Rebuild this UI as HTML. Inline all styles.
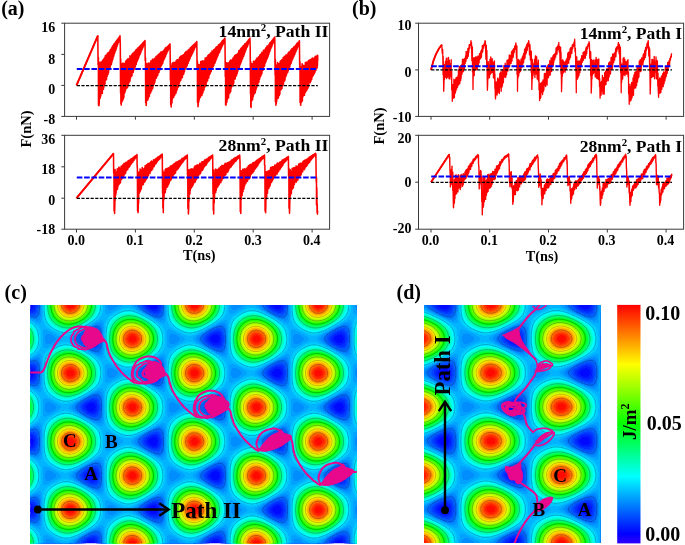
<!DOCTYPE html>
<html lang="en"><head><meta charset="utf-8"><title>Friction force and sliding paths</title>
<style>html,body{margin:0;padding:0;background:#fff}svg{display:block}text{font-family:"Liberation Serif","Times New Roman",serif;font-weight:bold;fill:#000}</style></head><body>
<svg width="685" height="545" viewBox="0 0 685 545">
<rect width="685" height="545" fill="#fff"/>
<defs>
<g id="cf" shape-rendering="crispEdges">
<rect x="-3" y="-3" width="206" height="106" fill="rgb(0,9,255)"/>
<path fill="#001cff" fill-rule="evenodd" d="M-2.6-3l129.3 0-0.9 1.3-0.4 1.4 0.3 1.7 0.8 1.3 1.4 1.5 2 1.2 2.3 0.8 2.1 0.3 1.7-0.1 1.3-0.5 1.3-0.9 0.9-1.2 0.6-1.5 0.3-1.8 0-1.7-0.5-1.8 63.1 0 0 106-63.1 0 0.5-1.8 0-1.7-0.3-1.8-0.6-1.5-0.9-1.2-1.3-0.9-1.3-0.5-1.7-0.1-2.1 0.3-2.3 0.8-2 1.2-1.4 1.5-0.8 1.3-0.3 1.8 0.4 1.3 0.9 1.3-129.7 0 0-106 0.4 0zM31.9 43.8l-3 1.3-2.2 1.8-0.6 0.9-0.6 1.3-0.1 0.9 0.3 1.3 0.7 1.3 1.1 1.2 1.4 1.1 1.6 0.8 1.7 0.5 1.7 0.3 1.7 0 1.3-0.4 1.8-1.2 0.8-1.1 0.5-1.2 0.4-1.3 0.1-1.7-0.6-2.7-1.3-1.9-1.7-1.1-2.1-0.4-2.9 0.3z"/>
<path fill="#002fff" fill-rule="evenodd" d="M-2.6-3l125.3 0-0.8 1.8-0.2 1.3 0.1 0.9 0.8 1.7 1.4 1.8 2.2 1.8 3.4 1.7 3 1.1 3 0.3 1.7-0.1 1.8-0.6 1.6-1.1 1-1.3 1-2.2 0.5-2.2 0.1-2.7-0.3-2.2 60 0 0 106-60 0 0.3-2.2-0.1-2.7-0.5-2.2-1-2.2-1-1.3-1.6-1.1-1.8-0.6-1.7-0.1-3 0.3-3 1.1-3.4 1.7-2.2 1.8-1.4 1.8-0.8 1.7-0.1 0.9 0.2 1.3 0.8 1.8-125.7 0 0-106 0.4 0zM33.7 40.7l-2.4 0.6-2.5 1-2.2 1.2-2.1 1.6-1.4 1.4-0.8 1.3-0.5 1.3 0 1.8 0.5 1.4 1.2 1.7 1.8 1.6 2.3 1.5 2.4 1.1 2.6 0.9 2.6 0.3 2.1-0.1 1.8-0.6 1.2-0.7 1.2-1.4 0.8-1.3 0.6-1.8 0.4-2.2 0-2.2-0.2-1.7-1.1-3.1-0.8-1.4-1.3-1.1-1.3-0.7-1.3-0.4-1.7-0.1-1.9 0.1z"/>
<path fill="#0042ff" fill-rule="evenodd" d="M-2.6-3l122.1 0-0.8 2.2-0.1 0.9 0.2 1.3 1.2 2.2 2.1 2.2 3.2 2.2 4.3 2.2 3.9 1.2 3.4 0.4 2.2-0.2 1.7-0.6 1.6-1.2 1.3-1.8 1-2.2 0.5-2.6 0.3-3.1-0.2-3.1 57.7 0 0 106-57.7 0 0.2-3.1-0.3-3.1-0.5-2.6-1-2.2-1.3-1.8-1.6-1.2-1.7-0.6-2.2-0.2-3.4 0.4-3.9 1.2-4.3 2.2-3.2 2.2-2.1 2.2-1.2 2.2-0.2 1.3 0.1 0.9 0.8 2.2-122.5 0 0-106 0.4 0zM33.8 38.5l-2.9 0.9-3.3 1.3-3.1 1.8-2.2 1.5-1.7 1.6-1.3 1.8-0.6 1.7 0 1.8 0.6 1.7 1.8 2.3 2.5 2 3.1 1.9 3.3 1.5 3.5 1.1 3 0.4 2.6-0.2 1.7-0.6 1.3-0.9 1.2-1.4 1.1-2.1 0.7-2.4 0.3-2.9 0-3.1-0.4-2.6-0.6-2.2-0.9-1.8-1-1.3-1.3-1.1-1.3-0.6-1.7-0.4-2.1 0-2.3 0.3z"/>
<path fill="#0055ff" fill-rule="evenodd" d="M-2.6-3l119.2 0-0.6 1.3-0.3 1.4 0 0.8 0.4 1.4 1.3 2.2 2.8 2.6 4.1 2.7 5.3 2.5 4.7 1.6 3.9 0.5 2.4-0.2 1.9-0.7 1.7-1.5 1.2-1.8 1-2.6 0.6-3.1 0.3-3.6-0.2-3.5 55.9 0 0 106-55.9 0 0.2-3.5-0.3-3.6-0.6-3.1-1-2.6-1.2-1.8-1.7-1.5-1.9-0.7-2.4-0.2-3.9 0.5-4.7 1.6-5.3 2.5-4.1 2.7-2.8 2.6-1.3 2.2-0.4 1.4 0 0.9 0.3 1.3 0.6 1.3-119.6 0 0-106 0.4 0zM35.3 36.3l-3.5 1-3.9 1.5-3.8 1.9-3.4 2.2-2.6 2.2-1.4 1.8-0.9 2.2 0 1.8 0.9 2.2 1.9 2.2 3.3 2.6 3.9 2.3 4.2 1.9 3.9 1.3 3.4 0.6 3-0.2 2.2-0.8 1.4-1.1 1.3-1.7 1-2.2 0.6-2.7 0.4-3.5 0-3.6-0.4-3.5-0.5-2.2-0.8-2.2-1.2-1.8-1.4-1.3-1.7-0.8-1.7-0.4-2.2 0-2 0.3z"/>
<path fill="#0068ff" fill-rule="evenodd" d="M-2.6-3l116.4 0-0.7 1.3-0.3 1.4 0 0.8 0.4 1.4 0.7 1.3 1.1 1.3 3 2.7 5.7 3.5 6.3 3 5.6 1.9 2.2 0.4 2.1 0.2 2.2-0.3 2.1-0.9 1.7-1.6 1.1-1.8 0.9-2.7 0.7-3.5 0.3-4-0.1-4.4 54.2 0 0 106-54.2 0 0.1-4.4-0.3-4-0.7-3.5-0.9-2.7-1.1-1.8-1.7-1.6-2.1-0.9-2.2-0.3-2.1 0.2-2.2 0.4-5.6 1.9-6.3 3-5.7 3.5-3 2.7-1.1 1.3-0.7 1.3-0.4 1.4 0 0.9 0.3 1.3 0.7 1.3-116.8 0 0-106 0.4 0zM37.2 34.1l-3.7 0.9-4.7 1.8-5.3 2.6-4.4 2.6-2.8 2.3-2.1 2.2-1.2 2.2-0.2 1.7 0.8 2.2 0.9 1.4 1.3 1.3 3.3 2.7 4.4 2.6 5.5 2.6 4.9 1.9 3.9 0.9 3.4 0.1 2.1-0.6 1.8-1.1 1.3-1.6 1.1-2.6 0.8-3.1 0.5-4 0.1-4.4-0.3-4-0.6-3.1-0.8-2.6-0.9-1.8-1.2-1.6-1.7-1.1-1.8-0.5-2.1-0.1-2.3 0.2z"/>
<path fill="#007bff" fill-rule="evenodd" d="M-2.6-3l113.5 0-0.7 1.3-0.3 1.4 0 0.8 0.4 1.4 0.7 1.3 1.2 1.3 3.7 3.1 6.7 4 7.9 3.7 6.4 2.3 2.6 0.6 2.1 0.1 2.6-0.3 1.7-0.9 1.5-1.5 1.1-2.1 0.9-2.9 0.6-3.9 0.3-4.8 0-4.9 52.7 0 0 106-52.7 0 0-4.9-0.3-4.8-0.6-3.9-0.9-2.9-1.1-2.1-1.5-1.5-1.7-0.9-2.6-0.3-2.1 0.1-2.6 0.6-6.4 2.3-7.9 3.7-6.7 4-3.7 3.1-1.2 1.3-0.7 1.3-0.4 1.4 0 0.9 0.3 1.3 0.7 1.3-113.9 0 0-106 0.4 0zM39.2 31.9l-4.4 1.1-5.2 2-6.4 3.1-5.4 3.1-3.8 2.6-2.3 2.2-1.5 2.2-0.3 1.4 0 0.8 0.2 0.9 0.6 1.3 1 1.4 1.3 1.3 3.4 2.7 5.2 3 6.3 3.2 6 2.5 4.7 1.3 2.2 0.3 1.7 0 2.1-0.5 1.8-1.1 1.3-1.7 1.2-2.6 0.8-3.6 0.5-4.4 0.1-5.3-0.2-4.8-0.5-3.6-0.7-2.9-0.9-2.4-1.2-1.7-1.3-1.1-1.7-0.7-2.2-0.2-2.4 0.2z"/>
<path fill="#008eff" fill-rule="evenodd" d="M-2.6-3l110.4 0-0.8 1.3-0.4 1.4 0 0.8 0.5 1.4 0.8 1.3 1.3 1.3 4 3.1 8.4 4.9 10.2 4.8 3.8 1.5 3.5 1.1 2.5 0.6 2.2 0.2 2.1-0.3 1.7-0.9 1.3-1.5 1.1-2.4 0.8-3.1 0.6-4.5 0.2-5.3 0-5.7 51.4 0 0 106-51.4 0 0-5.7-0.2-5.3-0.6-4.5-0.8-3.1-1.1-2.4-1.3-1.5-1.7-0.9-2.1-0.3-2.2 0.2-2.5 0.6-3.5 1.1-3.8 1.5-10.2 4.8-8.4 4.9-4 3.1-1.3 1.3-0.8 1.3-0.5 1.4 0 0.9 0.4 1.3 0.8 1.3-110.8 0 0-106 0.4 0zM40.6 29.7l-4.5 1.3-6.5 2.7-7.3 3.5-7.1 4-4 2.6-3 2.7-1.4 2.2-0.2 1.7 0.2 0.9 0.7 1.3 1.1 1.4 1.5 1.3 4.4 3.1 6.1 3.5 8.2 4.1 6.8 2.8 5.2 1.5 2.1 0.4 1.7-0.1 2.2-0.6 1.7-1.4 1.2-2.3 0.8-2.6 0.7-4.4 0.4-5.8 0-6.6-0.3-5.7-0.5-3.6-0.6-2.6-0.9-2.2-1.2-1.8-1.3-1-1.7-0.6-2.2-0.1-2.3 0.4z"/>
<path fill="#00a1ff" fill-rule="evenodd" d="M-2.6-3l61.8 0-0.2 2.2 0 2.2 0.3 2.2 0.6 1.8 0.6 1 0.9 0.8 1.3 0.5 1.2 0.1 2.6-0.4 3-1.1 3.3-1.8 2.3-1.8 1-1.3 0.4-1.3-0.3-1.3-1.4-1.8 29.4 0-1 1.3-0.4 0.9-0.1 0.9 0.4 1.3 0.9 1.3 1.3 1.4 4.4 3.1 10.3 5.7 13.5 6.5 7.7 3.1 3 0.7 2.1 0.3 1.8-0.3 0.8-0.4 0.8-0.6 1.2-1.8 0.7-2.2 0.6-3.5 0.5-4.9 0.2-12.8 50.1 0 0 51.7-0.3 1.3 0.3 1.3 0 51.7-50.1 0-0.2-12.8-0.5-4.9-0.6-3.5-0.7-2.2-1.2-1.8-0.8-0.6-0.8-0.4-1.8-0.3-2.1 0.3-3 0.7-7.7 3.1-13.5 6.5-10.3 5.7-4.4 3.1-1.3 1.4-0.9 1.3-0.4 1.3 0.1 0.9 0.4 0.9 1 1.3-29.4 0 1.4-1.8 0.3-1.3-0.4-1.3-1-1.3-2.3-1.8-3.3-1.8-3-1.1-2.6-0.4-1.2 0.1-1.3 0.5-0.9 0.8-0.6 1-0.6 1.8-0.3 2.2 0 2.2 0.2 2.2-62.2 0 0-106 0.4 0zM45.4 26.6l-2.5 0.4-2.6 0.8-7.7 3.2-11.9 5.8-9.7 5.2-4.7 3.1-2.4 2.3-0.9 1.3-0.3 0.9 0 0.8 0.5 1.4 1.1 1.3 1.4 1.3 5.3 3.6 8.8 4.8 11.5 5.6 6.9 3 4.7 1.6 3.5 0.5 1.2-0.2 1.3-0.5 1.3-1.2 0.9-1.7 0.7-2.7 0.6-3.6 0.3-5.2 0.2-6.6 0-7.1-0.3-6.2-0.9-6.2-0.6-2.2-0.6-1.3-0.7-0.9-1.3-0.9-1.3-0.4-1.8 0zM162 42.5l-1.3 0.9-0.8 1.3-0.7 2.2-0.2 2.2 0 2.7 0.5 2.6 0.9 1.8 1 1 1.3 0.5 1.2 0.1 1.8-0.2 2.1-0.6 2.8-1.3 2.3-1.3 1.8-1.3 1.2-1.3 0.5-0.9 0.1-0.9-0.3-1.3-1-1.3-2.3-1.8-3.2-1.8-3.2-1.2-2.6-0.4-1.9 0.3z"/>
<path fill="#00b4ff" fill-rule="evenodd" d="M-2.6-3l58 0 0 8.4 0.6 5.3 0.5 1.8 0.6 0.8 0.8 0.5 0.9 0.1 1.3-0.2 2.1-0.6 5.6-2.4 8.9-4.4 5.9-3.6 1.6-1.3 0.6-1.3 0-0.4-0.5-0.9-2-1.8 17.1 0-2.1 1.8-0.5 0.9 0.1 0.8 1 1.4 3.1 2.2 12.3 6.6 23.2 11.5 9 4.1 2.6 0.9 2.1 0.4 1.3-0.2 0.9-0.7 0.6-1.4 0.5-2.2 0.5-8.9 0.1-17.2 48.9 0 0 47.8-4.7 3-1.2 1.3-0.3 0.9 0.3 0.9 1.2 1.3 4.7 3 0 47.8-48.9 0-0.1-17.2-0.5-8.9-0.5-2.2-0.6-1.4-0.9-0.7-1.3-0.2-2.1 0.4-2.6 0.9-9 4.1-23.2 11.5-12.3 6.6-3.1 2.2-1 1.4-0.1 0.9 0.5 0.8 2.1 1.8-17.1 0 2-1.8 0.5-0.8 0-0.5-0.6-1.3-1.6-1.3-5.9-3.6-8.9-4.4-5.6-2.4-2.1-0.6-1.3-0.2-0.9 0.1-0.8 0.5-0.6 0.8-0.5 1.8-0.6 5.3 0 8.4-58.4 0 0-52.3 1.3 1.5 3.3 2.2 5.6 3.1 10.2 5.3 24.2 11.8 5.6 2.3 3 0.7 1.3-0.2 0.9-0.7 0.5-1.1 0.4-1.7 0.6-6.7 0.2-13.2-0.1-17.2-0.5-9.3-0.3-2.2-0.7-1.8-0.9-0.9-1-0.2-1.2 0.1-1.8 0.4-4.7 1.9-8.6 4-13.3 6.6-11.3 5.8-7.4 3.9-3.4 2.3-1.1 0.8-0.8 1.1 0-52.3 0.4 0zM157.7 36.3l-0.6 0.4-0.5 0.6-0.7 2.1-0.4 3.5-0.2 5.8 0.1 6.6 0.4 4.4 0.7 2.7 0.6 0.8 0.4 0.4 1.3 0.3 2.1-0.4 3-1.1 4.1-1.8 6.3-3.1 5.7-3.1 3.3-2.2 1.3-1.3 0.2-0.9 0-0.4-1-1.4-2.3-1.7-3.9-2.2-7.7-4-6.4-2.9-3.4-1.1-1.3-0.2-1.1 0.2z"/>
<path fill="#00c7ff" fill-rule="evenodd" d="M-2.6-3l55.3 0-0.2 9.3-0.4 3.5-0.6 3.1-1.4 3.1-2.1 2.6-3.2 2.7-4.2 2.6-11 6-15.9 7.9-9.8 4.5-6.9 2.5 0-47.8 0.4 0zM155.4-3l47.6 0 0 45.7-5.2 1.9-3.8 0.9-3.4 0.1-3.9-0.7-3-0.9-3.4-1.4-8.2-3.8-7.3-4.1-2.6-1.8-1.6-1.5-1.6-1.7-1.3-2.2-1-2.7-0.6-3.1-0.4-4.4-0.3-6.2-0.2-10.6 0-3.5 0.2 0zM89.7 4.5l3-0.1 3.4 0.6 3.9 1.2 5.1 2 10.3 4.8 13.4 6.6 9.7 5.2 5.8 3.6 2.4 1.7 1.9 1.8 1.3 1.8 1 1.7 0.7 2.2 0.6 2.7 0.5 7.5-0.2 8.8-0.4 3.6-0.6 2.6-0.8 2.2-1.1 1.8-1.5 1.8-2 1.7-4.6 3.1-7.1 4-11.7 6-12.4 6.1-6.9 3-4.7 1.8-3.9 1-3 0.3-2.5-0.1-3-0.7-3.9-1.3-4.3-1.8-5.6-2.7-5.5-3-3.8-2.4-2.7-2.2-1.3-1.4-1.1-1.7-0.8-1.8-0.7-2.2-0.8-5.7-0.5-9.3 0-15.9 0.4-11.5 0.9-6.2 0.7-2.2 1-2.2 1.7-2.2 2.2-2 3.5-2.3 4.7-2.7 6-3 6-2.6 3.9-1.3 3.4-0.7zM190.6 54.4l2.5 0.1 3 0.5 3 0.8 3.9 1.5 0 45.7-47.8 0 0.2-14.1 0.6-9.3 0.4-3.1 0.6-2.2 0.9-2.2 1.1-1.8 2.1-2.2 2.9-2.2 3.8-2.4 5.2-2.7 5.5-2.7 5.2-2.1 3.4-1 3.5-0.6zM-2.6 55.3l4.3 1.5 5.6 2.4 18 8.7 14.5 7.7 4.3 2.7 3 2.2 1.8 1.7 1.2 1.8 0.9 1.8 0.7 2.2 0.5 2.6 0.4 3.6 0.1 8.8-55.7 0 0-47.8 0.4 0.1z"/>
<path fill="#00daff" fill-rule="evenodd" d="M-2.6-3l53.1 0 0 6.6-0.8 5.8-0.7 2.2-0.9 2.2-1 1.8-1.3 1.7-1.6 1.8-2.1 1.7-5 3.6-10.5 5.9-13.3 6.6-9 3.7-3.9 1.3-3.4 0.8 0-45.7 0.4 0zM156.6-3l46.4 0 0 44.1-4.7 1.3-4.3 0.7-4.3-0.1-4.3-0.8-6-2.1-6.4-3-5.6-3.4-3.9-3.1-2-2.2-1.7-2.7-1.2-2.6-0.9-3.6-0.8-4.8-0.4-6.2-0.2-11.5 0.3 0zM88.8 7.1l3.9-0.2 3.9 0.4 4.3 1 5.1 1.7 7.3 3.1 9.4 4.6 8.6 4.5 6.6 4 3.2 2.2 2.7 2.2 2.1 2.2 1.6 2.2 1.2 2.6 0.9 2.7 0.6 3.1 0.3 3.5 0.1 4-0.2 4-0.5 3.5-0.8 3.1-1.2 2.6-1.3 2.2-1.9 2.3-2.4 2.2-4.4 3.1-6.1 3.6-8.6 4.6-9 4.4-6.9 2.9-5.2 1.9-4.7 1.3-3.8 0.5-3 0-3.5-0.5-3.4-0.9-3.9-1.4-4.7-2.1-4.3-2.3-3.8-2.5-3.1-2.4-1.8-1.9-1.3-1.7-1.3-2.2-0.9-2.2-0.7-2.7-0.6-3.1-0.7-7.5-0.3-12.8 0.2-6.2 0.4-5.3 0.6-4 0.7-3 0.9-2.7 1.4-2.6 2-2.7 2.3-2.2 3-2.2 3.9-2.4 4.7-2.4 4.7-2 4.3-1.4 3.4-0.7zM189.7 57l3-0.1 3.4 0.3 3 0.6 3.9 1.1 0 44.1-46.7 0 0.2-11.5 0.8-8.8 0.7-3.6 0.8-2.6 1-2.2 1.3-2.2 1.9-2.2 2.7-2.4 3.4-2.3 4.3-2.5 4.7-2.3 4.3-1.7 3.9-1.1 3.4-0.6zM-2.6 57.4l4.3 1.1 5.2 1.9 6.4 2.7 7.3 3.5 7.7 4 6.6 3.7 4.9 3.1 3.4 2.6 1.8 1.8 1.8 2.2 1.3 2.2 1.1 2.7 0.7 3.1 0.5 3 0.2 4-0.1 4-53.5 0 0-45.7 0.4 0.1z"/>
<path fill="#00edff" fill-rule="evenodd" d="M-2.6-3l51.3 0 0 5.3-0.6 4.9-0.7 2.6-0.8 2.2-1.1 2.2-1.5 2.2-1.9 2.2-1.9 1.8-5 3.8-4.7 2.8-5.2 2.9-11.6 5.7-5.1 2.1-4.3 1.5-3.9 1.1-3.4 0.7 0-44 0.4 0zM157.5-3l45.5 0 0 42.6-5.2 1.3-4.2 0.4-4.3-0.2-4.3-0.9-5.2-1.7-5.1-2.4-5.2-3.1-3.8-3-2.3-2.5-1.9-2.7-1.4-3.1-1.1-3.5-0.8-4.4-0.6-5.3-0.2-7.1 0-4.4 0.1 0zM89.7 8.9l3.9-0.2 4.3 0.4 4.2 1 5.2 1.7 6.4 2.6 7.8 3.7 7.3 3.8 6.2 3.8 3.7 2.7 2.6 2.2 2.1 2.2 1.9 2.6 1.4 2.7 1 3.1 0.7 3.1 0.3 3.5 0 4-0.3 3.5-0.6 3.1-0.9 3.1-1.3 2.6-1.5 2.2-2.3 2.7-2.5 2.2-4.3 3.1-5.8 3.5-7.3 3.9-7.3 3.5-6 2.5-5.2 1.8-4.7 1.2-4.3 0.6-3.4-0.1-3.4-0.4-3.5-0.8-3.8-1.3-4.3-1.9-3.9-2.1-3.4-2.3-3-2.4-1.8-1.8-1.6-2.1-1.3-2.2-1.1-2.7-0.9-3.1-0.6-3.1-0.9-7.9-0.1-5.8 0-5.7 0.3-5.3 0.5-4.4 0.7-3.6 0.8-3.1 1.1-2.6 1.5-2.7 2.1-2.6 2.6-2.4 3-2.2 3.8-2.4 4.3-2.1 4.3-1.6 3.9-1.1 3.4-0.6zM190.6 58.8l3-0.1 3 0.2 3 0.6 3.4 0.9 0 42.6-45.6 0 0.2-10.6 0.3-4.4 0.6-4 0.9-3.5 0.9-2.7 1.2-2.6 1.5-2.2 2.2-2.5 2.8-2.4 3.2-2.2 3.9-2.2 4.3-2 3.9-1.4 3.4-0.9 3.9-0.6zM-2.6 59.1l4.3 0.9 5.2 1.6 5.5 2.3 6.1 2.7 6.8 3.5 6.5 3.6 4.7 3 3.7 2.9 2.3 2.2 1.9 2.2 1.6 2.7 1.2 2.6 0.8 3.1 0.5 3.1 0.3 3.5-0.1 4-51.7 0 0-44 0.4 0.1z"/>
<path fill="#00fffd" fill-rule="evenodd" d="M-2.6-3l49.6 0 0.1 4.4-0.5 4.4-0.6 2.7-0.9 2.6-1.1 2.2-1.4 2.3-1.7 2.2-1.8 1.8-2.6 2.1-3 2.2-4.2 2.7-5.3 3-5.1 2.6-5.6 2.5-4.3 1.7-4.3 1.5-3.8 1-3.9 0.7 0-42.6 0.4 0zM158.8-3l44.2 0 0 41.4-4.7 1-4.3 0.4-4.3-0.2-4.3-0.9-5.1-1.6-4.8-2.2-4.7-2.9-3.5-2.8-2.5-2.6-1.8-2.7-1.6-3.2-1.3-3.8-1-4.9-0.6-5.7-0.1-9.3 0.4 0zM92.3 10.2l3.8 0.2 4.3 0.6 4.7 1.2 5.2 1.8 6 2.6 6.9 3.4 6 3.3 5.1 3.3 3 2.3 2.8 2.5 2 2.3 1.7 2.6 1.3 2.7 1.1 3 0.6 3.6 0.3 3.5-0.1 3.5-0.4 3.6-0.8 3.1-1.3 3.1-1.5 2.6-1.7 2.2-2.2 2.4-3 2.5-4.5 3.1-6 3.5-6.3 3.3-6.9 3.1-5.5 2.1-4.8 1.4-4.2 0.9-3.9 0.3-3.4-0.2-3.9-0.6-3.4-0.9-3.9-1.4-3.9-1.8-3.7-2.2-3.1-2.3-2.6-2.4-2-2.4-1.4-2.2-1.3-2.6-1-2.7-0.8-3.5-0.6-3.6-0.6-8.8 0.2-9.7 0.5-4.4 0.7-3.6 0.8-3.1 1.2-3 1.4-2.7 1.5-2.2 2.3-2.4 2.9-2.5 3.3-2.2 3.6-1.9 4.3-1.9 3.9-1.2 3.8-0.8 3.5-0.4zM-2.6 60.5l4.3 0.8 4.7 1.3 5.6 2.1 5.6 2.5 6.4 3.2 5.6 3.2 4.5 2.9 4 3.1 2.3 2.2 1.9 2.2 1.7 2.7 1.3 2.6 1 3.1 0.6 3.5 0.2 3.6-0.1 3.5-50 0 0-42.6 0.4 0.1zM188.8 60.6l3.5-0.4 3.4 0.1 3.4 0.4 3.9 0.9 0 41.4-44.6 0 0.1-9.3 0.5-4.4 0.5-3.5 0.7-3.1 1-3.1 1.3-2.7 1.4-2.3 2.1-2.5 2.2-2.2 2.6-1.9 3.4-2.2 3.5-1.7 3.8-1.6 3.9-1.2 3.4-0.7z"/>
<path fill="#00ffe5" fill-rule="evenodd" d="M-2.6-3l48.1 0 0.1 4-0.4 4-0.5 2.6-0.9 2.6-1.3 2.7-1.3 2.2-1.8 2.2-2.1 2.2-2.6 2.2-3 2.2-4.2 2.7-4.7 2.6-4.8 2.4-5.1 2.3-4.3 1.6-4.3 1.4-3.9 0.9-3.4 0.5 0-41.3 0.4 0zM159.7-3l43.3 0 0 40.2-4.7 0.9-4.3 0.3-4.3-0.2-4.3-0.9-4.7-1.5-4.3-2-4.3-2.6-3.6-2.8-2.5-2.7-2.1-3-1.5-3.2-1.2-3.5-1-4.4-0.6-5.3-0.3-7.1 0.1-2.2 0.3 0zM93.6 11.6l4.3 0.2 4.2 0.8 4.8 1.3 4.7 1.7 6 2.6 6 3 5.5 3.2 4.4 3 2.9 2.3 2.7 2.6 1.8 2.2 1.7 2.7 1.2 2.6 1 3.1 0.6 3.6 0.2 3.5-0.2 3.5-0.6 3.6-1 3.1-1.2 2.6-1.7 2.7-1.8 2.2-2.6 2.5-2.9 2.3-4.5 3.1-5.3 3.1-5.8 2.9-6 2.7-5.1 1.8-4.8 1.3-4.2 0.8-3.9 0.2-3.4-0.1-3.9-0.7-3.9-1-3.4-1.4-3.9-1.9-3.2-1.9-2.9-2.3-2.4-2.3-1.8-2.1-1.6-2.6-1.3-2.7-1-3.1-0.9-3.5-0.5-3.5-0.4-4.4-0.2-4.5 0.1-4.4 0.4-4.4 0.5-4 0.8-3.5 1-3.1 1.2-2.6 1.7-2.7 1.7-2.2 2.4-2.4 3-2.3 3.4-2.1 3.5-1.8 3.4-1.3 3.9-1.1 3.8-0.7 3.5-0.2zM-2.6 61.8l4.3 0.7 4.3 1.1 5.2 1.8 5.5 2.4 5.6 2.7 5.6 3.1 4.4 2.9 4 3.1 2.3 2.2 2.2 2.6 1.7 2.7 1.3 2.7 1 3 0.6 3.1 0.2 3.6-0.1 3.5-48.5 0 0-41.3 0.4 0.1zM189.3 61.9l3.4-0.3 3.4 0 3.5 0.5 3.4 0.7 0 40.2-43.6 0 0.1-8.8 0.4-4 0.7-4 0.8-3.1 1.2-3.1 1.3-2.6 1.3-2.1 2-2.3 2.3-2.2 3-2.2 3-1.9 3.5-1.8 3.4-1.3 3.4-1 3.5-0.7z"/>
<path fill="#00ffcd" fill-rule="evenodd" d="M-2.6-3l46.7 0 0.1 4-0.3 3.5-0.6 2.7-0.9 2.6-1.2 2.7-1.4 2.2-1.7 2.2-2.1 2.2-2.5 2.2-2.9 2.2-4 2.6-4.3 2.4-4.7 2.4-4.7 2-4.3 1.7-3.9 1.1-3.8 0.9-3.9 0.5 0-40.1 0.4 0zM160.5-3l42.5 0 0 39.2-4.3 0.7-4.3 0.3-4.3-0.2-4.3-0.9-4.7-1.5-4.3-2-3.8-2.4-3.4-2.7-2.5-2.7-1.9-2.6-1.6-3.1-1.3-3.5-1-4-0.7-4.9-0.3-6.2 0-3.5 0.2 0zM91.8 12.9l3.9-0.1 3.9 0.4 4.3 0.8 4.7 1.4 5.1 2 5.6 2.5 5.6 3 4.7 2.9 3.5 2.6 2.9 2.5 2.2 2.3 2 2.7 1.5 2.6 1.2 3.1 0.8 3.1 0.5 3.5 0 3.6-0.4 3.1-0.7 3.1-1.2 3-1.4 2.7-1.9 2.6-2.5 2.7-2.5 2.2-4 3-4.7 2.9-5.2 2.7-5.5 2.6-5.2 2-4.7 1.4-4.3 0.9-3.9 0.5-3.4 0-3.4-0.4-3.5-0.7-3.4-1-3.4-1.4-3.6-1.9-3.3-2.2-2.6-2.2-2.1-2.2-1.7-2.2-1.3-2.2-1.3-2.8-1-3-0.8-3.5-0.6-3.5-0.3-4-0.1-4.4 0.1-4.5 0.4-3.9 0.7-4 0.9-3.1 1.1-3.1 1.4-2.6 1.7-2.7 2.4-2.6 2.5-2.3 2.7-1.9 3.5-1.9 3.4-1.6 3.9-1.3 3.4-0.8 3.4-0.4zM193.1 62.8l4.7 0.2 5.2 0.8 0 39.2-42.7 0 0-4.4 0.2-4.4 0.5-4 0.7-3.5 0.8-3.1 1.3-3.1 1.4-2.8 1.9-2.5 2.4-2.6 2.6-2.2 3-2 3.4-1.9 3.5-1.4 3.8-1.2 3.9-0.8 3.4-0.3zM-2.6 62.9l4.3 0.7 4.3 1 4.7 1.6 5.2 2.1 5.6 2.7 5 2.9 4.4 2.8 3.7 2.9 2.3 2.2 2.3 2.6 1.8 2.7 1.3 2.7 1 3 0.6 3.1 0.3 3.6-0.1 3.5-47.1 0 0-40.1 0.4 0z"/>
<path fill="#00ffb5" fill-rule="evenodd" d="M-2.6-3l45.3 0 0.2 4-0.4 3.5-0.6 2.7-0.9 2.6-1.3 2.7-1.4 2.2-1.7 2.2-2.2 2.2-2.5 2.2-3 2.2-3.6 2.3-4.3 2.4-4.3 2.2-4.3 1.8-4.2 1.5-3.9 1.1-3.9 0.8-3.4 0.4 0-39 0.4 0zM161.4-3l41.6 0 0 38.1-4.3 0.8-4.3 0.2-4.3-0.3-3.8-0.8-4.3-1.3-4.3-2-3.9-2.4-3-2.4-2.5-2.5-1.9-2.7-1.7-3.1-1.4-3.5-1-4-0.7-4.4-0.4-5.3 0.2-4.4zM90.1 14.2l3.9-0.3 3.9 0.2 4.2 0.6 4.3 1 4.3 1.5 5.2 2.1 5.1 2.5 4.7 2.6 3.9 2.6 3 2.3 2.8 2.6 2.3 2.6 1.8 2.7 1.5 3.1 1.1 3.1 0.6 3.1 0.2 3.1-0.2 3.5-0.5 3.1-1 3.1-1.2 2.6-1.6 2.7-2.1 2.6-2.4 2.4-3.4 2.8-3.9 2.6-4.7 2.8-4.7 2.4-4.8 2-4.7 1.7-4.3 1.1-4.3 0.8-3.4 0.3-3.4-0.1-3.5-0.4-3-0.7-3.4-1.1-3.4-1.4-3-1.7-3-2-2.2-1.8-2.2-2.2-1.7-2.2-1.6-2.6-1.2-2.7-1.1-3.1-0.8-3.1-0.5-3.5-0.4-4-0.1-4.4 0.2-4.4 0.5-4 0.8-3.6 1-3.4 1.4-3.1 1.4-2.6 2.1-2.7 2.2-2.2 2.6-2.1 3-2 3.4-1.8 3.5-1.3 3.4-1 3.4-0.7zM-2.6 64l4.3 0.6 4.3 1 4.7 1.6 4.8 1.9 5.1 2.4 4.7 2.7 4.3 2.7 3.4 2.7 2.8 2.6 2 2.4 1.9 2.9 1.3 2.7 1 3.1 0.6 3.1 0.3 3.1-0.2 3.5-45.7 0 0-39 0.4 0zM191 64.1l3-0.2 3 0.1 6 0.9 0 38.1-41.7 0-0.1-4 0.2-4 0.5-3.9 0.7-3.6 0.8-3.1 1.3-3 1.4-2.7 1.5-2.2 1.9-2.2 2.5-2.2 2.7-2 3-1.8 3-1.4 3.4-1.3 3.4-0.9 3.5-0.6z"/>
<path fill="#00ff9c" fill-rule="evenodd" d="M-2.6-3l44 0 0.2 3.5-0.3 3.6-0.6 2.6-0.9 2.7-1.2 2.6-1.4 2.2-1.7 2.2-2.1 2.2-2.5 2.2-2.9 2.3-3.5 2.2-3.9 2.2-4.3 2.1-4.3 1.9-3.8 1.3-3.9 1.1-3.9 0.7-3.4 0.4 0-38 0.4 0zM162.2-3l40.8 0 0 37.2-4.3 0.6-4.3 0.2-4.3-0.3-3.8-0.8-3.9-1.3-3.9-1.7-3.8-2.4-3-2.4-2.5-2.6-2-2.7-1.7-3-1.4-3.6-1-4-0.6-3.9-0.3-4.9 0-4.4zM92.3 15.1l3.8-0.1 3.9 0.3 3.9 0.7 4.3 1.2 4.7 1.7 4.7 2.1 4.7 2.4 4.5 2.8 3.2 2.3 3 2.5 2.2 2.2 2.1 2.7 1.6 2.6 1.3 3.1 0.9 3.1 0.4 3.1 0.1 3.1-0.3 3.1-0.7 3.1-1.1 3.1-1.4 2.6-1.8 2.7-2.4 2.6-2.4 2.2-3.4 2.7-4.1 2.6-4.3 2.4-4.7 2.2-4.7 1.9-4.3 1.3-4.3 1-3.8 0.5-3.5 0.1-3.4-0.2-3.4-0.6-3.1-0.8-3.4-1.3-3-1.4-3-1.9-2.6-1.9-2.2-2.2-1.9-2.2-1.5-2.2-1.4-2.6-1.3-3.1-0.8-3.1-0.7-3.5-0.4-3.6-0.2-4 0.1-3.9 0.4-4 0.7-3.5 0.8-3.1 1.2-3.1 1.3-2.7 1.8-2.6 2-2.4 2.6-2.3 2.6-2 3-1.7 3.4-1.6 3.4-1.1 3.4-0.9 3.5-0.4zM193.6 65l4.7 0.1 4.7 0.7 0 37.2-40.8 0-0.1-4 0.3-4 0.5-3.9 0.7-3.6 1-3.1 1.3-3 1.5-2.5 1.7-2.3 2.1-2.3 2.6-2.2 3-2 3-1.6 3.5-1.5 3.4-1 3.4-0.7 3.5-0.3zM-2.6 65.1l4.3 0.5 4.3 1 4.3 1.3 4.7 1.9 4.7 2.2 4.8 2.7 4.1 2.7 3.4 2.6 2.3 2.3 2.3 2.6 1.7 2.6 1.4 2.7 1 3.1 0.7 3.1 0.2 3.1-0.2 3.5-44.4 0 0-38 0.4 0.1z"/>
<path fill="#00ff84" fill-rule="evenodd" d="M-2.6-3l42.8 0 0.2 3.5-0.3 3.6-0.6 2.6-0.9 2.7-1.3 2.6-1.4 2.2-1.8 2.2-2.1 2.2-2.6 2.2-2.8 2.1-3.4 2.2-3.9 2.2-3.8 1.8-3.9 1.6-3.9 1.3-3.8 1-3.5 0.7-3.4 0.3 0-37 0.4 0zM163.5-3l39.5 0 0 36.2-4.3 0.7-3.9 0.1-4.2-0.3-3.9-0.8-3.9-1.2-3.8-1.8-3.5-2.1-3.1-2.5-2.4-2.6-2-2.7-1.7-3.1-1.4-3.6-1.1-4.4-0.6-4.4-0.1-6.6 0-0.9 0.4 0zM94.8 16l3.9 0.1 3.9 0.6 3.8 0.9 4.3 1.4 4.3 1.7 4.7 2.2 4.3 2.5 3.8 2.5 3.1 2.5 2.5 2.4 1.9 2.2 1.8 2.6 1.3 2.7 1.1 3.1 0.7 3.1 0.2 3.1-0.1 3-0.6 3.1-0.9 3.1-1.2 2.7-1.7 2.6-2 2.5-2.3 2.4-2.8 2.4-3.5 2.5-4.3 2.5-4.3 2.2-4.7 2-4.3 1.4-4.3 1.1-3.8 0.7-3.9 0.2-3.4-0.1-3.5-0.5-3.4-0.9-3-1-3-1.4-3-1.7-2.6-1.9-2.4-2.2-1.9-2.1-1.6-2.3-1.4-2.7-1.2-2.6-0.9-3.1-0.7-3.1-0.4-3.5-0.2-4 0-4 0.4-3.5 0.6-3.6 0.8-3 1.2-3.1 1.3-2.7 1.7-2.6 1.7-2.1 2.2-2.1 2.6-2 2.9-1.9 3-1.4 3-1.2 3.5-0.9 3.4-0.6 3.4-0.2zM-2.6 66l3.9 0.5 4.3 0.9 4.3 1.3 4.3 1.6 4.7 2.2 4.3 2.4 3.9 2.5 3.4 2.6 2.8 2.7 2.2 2.6 1.8 2.7 1.3 2.6 1 3.1 0.6 3.1 0.2 3.1-0.2 3.1-43.2 0 0-37 0.4 0zM190.6 66.3l3-0.3 3 0 3 0.2 3.4 0.6 0 36.2-39.9 0 0-4 0.1-3.5 0.5-3.5 0.6-3.1 0.9-3.1 1.1-2.7 1.4-2.6 1.4-2.1 1.7-2.1 2.2-2.1 2.5-2 2.6-1.6 3-1.5 3-1.2 3-0.9 3.5-0.7z"/>
<path fill="#00ff6c" fill-rule="evenodd" d="M-2.6-3l41.7 0 0.1 3.5-0.3 3.6-0.6 2.6-1 2.7-1.3 2.6-1.5 2.2-1.7 2.2-2.2 2.2-5 4-3.3 2.1-3.4 1.9-3.9 1.9-3.8 1.5-3.9 1.3-3.4 0.8-3.5 0.6-3.4 0.3 0-36 0.4 0zM164.4-3l38.6 0 0 35.3-4.3 0.6-3.9 0.1-3.8-0.3-3.9-0.7-3.8-1.3-3.5-1.5-3.4-2.1-3-2.4-2.5-2.5-1.9-2.7-1.8-3.1-1.4-3.5-1-4-0.7-4.4-0.1-6.2 0-1.3 0.4 0zM91 17.3l3.4-0.3 3.9 0 3.8 0.5 3.9 0.9 4.3 1.3 3.9 1.5 4.3 2 3.8 2.1 3.4 2.2 3.5 2.6 2.6 2.4 2.1 2.5 1.9 2.6 1.4 2.7 1 2.6 0.7 3.1 0.3 2.7 0 3.1-0.4 3.1-0.8 2.6-1 2.7-1.5 2.6-1.9 2.7-2 2.2-2.8 2.5-3.1 2.3-3.8 2.5-3.9 2.1-3.8 1.7-4.3 1.7-3.9 1.1-3.9 0.9-3.4 0.4-3 0.1-3.4-0.1-3-0.5-3.5-0.8-3-1.1-3-1.3-2.5-1.5-2.6-1.9-2.2-1.9-2-2.3-1.6-2.2-1.5-2.6-1.1-2.7-1-3.1-0.7-3-0.5-3.6-0.2-4 0.2-3.9 0.4-3.6 0.7-3.5 0.9-3.1 1.3-3.1 1.5-2.6 1.9-2.6 2.1-2.3 2.6-2.2 2.6-1.7 3-1.6 3-1.2 3.5-1.1 3.4-0.6zM-2.6 67l3.9 0.4 3.9 0.7 4.2 1.3 4.3 1.6 4.3 1.9 4.3 2.4 3.9 2.5 3.4 2.7 2.3 2.2 2.3 2.6 1.8 2.7 1.3 2.6 1.1 3.1 0.6 3.1 0.3 3.1-0.2 3.1-42.1 0 0-36 0.4 0zM191.4 67.2l5.6-0.2 6 0.7 0 35.3-39 0-0.1-3.5 0.2-3.6 0.4-3.5 0.7-3.1 0.9-3.1 1.1-2.6 1.5-2.7 1.5-2.2 1.9-2.2 2.1-2 2.6-1.9 2.6-1.5 3-1.5 3-1.1 3-0.8 3-0.5z"/>
<path fill="#00ff54" fill-rule="evenodd" d="M-2.6-3l40.5 0 0.2 3.5-0.3 3.6-0.7 2.6-0.8 2.2-1.3 2.7-1.4 2.2-1.8 2.2-2.1 2.2-2.6 2.2-2.6 2-6.5 3.8-3.4 1.6-3.9 1.5-3.4 1.1-3.4 0.9-3.5 0.5-3.4 0.3 0-35.1 0.4 0zM165.2-3l37.8 0 0 34.4-3.9 0.6-3.8 0.1-3.9-0.3-3.9-0.7-3.8-1.3-3.4-1.6-3.5-2-2.7-2.3-2.4-2.5-2.1-2.8-1.7-3-1.2-3.1-1.1-4-0.6-4.4-0.2-5.8 0.1-1.3 0.3 0zM91.4 18.2l3.4-0.3 3.9 0.1 3.4 0.4 3.9 0.8 3.9 1.2 4.3 1.6 3.8 1.8 3.9 2.2 3 1.9 3 2.3 2.6 2.3 2.2 2.5 1.9 2.6 1.4 2.7 1 2.6 0.8 3.1 0.3 2.7 0 3.1-0.5 3.1-0.7 2.6-1.1 2.7-1.2 2.2-1.9 2.6-2 2.2-2.8 2.6-3 2.3-3.4 2.2-3.5 1.9-3.8 1.8-3.9 1.5-3.9 1.2-3.8 0.8-3.5 0.5-3 0.1-3.4-0.1-3-0.5-3-0.7-3-1-3-1.3-2.7-1.6-2.5-1.7-2.1-1.9-1.9-2.1-1.7-2.2-1.5-2.7-1.2-2.6-1-3.1-0.6-3.1-0.5-3.5-0.2-3.6 0.2-3.9 0.4-3.6 0.7-3.5 1-3.1 1.2-2.6 1.5-2.7 1.9-2.4 2.1-2.3 2.6-2.1 2.6-1.7 3-1.6 3-1.2 3-0.9 3.4-0.6zM-2.6 67.9l3.9 0.4 4.3 0.8 3.8 1.1 4.3 1.6 4.3 2 3.9 2.2 3.5 2.3 3.3 2.6 2.3 2.2 2.3 2.7 1.7 2.6 1.3 2.7 1 2.6 0.6 3.1 0.2 3.1-0.2 3.1-40.9 0 0-35.1 0.4 0zM192.3 68.1l5.1-0.2 5.6 0.7 0 34.4-38.1 0-0.1-3.5 0.2-3.1 0.4-3.6 0.7-3 0.9-3.1 1.1-2.7 1.4-2.5 1.7-2.4 1.8-1.9 2.1-2 2.6-1.9 2.6-1.5 3-1.4 3-1.1 3-0.8 3-0.4z"/>
<path fill="#00ff3c" fill-rule="evenodd" d="M-2.6-3l39.4 0 0.2 3.5-0.3 3.6-0.7 2.6-0.8 2.2-1.4 2.7-1.4 2.2-1.8 2.2-2.2 2.2-4.8 3.8-3.1 1.9-3.3 1.8-6.9 2.9-3.4 1.1-3.5 0.8-3.4 0.5-3 0.2 0-34.2 0.4 0zM166.1-3l36.9 0 0 33.6-3.9 0.5-3.8 0.1-3.9-0.3-3.9-0.8-3.4-1.2-3.4-1.5-3-1.9-3-2.4-2.6-2.7-1.9-2.6-1.6-3.1-1.2-3.1-1-4-0.6-4-0.1-5.3 0.1-1.3 0.3 0zM91.8 19.1l3.5-0.3 3.4 0.1 3.4 0.4 3.9 0.8 3.9 1.1 3.8 1.5 3.9 1.8 3.4 1.9 3.1 2 2.9 2.2 2.6 2.4 2.2 2.4 1.8 2.7 1.4 2.6 1 2.7 0.7 2.6 0.3 2.7 0 3.1-0.4 2.6-0.7 2.7-1.1 2.6-1.2 2.2-1.8 2.7-2 2.2-2.3 2.2-3 2.4-3.5 2.2-3.4 1.9-3.4 1.6-3.9 1.5-3.9 1.2-3.4 0.8-3.4 0.5-3 0.1-3.5-0.1-3-0.4-3-0.7-3-1.1-3-1.3-2.6-1.5-2.5-1.8-1.9-1.8-2-2.1-1.6-2.3-1.5-2.6-1.2-2.7-0.8-2.6-0.7-3.1-0.5-3.6-0.1-3.5 0.1-3.5 0.5-3.6 0.7-3.1 1-3 1.2-2.7 1.6-2.7 1.7-2.3 2.2-2.2 2.5-2.1 2.6-1.7 2.6-1.3 3-1.2 3-0.9 3.4-0.6zM-2.6 68.8l3.5 0.3 3.8 0.7 3.9 1 4.3 1.5 3.8 1.8 3.9 2 3.4 2.2 3.5 2.7 2.5 2.4 2.1 2.4 1.7 2.6 1.4 2.7 0.9 2.6 0.7 3.1 0.2 3.1-0.2 3.1-39.8 0 0-34.2 0.4 0zM192.7 69l5.1-0.2 5.2 0.6 0 33.6-37.2 0-0.1-3.5 0.1-3.1 0.4-3.1 0.7-3.1 0.8-2.7 1.1-2.6 1.4-2.7 1.6-2.2 1.9-2.2 1.9-1.7 2.5-1.9 2.6-1.6 3-1.4 3-1 3-0.8 3-0.4z"/>
<path fill="#00ff24" fill-rule="evenodd" d="M-2.6-3l38.4 0 0.2 3.5-0.4 3.6-0.7 2.6-0.8 2.2-1.2 2.2-1.4 2.2-1.8 2.3-2.1 2.2-4.9 3.8-6 3.5-3.4 1.6-3.4 1.3-6.5 1.7-3.4 0.4-3 0.2 0-33.3 0.4 0zM166.9-3l36.1 0 0 32.7-3.9 0.5-3.8 0.1-3.9-0.4-3.4-0.7-3.5-1.1-3.4-1.6-3-1.9-2.6-2-2.4-2.6-1.9-2.5-1.5-2.8-1.3-3.1-1.1-4-0.6-4-0.1-4.8 0.1-1.8 0.2 0zM92.3 19.9l3.4-0.2 3.4 0.1 3.5 0.4 3.4 0.7 3.4 1 3.9 1.4 3.9 1.8 3.4 1.9 3.3 2.2 2.7 2.2 2.4 2.3 1.9 2.2 1.6 2.2 1.4 2.6 1 2.7 0.7 2.6 0.3 2.7 0 2.6-0.3 2.7-0.7 2.6-1 2.7-1.2 2.2-1.8 2.6-1.9 2.2-2.3 2.3-2.8 2.2-2.9 1.9-3.4 1.9-3.4 1.7-3.5 1.4-3.8 1.2-3.5 0.8-3.4 0.4-3 0.2-3-0.1-3-0.3-3-0.7-3-0.9-2.6-1.1-2.8-1.6-2.3-1.6-2.3-1.9-2-2.2-1.7-2.2-1.3-2.2-1.2-2.7-0.9-2.6-0.7-3.1-0.4-3.1-0.2-3.6 0.1-3.5 0.4-3.5 0.7-3.1 1-3.1 1.2-2.7 1.6-2.6 1.8-2.3 2.1-2.1 2.2-1.8 2.6-1.8 2.6-1.3 2.9-1.2 3-0.8 3.5-0.7zM-2.6 69.7l3.5 0.2 3.8 0.7 3.9 1 3.8 1.4 3.9 1.7 3.9 2.1 3.4 2.2 3 2.4 2.3 2.2 2.3 2.6 1.7 2.7 1.4 2.6 0.9 2.7 0.6 3.1 0.2 3.1-0.2 2.6-38.8 0 0-33.3 0.4 0zM193.1 69.8l4.7-0.1 5.2 0.6 0 32.7-36.3 0-0.2-3.1 0.2-3.1 0.4-3.1 0.6-3.1 0.8-2.6 1.2-2.7 1.4-2.6 1.6-2.2 2-2.2 1.9-1.8 2.4-1.7 2.5-1.5 2.6-1.2 3-1.1 3-0.7 3-0.5z"/>
<path fill="#00ff0c" fill-rule="evenodd" d="M-2.6-3l37.3 0 0.2 3.5-0.4 3.6-0.7 2.6-0.8 2.2-1.2 2.2-1.5 2.2-3.5 4-2.3 2-2.6 1.9-3 1.9-3 1.5-6.5 2.7-3.4 1-3 0.6-3 0.4-3 0.2 0-32.5 0.4 0zM167.8-3l35.2 0 0 31.9-3.9 0.5-3.4 0-3.9-0.3-3.4-0.7-3.4-1.1-3-1.4-3-1.8-2.6-2.1-2.5-2.5-1.8-2.4-1.6-2.9-1.3-3.1-1-3.5-0.6-4-0.2-4.8 0.1-1.8 0.3 0zM92.3 20.8l3-0.2 3.4 0 3.4 0.4 3.5 0.6 3.4 1 3.4 1.2 3.5 1.6 3.4 1.8 3 1.9 2.6 1.9 2.4 2.2 2.1 2.2 1.6 2.2 1.6 2.7 1.1 2.6 0.8 2.7 0.3 2.6 0.1 2.7-0.3 2.6-0.6 2.7-1 2.6-1.1 2.2-1.5 2.2-1.8 2.3-2.2 2.2-2.7 2.2-2.7 1.9-3 1.7-6.4 3-3.4 1.2-3.5 0.9-3.4 0.6-3 0.2-3 0-3-0.2-3-0.6-2.8-0.8-2.8-1.1-2.6-1.3-2.4-1.5-2.3-1.8-1.8-1.8-1.8-2.2-1.4-2.2-1.4-2.7-1-2.6-0.8-3.1-0.5-3.1-0.3-3.5 0.1-3.5 0.4-3.1 0.6-3.1 1-3.1 1.2-2.7 1.4-2.5 1.8-2.3 2.1-2.2 2.1-1.8 2.6-1.8 2.6-1.3 3-1.2 3-0.9 3-0.6zM-2.6 70.5l3.5 0.3 3.8 0.6 3.5 0.9 3.8 1.4 3.9 1.7 3.4 1.8 3.4 2.2 3.1 2.4 2.3 2.2 2.2 2.7 1.5 2.2 1.4 2.6 0.9 2.7 0.6 3.1 0.2 3.1-0.2 2.6-37.7 0 0-32.5 0.4 0zM193.1 70.7l4.7-0.1 5.2 0.5 0 31.9-35.5 0-0.1-3.1 0.1-3.1 0.4-3.1 0.6-2.6 0.9-2.7 1.1-2.6 1.2-2.2 1.7-2.4 1.8-2.1 2-1.9 2.2-1.6 2.6-1.5 2.5-1.2 3-1.1 2.6-0.6 3-0.5z"/>
<path fill="#0aff00" fill-rule="evenodd" d="M-2.6-3l36.3 0 0.2 3.5-0.4 3.6-0.6 2.2-0.8 2.2-1.1 2.2-1.5 2.2-1.8 2.2-1.9 2-4.8 3.7-5.5 3.2-3.1 1.4-3.4 1.2-6 1.5-3 0.4-3 0.1 0-31.6 0.4 0zM168.7-3l34.3 0 0 31.1-3.9 0.4-3.4 0.1-3.4-0.3-3.5-0.7-3.4-1.1-3-1.4-3-1.9-2.4-1.9-2.2-2.2-2-2.7-1.5-2.6-1.3-3.1-1-3.5-0.6-4-0.1-4.9 0.1-1.3 0.3 0zM92.3 21.7l3-0.3 3.4 0 3 0.3 3.4 0.6 3.5 1 3.2 1.1 3.2 1.4 3.3 1.7 2.7 1.7 2.6 1.9 2.5 2.1 2.1 2.2 1.7 2.2 1.6 2.7 1 2.2 0.8 2.6 0.5 2.7 0.1 2.6-0.2 2.7-0.5 2.2-0.9 2.7-1 2.2-1.4 2.2-1.6 2-2.1 2.3-2.2 1.9-2.5 1.9-3 1.9-6.1 3-3.4 1.2-3 0.9-3.4 0.7-3 0.3-3 0.1-3-0.2-3-0.4-3-0.8-2.6-0.9-2.6-1.2-2.6-1.6-2.1-1.6-2.2-2-1.5-1.8-1.5-2.2-1.5-2.7-1-2.6-0.8-2.6-0.6-3.1-0.3-3.1 0-3.6 0.3-3.1 0.6-3.1 0.9-3 1.2-2.7 1.5-2.6 1.6-2.3 2-2.1 2.1-1.9 2.5-1.7 2.7-1.4 2.6-1.1 3-0.9 3-0.6zM-2.6 71.4l3.5 0.2 3.8 0.6 3.5 0.9 3.8 1.4 3.5 1.5 3.4 1.8 3.3 2.2 2.8 2.2 2.5 2.4 2 2.5 1.5 2.2 1.3 2.7 0.9 2.6 0.5 2.7 0.2 3.1-0.2 2.6-36.7 0 0-31.6 0.4 0zM193.1 71.6l4.7-0.2 5.2 0.5 0 31.1-34.6 0 0-5.7 0.4-3.1 0.5-2.7 0.9-2.6 1.1-2.7 1.2-2.2 1.6-2.2 1.5-1.8 2.1-1.9 2.1-1.6 2.6-1.6 2.6-1.2 2.5-0.9 2.6-0.7 3-0.5z"/>
<path fill="#1fff00" fill-rule="evenodd" d="M-2.6-3l35.2 0 0.3 3.5-0.4 3.6-0.6 2.2-0.9 2.2-1.1 2.2-1.5 2.2-1.8 2.1-1.9 1.9-4.5 3.5-5.6 3.2-6 2.3-6 1.4-5.6 0.5 0-30.8 0.4 0zM169.5-3l33.5 0 0 30.3-3.4 0.4-3.5 0.1-3.4-0.3-3.4-0.7-3-1-3.3-1.4-2.7-1.7-2.6-2-2.2-2.2-1.9-2.5-1.5-2.7-1.3-3.1-1-3.5-0.5-3.5-0.2-4.4 0.2-1.8 0.2 0zM92.3 22.6l3-0.3 3-0.1 3 0.3 3 0.5 3 0.7 3.4 1.1 3.3 1.4 3.2 1.6 3 1.8 2.5 1.8 2.2 1.9 2.1 2.1 1.8 2.2 1.4 2.2 1 2.2 1 2.7 0.4 2.2 0.3 2.7-0.1 2.6-0.4 2.2-0.6 2.2-0.9 2.2-1.2 2.2-1.6 2.2-1.9 2.3-1.8 1.7-2.5 2-2.6 1.8-3 1.7-3 1.5-6 2.1-3.4 0.8-3 0.5-3 0.2-3.1-0.1-3-0.4-2.5-0.5-3-1-2.6-1.1-2.6-1.4-2.1-1.5-2.2-1.9-1.6-1.8-1.6-2.2-1.3-2.2-1.2-2.7-0.9-2.6-0.7-3.1-0.3-3.1-0.1-3.5 0.3-3.1 0.6-3.1 0.8-2.7 1-2.6 1.5-2.7 1.6-2.2 1.9-2.2 2-1.7 2.3-1.7 2.6-1.4 2.6-1.1 3-1 3-0.6zM-2.6 72.2l3.5 0.2 3.4 0.6 3.4 0.8 3.9 1.3 3.4 1.5 3.5 1.9 3 2 2.8 2.2 2.2 2.2 1.9 2.2 1.7 2.7 1.2 2.5 1 2.7 0.4 2.7 0.2 2.7-0.3 2.6-35.6 0 0-30.8 0.4 0zM193.1 72.5l4.7-0.3 5.2 0.5 0 30.3-33.7 0-0.2-2.6 0.1-3.1 0.9-5.3 0.9-2.7 0.9-2.2 1.2-2.2 1.6-2.3 1.7-2 2-1.9 2.3-1.7 2.1-1.3 2.6-1.2 2.6-0.9 5.1-1.1z"/>
<path fill="#35ff00" fill-rule="evenodd" d="M-2.6-3l34.2 0 0.3 3.5-0.5 3.6-0.6 2.2-0.8 2.2-1.2 2.2-1.3 1.9-3.5 3.8-4.6 3.6-5.2 2.9-5.6 2.2-6 1.4-5.6 0.4 0-29.9 0.4 0zM170.4-3l32.6 0 0 29.5-3.4 0.4-3.5 0-3.4-0.3-3-0.6-3-1-3-1.3-3-1.8-2.4-1.9-2.2-2.2-1.9-2.5-1.5-2.8-1.1-2.7-1-3.5-0.5-3.6-0.1-4.4 0.1-1.3 0.3 0zM97.4 23.1l3 0.1 3.5 0.5 3.4 0.8 3 1 3.4 1.4 3 1.5 2.9 1.7 2.4 1.8 2.1 1.8 2.1 2.2 1.8 2.2 1.3 2.2 1.1 2.2 0.9 2.6 0.4 2.3 0.2 2.6-0.2 2.6-0.4 2.3-0.9 2.6-1.1 2.2-1.3 2.2-1.8 2.2-2.1 2.2-2.1 1.8-2.4 1.8-2.9 1.7-3 1.5-3.4 1.4-3 1-3.4 0.8-3.5 0.5-3 0.1-3-0.1-2.6-0.3-2.5-0.6-2.6-0.9-2.6-1.1-2.1-1.2-2.2-1.5-2.1-1.8-1.7-1.8-1.6-2.1-1.3-2.3-1-2.2-1-2.6-0.6-2.7-0.4-2.6-0.1-3.1 0.1-3.1 0.4-2.6 0.6-2.7 1-2.6 1-2.2 1.3-2.3 1.6-2.1 1.7-1.8 2.1-1.8 2.2-1.5 2.1-1.2 2.6-1.1 2.6-0.9 2.5-0.6 2.6-0.3 3-0.1zM-2.6 73.1l3.5 0.1 3.4 0.6 3.4 0.8 3.5 1.2 3.4 1.5 3.4 1.8 3 2 2.5 2 2.3 2.2 1.8 2.2 1.4 2.3 1.3 2.6 0.9 2.6 0.5 2.7 0.2 2.7-0.3 2.6-34.6 0 0-29.9 0.4 0zM192.7 73.4l5.1-0.3 5.2 0.4 0 29.5-32.9 0 0-5.3 0.3-2.7 0.5-2.6 0.8-2.6 1-2.3 1.2-2.2 1.5-2.2 1.5-1.7 1.9-1.8 4-2.8 2.3-1.2 2.4-1 5.2-1.2z"/>
<path fill="#4aff00" fill-rule="evenodd" d="M-2.6-3l33.2 0 0.3 3.5-0.5 3.6-0.6 2.2-0.9 2.2-2.4 4-3.3 3.5-4.5 3.5-5 2.8-5.5 2.2-5.6 1.2-5.6 0.4 0-29.1 0.4 0zM171.2-3l31.8 0 0 28.7-3.4 0.4-3.5 0-3.4-0.4-3-0.6-3-1-2.6-1.2-2.7-1.6-2.4-1.9-2-2.1-1.9-2.4-1.4-2.4-1.3-3.1-0.9-3.1-0.5-3.6-0.1-4.4 0.1-1.3 0.2 0zM95.7 23.9l3 0 3 0.2 3 0.6 3 0.7 3 1 3 1.3 3 1.6 2.8 1.7 2.3 1.8 2.2 2 1.8 2 1.7 2.2 1.2 2.2 1 2.2 0.7 2.2 0.4 2.6 0.1 2.7-0.3 2.2-0.5 2.2-0.8 2.2-1 2.2-1.4 2.2-1.8 2.2-1.8 1.8-2.3 2-2.5 1.8-2.6 1.5-3 1.5-3 1.2-3 0.9-3 0.7-3 0.5-5.6 0-3-0.3-2.6-0.6-2.6-0.8-2.6-1.2-2.1-1.2-2.1-1.5-2.2-1.8-1.6-1.8-1.4-1.9-1.2-2.1-1.8-4.4-0.7-2.7-0.4-2.6-0.2-2.7 0.1-3 0.4-2.7 0.6-2.7 0.9-2.6 1.1-2.2 1.3-2.2 1.6-2.2 1.8-1.8 2.1-1.8 2.1-1.4 2.3-1.2 2.5-1 2.5-0.8 2.6-0.5 3-0.4zM-2.6 73.9l3 0.1 3.5 0.5 3.4 0.8 3.4 1.1 3.5 1.5 3 1.6 3 2 2.5 2.1 2.3 2.2 1.8 2.2 1.4 2.2 1.3 2.6 0.7 2.2 0.5 2.7 0.2 2.7-0.3 2.6-33.6 0 0-29.1 0.4 0zM192.7 74.3l5.1-0.4 5.2 0.4 0 28.7-32 0-0.1-5.3 0.8-4.9 1.7-4.7 1-1.9 1.5-2.2 1.4-1.8 1.9-1.7 1.9-1.6 2.2-1.4 2.1-1.1 2.6-1 4.7-1.1z"/>
<path fill="#5fff00" fill-rule="evenodd" d="M-2.6-3l32.2 0 0.3 3.5-0.5 3.6-1.3 3.9-1.2 2.2-1.2 1.8-3.4 3.7-4.3 3.3-4.9 2.7-5.4 2.1-5.6 1.2-5.1 0.3 0-28.3 0.4 0zM172.1-3l30.9 0 0 27.9-3.4 0.3-3 0.1-3.5-0.3-3-0.7-3-1-2.6-1.2-2.5-1.5-2.5-2-2.1-2.2-1.7-2.2-1.5-2.6-1-2.7-0.9-3.1-0.5-3.5-0.1-4 0.1-1.3 0.3 0zM95.3 24.8l2.6-0.1 3 0.2 3 0.4 3 0.7 5.5 2 3 1.4 2.7 1.6 2.4 1.8 2.1 1.7 1.9 2 1.6 2 1.4 2.2 1 2.2 0.7 2.2 0.5 2.3 0.2 2.2-0.1 2.6-0.4 2.2-0.7 2.2-1 2.2-1.3 2.2-1.5 2-1.7 1.9-2.1 1.9-2.2 1.6-5.2 3-5.5 2.3-3.1 0.8-3 0.5-5.5 0.3-5.2-0.7-2.6-0.6-2.5-1-4.3-2.4-2.1-1.6-1.8-1.8-1.5-1.7-1.5-2.3-1.1-2.2-0.9-2.2-1.1-4.8-0.3-2.7 0-2.6 0.3-2.7 0.5-2.6 0.8-2.7 0.9-2.2 1.2-2.2 1.6-2.2 1.5-1.8 2.2-1.9 2.1-1.6 2.2-1.2 2.6-1.1 2.4-0.8 2.7-0.6 2.6-0.3zM-2.6 74.7l3 0.1 3.5 0.5 3.3 0.8 3.1 1 3 1.3 3.2 1.6 2.8 1.9 2.6 2 2.1 2.1 1.8 2.1 1.6 2.5 1.1 2.2 0.7 2.2 0.5 2.7 0.2 2.7-0.3 2.6-32.6 0 0-28.3 0.4 0zM196.6 74.7l3 0.1 3.4 0.3 0 27.9-31.2 0-0.1-2.6 0.1-2.7 0.3-2.6 0.6-2.7 1-2.6 1-2.3 1.3-2.2 1.7-2.1 1.8-1.8 2-1.7 2.2-1.4 2.1-1.1 2.6-1 2.6-0.7 2.6-0.5 3-0.3z"/>
<path fill="#74ff00" fill-rule="evenodd" d="M-2.6-3l31.2 0 0.3 3.5-0.5 3.6-1.4 3.9-1.2 2.2-1.2 1.8-3.4 3.6-4 3-4.8 2.6-5.1 1.9-5.2 1.1-5.1 0.3 0-27.5 0.4 0zM173-3l30 0 0 27.1-3.4 0.3-3 0.1-3-0.3-3-0.6-3.1-1-2.5-1.2-2.6-1.6-2.1-1.7-2.1-2.1-1.7-2.2-1.5-2.7-1.1-2.6-0.8-3.1-0.4-3.1-0.1-4 0.1-1.3 0.3 0zM94.8 25.7l2.6-0.2 3 0.1 5.6 1 5.6 1.8 5 2.6 4.4 3.3 2.1 2 1.5 1.8 1.3 1.7 1.2 2.2 0.9 2.3 0.5 2.2 0.3 2.2 0.1 2.2-0.3 2.2-0.5 2.2-1.7 4-1.4 2.2-1.5 1.7-3.8 3.6-4.7 3.1-2.6 1.3-3 1.2-5.5 1.5-5.6 0.6-5.2-0.4-2.5-0.5-2.6-0.9-4.3-2.1-2.2-1.4-1.7-1.5-1.7-1.8-1.3-1.8-1.4-2.2-1-2.2-0.8-2.2-0.6-2.6-0.4-2.7 0-2.6 0.1-2.7 0.5-2.6 0.7-2.7 0.9-2.2 1.1-2.2 1.4-2 1.6-2 1.8-1.7 2.1-1.6 2.2-1.3 2.1-1 2.6-0.9 2.6-0.6 2.5-0.4zM-2.6 75.5l3 0.1 3 0.4 3.5 0.8 3 0.9 3 1.3 3 1.6 3 2 2.3 1.8 2.3 2.3 1.7 2.2 1.4 2.2 1 2.2 0.7 2.2 0.5 2.6 0.1 2.7-0.3 2.2-31.6 0 0-27.5 0.4 0zM195.7 75.6l3.4-0.1 3.9 0.4 0 27.1-30.3 0-0.1-2.6 0.1-2.7 0.8-4.9 0.9-2.6 1.1-2.2 1.3-2.2 1.3-1.7 1.7-1.8 1.7-1.5 2.2-1.4 2.1-1.2 2.2-0.9 2.6-0.9 2.5-0.5 2.6-0.3z"/>
<path fill="#8aff00" fill-rule="evenodd" d="M-2.6-3l30.3 0 0.2 3.5-0.5 3.6-1.4 3.9-2.2 3.6-3.2 3.4-3.9 3-4.4 2.4-5 1.9-5.2 1.1-5.1 0.2 0-26.6 0.4 0zM173.8-3l29.2 0 0 26.3-3 0.3-3 0-3-0.2-3-0.6-3-1-2.6-1.2-2.4-1.5-2.2-1.8-1.8-1.8-1.8-2.3-1.4-2.5-1.1-2.7-0.7-2.6-0.5-3.1 0-3.5 0.1-1.8 0.2 0zM94.4 26.6l5.2-0.2 2.5 0.2 3 0.5 5.2 1.6 5.1 2.5 2.4 1.6 2.3 1.7 3.4 3.6 1.4 1.9 1.1 2 1.5 4 0.3 2.2 0.1 2.2-0.6 4-1.5 4-1.3 2.2-1.3 1.7-3.5 3.4-4.3 3.1-4.7 2.3-5.1 1.6-5.2 0.9-5.1-0.1-2.6-0.3-2.6-0.7-4.4-1.7-2.2-1.4-2-1.4-1.7-1.7-1.6-1.7-1.2-1.8-1.2-2.2-1.6-4.4-0.5-2.7-0.3-2.6 0.1-2.7 0.3-2.6 0.6-2.7 0.8-2.2 1-2.2 1.4-2.2 1.4-1.8 1.7-1.8 2.1-1.7 2.1-1.3 4.4-2 2.5-0.7 2.6-0.4zM-2.6 76.3l3 0.1 3 0.4 3 0.7 3 0.9 3 1.3 3.1 1.5 2.5 1.7 2.5 2 1.8 1.8 1.8 2.2 1.4 2.2 1.1 2.2 0.7 2.2 0.5 2.6 0.1 2.7-0.2 2.2-30.7 0 0-26.6 0.4-0.1zM195.3 76.5l3.8-0.1 3.9 0.3 0 26.3-29.4 0-0.1-4.9 0.3-2.6 0.5-2.2 0.8-2.2 0.9-2.2 2.5-3.9 3.3-3.2 1.9-1.4 2.1-1.2 4.6-1.8 4.9-0.9z"/>
<path fill="#9fff00" fill-rule="evenodd" d="M-2.6-3l29.3 0 0.2 3.5-0.5 3.6-0.6 2.1-0.9 1.8-2.2 3.4-3 3.3-3.8 2.9-4.5 2.4-5 1.7-4.7 0.9-4.7 0.2 0-25.8 0.4 0zM174.7-3l28.3 0 0 25.5-3 0.3-3 0-3-0.3-2.6-0.5-2.6-0.8-2.7-1.2-2.4-1.5-2.2-1.7-2-2.1-1.7-2.2-1.2-2.3-1.1-2.6-0.7-2.6-0.4-3.1 0-3.6 0.1-1.3 0.2 0zM94 27.5l4.7-0.3 5.2 0.5 5.1 1.4 4.7 2.1 4.3 2.7 3.6 3.3 2.7 3.5 0.9 1.8 0.9 2.2 0.8 4-0.2 3.9-1.1 4-2 3.7-2.9 3.4-3.7 3.1-4.5 2.6-4.8 1.9-5.1 1.2-5.2 0.3-2.6-0.1-2.5-0.5-2.6-0.7-2.1-0.8-2.2-1.1-2.1-1.4-1.8-1.4-1.7-1.7-2.5-3.6-1.1-2.2-0.8-2.2-0.6-2.2-0.4-2.7-0.1-2.6 0.2-2.7 0.5-2.6 0.6-2.3 1-2.2 1.2-2.2 1.2-1.7 1.7-1.9 1.9-1.7 1.9-1.4 2.2-1.2 2.1-0.9 2.6-0.8 2.6-0.5zM-2.6 77.2l3 0 3 0.4 3 0.7 2.8 0.8 2.8 1.2 2.8 1.5 2.7 1.8 2.2 1.7 1.8 1.8 1.8 2.2 1.4 2.2 1 2.2 0.7 2.2 0.4 2.2 0.1 2.7-0.2 2.2-29.7 0 0-25.8 0.4 0zM194.8 77.4l3.9-0.2 4.3 0.3 0 25.5-28.5 0-0.1-4.9 0.7-4.4 0.7-2.2 1-2.2 2.3-3.5 3-3.1 3.7-2.5 4.3-1.8 4.7-1z"/>
<path fill="#b4ff00" fill-rule="evenodd" d="M-2.6-3l28.3 0 0.2 3.5-0.5 3.6-1.3 3.5-2.2 3.5-3 3.2-3.9 2.8-4.3 2.3-4.3 1.5-4.7 0.9-4.7 0.2 0-25 0.4 0zM175.5-3l27.5 0 0 24.6-3 0.4-3 0-3-0.3-2.6-0.6-2.6-0.8-2.5-1.3-2.2-1.3-2.1-1.7-1.7-1.8-1.6-2.2-1.3-2.2-1-2.5-0.8-2.8-0.3-2.6-0.1-3.1 0.2-1.8 0.1 0zM94 28.3l4.7-0.3 4.7 0.4 4.8 1.2 4.7 2 4.3 2.7 3.4 3.1 2.6 3.3 1 1.8 0.9 2.2 0.7 3.5 0 4-0.5 2.2-0.6 1.8-1.8 3.5-2.7 3.3-3.5 3-4.2 2.6-4.3 1.8-5.2 1.2-5.1 0.4-4.8-0.5-2.5-0.6-2.2-0.8-3.9-2.1-1.7-1.3-1.8-1.7-1.5-1.8-1.2-1.7-1-2-0.9-2.2-0.7-2.4-0.4-2.3-0.1-2.2 0.1-2.6 0.4-2.7 0.6-2.2 0.9-2.2 1.1-2.2 1.2-1.7 1.6-1.9 1.8-1.7 2.1-1.5 2.1-1.2 2.2-0.9 4.7-1.3zM-2.6 78l2.6 0 3 0.4 3 0.6 3 0.9 2.6 1.1 2.6 1.3 2.5 1.7 2.2 1.8 1.8 1.7 1.6 2 1.3 2 1.1 2.2 0.7 2.2 0.4 2.2 0.1 2.7-0.2 2.2-28.7 0 0-25 0.4 0zM194.4 78.3l4.3-0.3 4.3 0.4 0 24.6-27.6 0-0.2-4.4 0.7-4.4 1.5-4 2.2-3.5 2.8-3 3.4-2.5 4.3-1.9 4.3-1z"/>
<path fill="#c9ff00" fill-rule="evenodd" d="M-2.6-3l27.2 0 0.3 3.5-0.5 3.6-1.4 3.5-2 3.1-2.9 3.1-3.5 2.6-4.2 2.2-4.4 1.6-4.7 0.8-4.3 0.1 0-24.1 0.4 0zM176.4-3l26.6 0 0 23.8-3 0.3-2.6 0.1-3-0.3-2.6-0.6-2.4-0.8-2.3-1-2.1-1.3-2.1-1.6-1.8-1.8-1.6-2.2-1.3-2.2-0.9-2.2-0.7-2.7-0.4-2.6-0.1-2.7 0.3-2.2zM94 29.2l4.3-0.4 4.7 0.4 4.7 1.1 4.3 1.8 4 2.4 3.3 2.8 2.8 3.4 1.8 3.6 0.9 3.5 0.1 1.8-0.1 2.2-0.8 3.5-1.7 3.5-2.3 3.1-3.4 3.1-3.7 2.4-4.3 2-5.2 1.4-4.7 0.4-4.7-0.4-4.3-1.2-4-1.9-3.4-2.7-1.6-1.7-1.3-1.8-1-1.8-1-2.2-0.7-2.2-0.4-2.2-0.2-2.2 0.1-2.7 0.3-2.6 0.6-2.2 0.9-2.2 1-2 2.5-3.4 1.8-1.7 1.7-1.3 2.1-1.3 2.2-1 2.1-0.7 2.6-0.6zM-2.6 78.8l2.6 0.1 3 0.3 3 0.6 2.6 0.8 2.6 1.1 2.5 1.3 2.2 1.4 2.2 1.8 1.8 1.8 1.6 1.8 1.3 2.2 1 2.2 0.7 2.2 0.4 2.2 0 2.2-0.3 2.2-27.6 0 0-24.1 0.4-0.1zM194.4 79.1l4.3-0.3 4.3 0.4 0 23.8-26.7 0-0.2-4.4 0.7-4 1.4-4 2.1-3.3 2.6-2.9 3.4-2.4 3.8-1.8 4.3-1.1z"/>
<path fill="#dfff00" fill-rule="evenodd" d="M-2.6-3l26.2 0 0.3 3.5-0.5 3.6-1.4 3.5-2.1 3.1-2.7 2.8-3.5 2.5-3.8 2-4.3 1.4-4.3 0.8-4.3 0.1 0-23.3 0.4 0zM177.2-3l25.8 0 0 23-3 0.3-2.6 0-2.6-0.2-2.5-0.6-2.6-0.8-2.2-1-2-1.3-1.8-1.4-1.7-1.7-1.7-2.2-1.3-2.2-0.9-2.2-0.6-2.2-0.4-2.6-0.1-2.7 0.2-2.2zM97.4 29.7l4.7 0.2 4.8 1 4.3 1.7 4 2.4 3.3 2.7 2.7 3.5 1.8 3.5 0.5 1.8 0.4 2.2 0 2.2-0.2 1.7-1.1 3.6-2 3.5-2.7 3.1-3.3 2.7-4.3 2.3-4.7 1.6-4.7 0.9-4.8-0.1-4.2-0.8-3.9-1.5-3.5-2.2-3-2.9-2.1-3.2-1.6-3.9-0.7-3.9 0.1-4.4 0.9-4 1.7-3.8 2.5-3.3 3.1-2.6 3.4-2 4.3-1.4 4.3-0.6zM-2.6 79.7l2.6 0 3 0.3 5.2 1.3 4.8 2.3 2.1 1.3 2.2 1.8 1.8 1.7 1.5 1.8 1.1 1.8 1.1 2.2 0.7 2.2 0.4 2.2 0 2.2-0.3 2.2-26.6 0 0-23.3 0.4 0zM194.4 80l4.3-0.3 4.3 0.3 0 23-25.8 0-0.2-4 0.6-4 1.4-3.8 1.9-3.2 2.8-3 3-2.2 3.9-1.8 3.8-1z"/>
<path fill="#f4ff00" fill-rule="evenodd" d="M-2.6-3l25.2 0 0.3 3.5-0.6 3.6-1.2 3.1-2 3-2.8 2.9-3.4 2.4-3.9 1.9-3.8 1.3-4.3 0.7-3.9 0 0-22.4 0.4 0zM178.5-3l24.5 0 0 22.1-2.6 0.3-2.6 0.1-2.5-0.3-2.6-0.5-2.6-0.8-2.1-1-2.1-1.3-1.8-1.5-1.6-1.6-1.4-1.8-1.2-2.2-0.9-2.2-0.7-2.7-0.3-2.6 0.1-3.6 0.1-0.4 0.3 0zM97.4 30.5l4.3 0.2 4.7 1 4.3 1.6 3.9 2.3 3.4 2.9 2.4 3.1 1.7 3.5 0.7 3.6-0.1 3.5-0.9 3.5-2 3.6-2.6 3-3.5 2.7-3.8 2.1-4.3 1.5-4.3 0.8-4.3 0-4.3-0.7-3.9-1.4-3.4-2.1-3-2.8-2.1-3.1-1.5-3.6-0.8-3.9 0.1-4 0.8-4 1.6-3.5 2.3-3.2 3-2.6 3.5-2 3.8-1.3 4.3-0.7zM-2.6 80.5l2.6 0 2.6 0.3 2.6 0.5 2.5 0.8 2.6 1 2.1 1.1 2.4 1.6 1.9 1.5 1.6 1.6 1.4 1.8 1.2 1.7 1 2.2 0.5 1.8 0.4 2.2 0.1 2.2-0.3 2.2-25.6 0 0-22.4 0.4-0.1zM194.4 80.9l4.3-0.4 4.3 0.4 0 22.1-24.8 0-0.2-4 0.5-3.5 1.2-3.5 1.8-3.3 2.6-2.8 3-2.3 3.5-1.6 3.8-1.1z"/>
<path fill="#fff400" fill-rule="evenodd" d="M-2.6-3l24.1 0 0.3 3.5-0.5 3.6-1.3 3.1-2.2 3-2.7 2.7-3.1 2.1-3.4 1.7-3.9 1.2-3.8 0.6-3.9 0 0-21.5 0.4 0zM179.4-3l23.6 0 0 21.3-2.6 0.3-2.6 0-2.5-0.3-2.2-0.4-2.1-0.7-2.2-0.9-1.9-1.2-1.9-1.5-1.6-1.6-1.4-1.8-1.3-2.2-0.9-2.2-0.5-2.2-0.4-2.6 0.1-3.1 0.2-0.9 0.2 0zM97.4 31.4l4.3 0.1 4.3 0.9 3.9 1.5 3.8 2.2 3 2.5 2.5 3 1.6 3.1 0.9 3.5 0 3.6-0.9 3.5-1.6 3.1-2.5 3-3.3 2.7-3.5 2-3.9 1.5-4.3 0.9-4.3 0.1-3.8-0.6-3.7-1.2-3.2-1.8-3-2.6-2.2-2.9-1.5-3.3-1-4 0-4 0.7-3.5 1.4-3.5 2.2-3.1 3-2.8 3.4-2 3.9-1.3 3.8-0.6zM-2.6 81.4l2.6 0 2.6 0.3 4.7 1.1 4.6 2.1 2 1.3 2 1.6 1.5 1.5 1.5 1.8 1.1 1.7 1 2.2 0.5 1.8 0.3 2.2 0 2.2-0.3 1.8-24.5 0 0-21.5 0.4-0.1zM194.8 81.7l3.9-0.3 4.3 0.3 0 21.3-23.8 0-0.3-3.5 0.5-3.7 1.1-3.4 1.9-3.2 2.3-2.5 2.9-2.3 3.4-1.6 3.8-1.1z"/>
<path fill="#ffdf00" fill-rule="evenodd" d="M-2.6-3l23.1 0 0.3 3.5-0.6 3.6-1.4 3.1-1.9 2.6-2.3 2.3-3 2.1-3.4 1.7-3.9 1.2-3.9 0.6-3.4-0.1 0-20.6 0.4 0zM180.3-3l22.7 0 0 20.4-4.7 0.3-2.6-0.2-2.1-0.4-2.2-0.7-2.1-1-2-1.2-1.7-1.3-1.7-1.8-1.3-1.7-1.1-2-0.8-2-0.5-2.2-0.3-2.2 0.1-2.7 0.3-1.3zM97.4 32.3l3.9 0.1 4.3 0.8 3.8 1.4 3.5 2 3 2.5 2.4 2.9 1.6 3.1 0.8 3.1 0 3.6-0.8 3.1-1.6 3.1-2.1 2.6-2.9 2.5-3.4 2.1-3.9 1.5-3.9 0.8-4.2 0.2-3.9-0.5-3.8-1.3-3-1.8-2.7-2.2-2.2-3.1-1.4-3.1-0.9-3.5 0-4 0.7-3.4 1.3-3.2 2.1-3 2.6-2.4 3.4-2 3.5-1.3 3.8-0.6zM-2.6 82.3l4.7 0.2 4.8 1.1 2.5 1 2.2 1.2 3.6 2.6 2.8 3.2 1.3 2.1 0.7 1.8 0.8 3.5-0.1 2.2-0.2 1.8-23.5 0 0-20.6 0.4-0.1zM194.8 82.7l3.9-0.4 4.3 0.3 0 20.4-22.8 0-0.3-3.5 0.5-3.6 1-3.1 1.8-3 2.4-2.7 2.8-2 3-1.5 3.4-0.9z"/>
<path fill="#ffc900" fill-rule="evenodd" d="M-2.6-3l21.9 0 0.3 1.8 0.1 1.7-0.2 1.8-0.4 1.8-1.2 2.6-1.9 2.7-2.3 2.2-3 2.1-3.4 1.6-3.4 1-3.5 0.5-3.4-0.1 0-19.7 0.4 0zM181.1-2.6l0.1-0.4 21.8 0 0 19.5-2.6 0.3-2.1 0-4.3-0.6-3.9-1.4-1.7-1-1.8-1.3-1.3-1.4-1.5-1.7-1-1.8-0.8-1.8-0.6-1.7-0.4-2.2-0.1-2.2 0.2-2.3zM98.3 33.2l3.8 0.2 3.9 0.9 3.9 1.6 3 1.8 2.8 2.6 2 2.6 1.4 3.1 0.6 3.1-0.2 3.1-0.9 3.1-1.8 3.1-2.2 2.4-3 2.4-3.4 1.8-3.5 1.1-3.8 0.6-3.9 0-3.4-0.6-3.5-1.3-3-1.9-2.3-2.3-2-2.9-1.3-3.2-0.5-3.2 0.1-3.5 0.7-3.1 1.4-3.1 2.2-2.9 2.6-2.2 3-1.7 3.4-1.1 3.9-0.5zM-2.6 83.3l2.2-0.1 2.5 0.2 4.3 1 4.3 1.9 3.6 2.6 2.7 3.1 1.1 1.7 0.8 1.8 0.5 1.8 0.3 1.7-0.1 2.2-0.3 1.8-22.3 0 0-19.7 0.4 0zM195.3 83.5l3.8-0.3 3.9 0.3 0 19.5-21.8 0-0.3-3.5 0.4-3.1 1-3.1 1.8-3.1 2.2-2.3 2.5-1.9 3-1.5 3.5-1z"/>
<path fill="#ffb400" fill-rule="evenodd" d="M-2.6-3l20.8 0 0.3 1.8 0.1 1.7-0.2 1.8-0.5 1.8-1.2 2.6-1.7 2.3-2.2 2.1-2.9 2-3 1.4-3.5 0.9-3.4 0.4-3-0.1 0-18.7 0.4 0zM182.4-3l20.6 0 0 18.5-4.3 0.4-4.3-0.6-3.8-1.5-1.8-1-1.7-1.3-1.3-1.3-1.3-1.7-1-1.8-0.7-1.7-0.6-2.3-0.2-2.2 0.1-2.2 0.2-1.3 0.1 0zM95.3 34.5l3.4-0.4 3.4 0.2 3.5 0.8 3 1.2 3 1.7 2.6 2.1 1.9 2.4 1.5 2.6 0.8 2.7 0.2 2.6-0.4 2.7-1 2.7-1.7 2.6-2.1 2.2-2.7 2-3 1.5-3.4 1.1-3.9 0.6-3.8-0.1-3.5-0.8-3-1.3-3-2.1-2.1-2.3-1.7-3-1.1-3.6-0.2-3.5 0.6-3.5 1.3-3.1 1.1-1.7 1.2-1.4 2.6-2.2 3-1.6 3.5-1.1zM-2.6 84.2l4.3 0.1 2.2 0.4 2.4 0.6 4 1.9 3.4 2.5 2.6 3 1.6 3.2 0.5 1.8 0.2 1.8-0.1 1.7-0.3 1.8-21.2 0 0-18.7 0.4-0.1zM195.7 84.4l3.4-0.3 3.9 0.4 0 18.5-20.7 0-0.3-3.1 0.3-3.1 1-3.1 1.5-2.6 2.3-2.6 2.5-1.8 2.8-1.4 3.3-0.9z"/>
<path fill="#ff9f00" fill-rule="evenodd" d="M-2.6-3l19.6 0 0.3 1.8 0.1 1.7-0.2 1.8-0.5 1.8-1.2 2.5-1.8 2.2-2.1 2-2.6 1.6-3 1.3-3 0.8-3 0.4-3-0.2 0-17.7 0.4 0zM183.7-3l19.3 0 0 17.5-4.3 0.4-3.9-0.5-1.8-0.6-2-0.9-1.7-1.1-1.5-1.1-1.3-1.3-1.3-1.8-0.9-1.8-0.7-1.7-0.4-1.8-0.1-2.2 0.3-3.1 0.3 0zM96.1 35.4l3-0.3 3.5 0.3 3 0.7 3 1.3 2.6 1.6 2.5 2.2 1.7 2.2 1.3 2.6 0.6 2.7 0 2.6-0.6 2.7-1.3 2.6-1.7 2.2-2.1 2-2.6 1.6-3 1.3-3.4 0.9-3.5 0.3-3.4-0.4-3-0.8-3-1.6-2.4-1.9-1.9-2.3-1.5-3-0.7-3.1-0.1-3.1 0.7-3.1 1.4-3.1 1.9-2.5 2.6-2.1 3-1.6 3.4-0.9zM-2.6 85.2l4.3 0.1 3.9 0.8 3.8 1.7 3.3 2.4 1.5 1.5 1.2 1.6 1.4 3.1 0.6 3.1-0.1 1.7-0.3 1.8-20 0 0-17.7 0.4-0.1zM196.6 85.3l3-0.2 3.4 0.4 0 17.5-19.6 0-0.3-3.1 0.3-3.1 0.9-2.6 1.5-2.7 2.2-2.3 2.6-1.9 3-1.3 3-0.7z"/>
<path fill="#ff8a00" fill-rule="evenodd" d="M-2.6-3l18.4 0 0.3 1.8 0.1 1.7-0.3 1.8-0.5 1.8-1.1 2.2-1.8 2.2-2 1.7-2.3 1.5-2.6 1.1-3 0.8-3 0.2-2.6-0.1 0-16.7 0.4 0zM184.5-2.9l18.5-0.1 0 16.5-3.9 0.3-3.8-0.4-3.5-1.3-3-2-1.3-1.3-1.2-1.6-1.4-3.1-0.5-1.8-0.2-1.8 0.3-3.4zM97.4 36.3l3-0.1 3 0.4 3 0.9 2.9 1.5 2.4 1.7 2 2.2 1.4 2.2 0.9 2.7 0.2 2.6-0.3 2.2-1.1 2.7-1.4 2.2-2.2 2.2-2.2 1.5-2.6 1.3-3 0.9-3.4 0.4-3-0.1-3-0.7-2.6-1.1-2.5-1.7-2-2.2-1.5-2.5-0.9-2.6-0.3-2.9 0.4-3.1 0.9-2.6 1.6-2.6 1.8-1.9 2.6-1.7 2.9-1.2 3-0.6zM-2.1 86.2l3.8 0.1 3.9 0.9 3.4 1.6 3 2.2 2.3 2.7 1.4 3.1 0.5 3.1-0.4 3.1-18.8 0 0-16.7 0.9-0.1zM198.3 86.2l2.6 0 2.1 0.3 0 16.5-18.4 0-0.4-3.1 0.4-3.1 1-2.6 1.7-2.7 2.3-2.2 2.7-1.6 3-1.1 3-0.4z"/>
<path fill="#ff7400" fill-rule="evenodd" d="M-2.6-3l17 0 0.4 1.8 0.1 1.7-0.3 1.8-0.5 1.8-1.2 2.1-1.6 1.8-1.9 1.6-2.1 1.3-2.6 1-2.6 0.7-2.5 0.2-2.6-0.2 0-15.6 0.4 0zM185.8-3l17.2 0 0 15.4-3.9 0.4-3.4-0.5-3.2-1.2-2.8-1.8-2.2-2.6-1.5-3.1-0.4-1.7-0.2-1.8 0.4-3.1zM96.1 37.6l2.6-0.3 3 0.1 2.6 0.5 2.6 1 2.4 1.4 2.1 1.7 1.5 1.8 1.2 2.2 0.6 2.2 0.2 2.2-0.4 2.2-0.8 2.3-1.3 1.9-1.7 1.8-2.1 1.6-2.2 1.1-3 1-3 0.4-3-0.1-3-0.7-2.6-1.1-2.1-1.5-2-2.2-1.2-2.2-0.9-2.7-0.1-3.1 0.5-2.6 1.1-2.7 1.7-2.2 2-1.8 2.4-1.3 2.9-0.9zM-2.6 87.4l3.9-0.1 3.4 0.8 3.5 1.5 2.7 1.9 2.2 2.7 1.3 2.6 0.5 3.1-0.5 3.1-17.4 0 0-15.6 0.4 0zM196.6 87.5l3-0.3 3.4 0.4 0 15.4-17.2 0-0.4-2.6 0.3-2.7 0.6-2.2 1.2-2.3 1.8-2.1 2.1-1.6 2.6-1.3 2.6-0.7z"/>
<path fill="#ff5f00" fill-rule="evenodd" d="M-2.6-3l15.6 0 0.4 1.8 0.1 1.7-0.3 1.8-0.6 1.8-1 1.7-1.6 1.8-1.8 1.4-2.2 1.2-2.1 0.8-2.2 0.4-2.6 0.2-2.1-0.2 0-14.4 0.4 0zM187.1-2.8l0.1-0.2 15.8 0 0 14.2-3.4 0.4-3.5-0.4-3-1.1-2.5-1.8-2.2-2.5-1.2-2.6-0.4-3.1 0.3-2.9zM97.9 38.5l2.5-0.1 2.6 0.4 2.6 0.8 2.1 1.1 1.9 1.3 1.7 1.8 1.1 1.8 0.9 2.2 0.2 1.8-0.2 2.2-0.7 2.2-1 1.8-1.5 1.7-1.9 1.5-2.2 1.2-2.6 0.9-2.5 0.4-3 0-2.6-0.5-2.2-0.9-2.1-1.4-1.7-1.7-1.4-2.1-0.8-2.3-0.3-2.2 0.2-2.6 0.7-2.2 1.3-2.2 1.6-1.8 2.1-1.5 2.6-1.1 2.6-0.5zM-0.9 88.4l3 0.2 3.1 0.8 3 1.6 2.2 1.8 1.7 2.2 1.1 2.7 0.3 2.7-0.5 2.6-16 0 0-14.4 2.1-0.2zM199.1 88.4l3.9 0.4 0 14.2-15.8 0-0.4-2.6 0.2-2.7 0.9-2.7 1.4-2 2-1.9 2.3-1.4 2.5-0.9 3-0.4z"/>
<path fill="#ff4a00" fill-rule="evenodd" d="M-2.6-3l14.1 0 0.4 1.8 0.1 1.7-0.3 1.8-0.7 1.8-1.1 1.6-1.3 1.4-1.7 1.2-1.7 0.9-1.8 0.6-2.1 0.4-2.2 0.1-2.1-0.3 0-13 0.4 0zM188.8-3l14.2 0 0 12.9-3.4 0.4-3-0.4-2.8-1-2.4-1.7-1.8-2.2-1.1-2.7-0.3-1.3 0-1.8 0.3-1.8 0.2-0.4 0.1 0zM97.9 39.8l2.5-0.1 2.2 0.3 2.1 0.6 2 1 1.9 1.3 1.3 1.4 1.1 1.7 0.7 1.8 0.3 1.8-0.2 2.2-0.6 1.7-0.9 1.7-1.2 1.4-1.7 1.4-1.8 1-2.2 0.8-2.1 0.4-2.6 0.1-2.6-0.5-2.1-0.8-1.7-1-1.7-1.7-1.3-1.9-0.7-1.8-0.4-2.2 0.2-2.2 0.7-2.2 1-1.7 1.6-1.8 1.9-1.3 2.1-0.9 2.2-0.5zM-1.3 89.7l3 0.1 3 0.8 2.6 1.4 2.1 1.7 1.6 2.2 0.8 2.2 0.2 2.7-0.5 2.2-14.5 0 0-13 1.7-0.3zM198.7 89.7l2.2 0 2.1 0.4 0 12.9-14.3 0-0.5-2.2 0.1-2.2 0.6-2.2 1.2-2.2 1.7-1.8 2-1.3 2.3-0.9 2.6-0.5z"/>
<path fill="#ff3500" fill-rule="evenodd" d="M-2.6-3l12.3 0 0.5 1.8 0.1 1.7-0.3 1.8-0.6 1.3-0.9 1.4-1.3 1.3-1.2 0.9-1.8 0.8-1.6 0.6-2.2 0.3-1.7-0.1-1.7-0.2 0-11.6 0.4 0zM190.6-3l12.4 0 0 11.4-3 0.5-2.6-0.2-2.6-0.9-2.2-1.5-1.6-2.1-1-2.3-0.1-2.7 0.3-1.8 0.2-0.4 0.2 0zM98.7 41.2l2.2 0 1.7 0.2 1.8 0.6 1.7 0.9 1.6 1.3 1.2 1.4 0.8 1.3 0.5 1.8 0.1 1.7-0.2 1.4-0.6 1.7-0.9 1.4-1.3 1.3-1.7 1.2-1.7 0.8-2.2 0.5-2.1 0.2-1.7-0.2-2.2-0.6-1.7-0.8-1.5-1.1-1.1-1.3-1-1.8-0.5-1.8-0.1-1.7 0.3-1.8 0.7-1.8 1-1.4 1.3-1.3 1.7-1.1 1.8-0.6 2.1-0.4zM-2.6 91.3l2.6-0.2 3 0.5 2.6 1 2.1 1.6 1.7 2.2 0.8 2.2 0.1 2.2-0.6 2.2-12.7 0 0-11.6 0.4-0.1zM197 91.4l3-0.3 3 0.5 0 11.4-12.6 0-0.5-1.8-0.1-1.7 0.3-1.8 0.8-1.8 1.3-1.7 1.4-1.2 1.7-1 1.7-0.6z"/>
<path fill="#ff1f00" fill-rule="evenodd" d="M-2.6-3l10.2 0 0.6 1.3 0.2 1.8-0.3 1.8-0.8 1.6-1.8 1.9-2.5 1.3-3 0.5-1.3 0-1.7-0.4 0-9.8 0.4 0zM192.3-2.7l0.1-0.3 10.6 0 0 9.7-2.1 0.5-2.6-0.1-2.5-0.8-1.8-1.2-1.3-1.6-0.8-2.1-0.1-2.2 0.5-1.9zM98.3 42.9l3 0 1.7 0.4 1.3 0.6 1.3 0.8 1 0.9 1 1.3 0.5 1.3 0.3 1.4-0.1 1.3-0.7 2.2-1 1.3-1 0.9-1.3 0.8-1.3 0.6-1.7 0.4-1.7 0.1-1.5-0.1-1.6-0.5-1.7-0.9-1-0.8-1.1-1.4-0.6-1.3-0.3-1.3 0-1.8 0.3-1.3 0.6-1.3 1.1-1.4 1-0.8 1.7-0.9 1.8-0.5zM-1.3 92.8l2.2 0 2.1 0.5 2.2 1.1 1.7 1.5 1 1.8 0.5 1.8-0.1 1.7-0.7 1.8-10.6 0 0-9.8 1.7-0.4zM198.7 92.8l2.2 0 2.1 0.5 0 9.7-10.6 0-0.6-1.8-0.1-1.7 0.4-1.8 0.7-1.3 1.1-1.4 1.4-1 1.7-0.8 1.7-0.4z"/>
<path fill="#ff0a00" fill-rule="evenodd" d="M-2.6-3l7.3 0 0.9 1.3 0.3 1.4-0.2 1.7-0.8 1.3-1.5 1.4-2.1 0.9-2.2 0-2.1-0.6 0-7.4 0.4 0zM195.3-3l7.7 0 0 7.3-1.7 0.7-2.2 0-1.9-0.5-1.5-1-1.2-1.6-0.3-1.8 0.3-1.8 0.8-1.3zM98.3 45.1l2.1-0.2 1.7 0.4 1.8 0.9 1.4 1.6 0.6 1.8-0.2 1.7-1 1.8-1.7 1.2-2.1 0.7-1.3 0.1-1.3-0.2-2.2-1-1.4-1.7-0.4-0.9-0.1-1.3 0.1-1.3 0.4-0.9 1.4-1.7 2.2-1zM-1.3 95l1.7-0.1 1.7 0.4 1.8 0.9 1 1.1 0.8 1.3 0.2 1.8-0.3 1.3-0.9 1.3-7.7 0 0-7.4 1.7-0.6zM198.7 95l2.2 0 2.1 0.7 0 7.3-7.8 0-0.5-0.9-0.4-0.9-0.1-1.3 0.2-1.3 0.4-0.9 0.6-0.9 1-0.9 1-0.5 1.3-0.4z"/>
</g>
<g id="cl" fill="none" stroke="#002" stroke-opacity="0.45" stroke-width="0.55" vector-effect="non-scaling-stroke">
<path vector-effect="non-scaling-stroke" d="M109.8 0l0.5 2 0.6 1 1.2 1.5 3 2.5 4.6 3 6.7 3.5 6.1 2.7 5 1.6 4 0.5 2-0.1 2-0.8 1.5-1.3 1-1.6 1-2.5 0.8-3.5 0.4-4 0.1-4.5M150.3 100l-0.1-4.5-0.4-4-0.8-3.5-1-2.5-1-1.6-1.5-1.3-2-0.8-2-0.1-4 0.5-5 1.6-6.1 2.7-6.7 3.5-4.6 3-3 2.5-1.2 1.5-0.6 1-0.5 2M39 31.9l-4.5 1.2-5.5 2.2-6.6 3.2-5.1 3-3.5 2.5-2.5 2.5-1.2 2-0.2 2 0.2 1 0.8 1.5 2.3 2.5 3.3 2.5 5 3 6.5 3.3 6 2.4 5 1.4 3.5 0.2 2-0.4 1-0.5 1-0.8 1.5-2 1-2.6 0.8-3.5 0.4-4.5 0.1-5-0.2-5-0.5-3.5-0.6-2.5-1-2.5-1-1.6-1.5-1.3-1.5-0.6-2.5-0.3-2.5 0.2"/>
<path vector-effect="non-scaling-stroke" d="M48.8 0l-0.2 3.5-0.4 3-0.7 3-0.9 2.5-1.2 2.5-1.4 2-2.2 2.5-2.3 2-3.3 2.5-4.7 3-5.4 3-6.1 3.1-6 2.9-5.5 2.3-4.5 1.5-4 1.1M200 40.4l-4 0.7-4 0.2-4-0.4-4.5-1.1-5-1.9-5-2.4-4.5-2.8-3.5-2.9-2.1-2.3-1.8-2.5-1.4-3-1-3-0.8-3.5-0.6-4.5-0.3-5.5-0.2-5.5M0 59.6l4 1.1 4.5 1.5 5.5 2.3 6 2.9 6.1 3.1 5.4 3 4.7 3 3.3 2.5 2.3 2 2.2 2.5 1.4 2 1.2 2.5 0.9 2.5 0.7 3 0.4 3 0.2 3.5M157.3 100l0.2-5.5 0.3-5.5 0.6-4.5 0.8-3.5 1-3 1.4-3 1.8-2.5 2.1-2.3 3.5-2.9 4.5-2.8 5-2.4 5-1.9 4.5-1.1 4-0.4 4 0.2 4 0.7M89 9l4-0.3 4 0.3 4 0.8 5 1.5 6.5 2.6 7.5 3.5 7.5 3.8 6.4 3.8 3.7 2.5 3.1 2.5 2 2 2 2.5 1.5 2.5 1.2 3 0.8 3.5 0.5 3.5 0.1 4-0.3 4-0.7 3.5-0.9 3-1.2 2.5-1.7 2.5-2.2 2.5-2.3 2-4.1 3-5.7 3.5-6.7 3.6-7.5 3.7-6 2.6-5.5 1.9-5 1.4-4 0.5-3.5 0.1-3.5-0.4-3.5-0.8-3.5-1.2-4-1.6-4-2.1-3.5-2.2-3-2.3-2.3-2.2-1.6-2-1.2-2-1.2-2.5-0.9-2.5-0.7-3-0.9-7.5-0.3-5.5 0-6 0.2-5.5 0.5-5 0.6-4 0.8-3 1.1-3 1.4-2.5 1.8-2.5 2.5-2.5 3.2-2.5 3.5-2.2 4-2.1 4.5-1.8 4-1.2 3.5-0.7"/>
<path vector-effect="non-scaling-stroke" d="M40.4 0l-0.2 3-0.4 2.5-0.9 3-1.1 2.5-1.4 2.5-1.9 2.5-2 2.1-2.5 2.3-3 2.3-3.6 2.3-3.9 2.2-4 1.9-4 1.7-4 1.3-4 1-3.5 0.6M200 33.7l-4 0.3-3.5-0.1-3.5-0.5-3.5-0.8-3.5-1.3-3.5-1.7-3-1.8-3-2.4-2.3-2.4-1.9-2.5-1.5-2.5-1.3-3-1.1-3.5-0.7-3.5-0.5-4-0.2-4M0 66.3l3.5 0.6 4 1 4 1.3 4 1.7 4 1.9 3.9 2.2 3.6 2.3 3 2.3 2.5 2.3 2 2.1 1.9 2.5 1.4 2.5 1.1 2.5 0.9 3 0.4 2.5 0.2 3M163 100l0.2-4 0.5-4 0.7-3.5 1.1-3.5 1.3-3 1.5-2.5 1.9-2.5 2.3-2.4 3-2.4 3-1.8 3.5-1.7 3.5-1.3 3.5-0.8 3.5-0.5 3.5-0.1 4 0.3M94.5 16l3.5 0.1 4 0.5 4 0.9 4.5 1.4 4.5 1.8 4.5 2.1 4.5 2.6 3.9 2.6 3.1 2.5 2.6 2.5 2.1 2.5 1.6 2.5 1.2 2.5 1 3 0.7 3 0.2 3-0.1 3-0.5 3-0.9 3-1.1 2.5-1.4 2.5-1.9 2.5-2.4 2.5-2.9 2.5-3.4 2.5-4.1 2.5-4.2 2.2-4.5 2-4.5 1.6-4 1.1-4 0.8-4 0.3-3.5-0.1-3-0.3-3.5-0.7-3-1-3-1.2-3.1-1.7-2.9-2-2.5-2.1-2-2.2-1.7-2.2-1.5-2.5-1.3-3-1-3-0.7-3.5-0.5-3.5-0.2-3.5 0-4 0.3-3.5 0.5-3.5 0.9-3.5 1.1-3 1.2-2.5 1.6-2.5 1.8-2.3 2.2-2.2 2.4-2 2.9-1.8 3-1.6 3-1.2 3.5-1 3.5-0.6 3.5-0.3"/>
<path vector-effect="non-scaling-stroke" d="M33.9 0l-0.2 2.5-0.4 2.5-0.8 2.5-0.9 2-1.5 2.5-1.4 2-1.8 2-2.4 2.2-2.5 1.9-2.9 1.9-3.1 1.7-3 1.4-3 1.2-3.5 1-3.5 0.8-3 0.4M200 28.5l-3.5 0.1-3-0.2-3-0.4-3-0.8-3-1.1-2.5-1.2-2.5-1.6-2.5-2-2-2-1.8-2.3-1.5-2.5-1.2-2.5-0.9-2.5-0.7-3-0.5-3-0.1-3.5M0 71.5l3 0.4 3.5 0.8 3.5 1 3 1.2 3 1.4 3.1 1.7 2.9 1.9 2.5 1.9 2.4 2.2 1.8 2 1.4 2 1.5 2.5 0.9 2 0.8 2.5 0.4 2.5 0.2 2.5M168.3 100l0.1-3.5 0.5-3 0.7-3 0.9-2.5 1.2-2.5 1.5-2.5 1.8-2.3 2-2 2.5-2 2.5-1.6 2.5-1.2 3-1.1 3-0.8 3-0.4 3-0.2 3.5 0.1M94.5 21.5l3-0.1 3.5 0.2 3 0.5 3.5 0.8 3.5 1.2 3.5 1.4 3 1.6 3.2 1.9 2.8 2 2.4 2 2.1 2.2 1.8 2.3 1.5 2.5 1.2 2.5 0.8 2.5 0.4 2.5 0.2 3-0.2 2.5-0.6 2.5-0.8 2.5-1.2 2.5-1.3 2-1.8 2.3-2.1 2.2-2.4 2-2.8 2-3.2 1.9-3.1 1.6-3.4 1.4-3.5 1.2-3.5 0.8-3 0.5-3 0.2-3 0-3-0.4-2.5-0.4-3-0.9-2.5-1-2.5-1.3-2.5-1.7-2-1.6-2-2-1.5-1.9-1.6-2.4-1.2-2.5-0.9-2.5-0.8-3-0.5-3-0.2-3 0.1-3.5 0.3-3 0.6-3 1-3 1.1-2.5 1.5-2.5 1.4-2 1.8-2 2.3-2 2.2-1.5 2.4-1.4 2.5-1.1 3-1 3-0.7 3-0.3"/>
<path vector-effect="non-scaling-stroke" d="M27.9 0l-0.2 2.5-0.4 2-0.6 2-0.9 2-2.4 3.5-3.4 3.5-4.5 3.2-5 2.5-5 1.6-5.5 0.8M200 23.6l-3 0-2.5-0.1-2.5-0.5-2.5-0.7-2.2-0.8-2.3-1.1-2-1.3-2-1.6-1.6-1.5-1.6-2-1.3-2-1-2-0.9-2.5-0.7-2.5-0.4-2.5-0.1-2.5M0 76.4l5.5 0.8 5 1.6 5 2.5 4.5 3.2 3.4 3.5 2.4 3.5 0.9 2 0.6 2 0.4 2 0.2 2.5M173.4 100l0.1-2.5 0.4-2.5 0.7-2.5 0.9-2.5 1-2 1.3-2 1.6-2 1.6-1.5 2-1.6 2-1.3 2.3-1.1 2.2-0.8 2.5-0.7 2.5-0.5 2.5-0.1 3 0M95 26.5l5-0.1 5.5 0.8 5.5 1.8 5 2.6 2.5 1.7 2 1.6 3.3 3.6 1.4 2 1 2 0.8 2 0.6 2 0.2 2 0.1 2.5-0.7 4-0.7 2-1 2-1.3 2-1.6 2-3.6 3.3-4.5 3-5 2.3-5.5 1.5-5.5 0.6-5-0.4-4.5-1.1-2.5-1-2-1.1-2-1.3-2-1.7-1.5-1.6-1.5-1.9-1.3-2.1-0.9-2-1.4-4.5-0.4-2.5-0.1-2.5 0.1-2.5 0.5-2.9 0.6-2.1 0.9-2.5 1-2 1.5-2.3 3-3.2 2-1.6 2.2-1.4 2.3-1.1 2.5-0.9 2.5-0.6 2.5-0.4"/>
<path vector-effect="non-scaling-stroke" d="M21.9 0l-0.5 3.5-1.1 3-1.9 3-2.9 3.1-3.4 2.4-3.6 1.7-4 1.3-4.5 0.6M200 18.6l-4-0.2-4.2-0.9-3.8-1.7-3-2.1-2.5-2.8-2-3.4-1.2-3.5-0.4-4M0 81.4l4.5 0.6 4 1.3 3.6 1.7 3.4 2.4 2.9 3.1 1.9 3 1.1 3 0.5 3.5M178.9 100l0.4-4 1.2-3.5 2-3.4 2.5-2.8 3-2.1 3.8-1.7 4.2-0.9 4-0.2M96.5 31.5l4-0.1 4 0.6 4 1.3 4 2 3.1 2.2 2.8 3 1.9 3 1.2 3.5 0.3 3.5-0.4 3-1.3 3.5-2.1 3-2.5 2.6-3.5 2.4-4 1.9-4 1.2-4.5 0.5-4-0.2-4-1-3.5-1.6-3-2.1-2.5-2.8-2-3.4-1.2-3.5-0.4-4 0.4-4 1.2-3.5 2-3.5 2.9-3 3.1-2.1 4-1.6 4-0.8"/>
<path vector-effect="non-scaling-stroke" d="M14.9 0l-0.3 2.5-0.7 2-1.4 2.2-2 2.1-2.4 1.7-2.6 1.2-3 0.8-2.5 0.2M200 12.7l-3-0.1-2.5-0.6-2.5-1.1-2.5-1.8-1.8-2.1-1.2-2-0.8-2.5-0.3-2.5M0 87.3l2.5 0.2 3 0.8 2.6 1.2 2.4 1.7 2 2.1 1.4 2.2 0.7 2 0.3 2.5M185.4 100l0.3-2.5 0.8-2.5 1.2-2 1.8-2.1 2.5-1.8 2.5-1.1 2.5-0.6 3-0.1M97 37.4l2.5-0.2 3 0.3 3 0.8 2.5 1.2 2.3 1.5 1.7 1.7 1.5 2.1 0.9 2.2 0.4 2 0 2.5-0.7 2.5-1.1 2-1.6 2-1.9 1.6-2.4 1.4-2.6 1-3 0.6-3 0.1-3-0.4-2.5-0.9-2.5-1.5-2-1.8-1.5-2.1-1-2.5-0.5-2.5 0.1-3 0.7-2.5 1.4-2.5 1.7-2 2.1-1.6 2.5-1.2 3-0.8"/>
</g>
<clipPath id="clipc"><rect x="30.2" y="305" width="326.6" height="238.3"/></clipPath>
<clipPath id="clipd"><rect x="424" y="305" width="176.3" height="238.1"/></clipPath>
<linearGradient id="cb" x1="0" y1="0" x2="0" y2="1"><stop offset="0" stop-color="rgb(255,0,0)"/><stop offset="0.25" stop-color="rgb(255,255,0)"/><stop offset="0.5" stop-color="rgb(0,255,0)"/><stop offset="0.72" stop-color="rgb(0,255,255)"/><stop offset="0.96" stop-color="rgb(0,0,255)"/><stop offset="1" stop-color="rgb(50,0,255)"/></linearGradient>
</defs>
<g stroke="#3a3a3a" stroke-width="1" fill="none" shape-rendering="auto"><rect x="64.6" y="23.2" width="265" height="93.2"/><path d="M76.5 116.4v3.3"/><path d="M135.4 116.4v3.3"/><path d="M194.3 116.4v3.3"/><path d="M253.2 116.4v3.3"/><path d="M312.1 116.4v3.3"/><path d="M64.6 23.2h-3.3"/><path d="M64.6 54.4h-3.3"/><path d="M64.6 85.4h-3.3"/><path d="M64.6 116.4h-3.3"/></g>
<g stroke="#3a3a3a" stroke-width="1" fill="none" shape-rendering="auto"><rect x="64.6" y="135.3" width="265" height="93.9"/><path d="M76.5 229.2v3.3"/><path d="M135.4 229.2v3.3"/><path d="M194.3 229.2v3.3"/><path d="M253.2 229.2v3.3"/><path d="M312.1 229.2v3.3"/><path d="M64.6 135.3h-3.3"/><path d="M64.6 166.8h-3.3"/><path d="M64.6 198.2h-3.3"/><path d="M64.6 229.2h-3.3"/></g>
<g stroke="#3a3a3a" stroke-width="1" fill="none" shape-rendering="auto"><rect x="418.5" y="23.2" width="265.1" height="93.2"/><path d="M431 116.4v3.3"/><path d="M489.7 116.4v3.3"/><path d="M548.5 116.4v3.3"/><path d="M607.3 116.4v3.3"/><path d="M666.1 116.4v3.3"/><path d="M418.5 23.2h-3.3"/><path d="M418.5 69.9h-3.3"/><path d="M418.5 116.4h-3.3"/></g>
<g stroke="#3a3a3a" stroke-width="1" fill="none" shape-rendering="auto"><rect x="418.5" y="135.3" width="265.1" height="93.9"/><path d="M431 229.2v3.3"/><path d="M489.7 229.2v3.3"/><path d="M548.5 229.2v3.3"/><path d="M607.3 229.2v3.3"/><path d="M666.1 229.2v3.3"/><path d="M418.5 135.3h-3.3"/><path d="M418.5 182.2h-3.3"/><path d="M418.5 229.2h-3.3"/></g>
<path d="M76.5 85.4L76.8 84.7 77.1 84 77.4 83.3 77.7 82.6 78 81.9 78.3 81.2 78.6 80.5 78.9 79.8 79.2 79.1 79.5 78.4 79.8 77.7 80.1 77 80.4 76.3 80.7 75.6 81 74.9 81.3 74.2 81.6 73.5 81.9 72.8 82.2 72.1 82.5 71.4 82.8 70.7 83.1 70 83.4 69.3 83.7 68.6 84 67.9 84.3 67.2 84.6 66.5 84.9 65.8 85.2 65.1 85.5 64.4 85.8 63.7 86.1 63 86.4 62.3 86.7 61.6 87 60.9 87.3 60.3 87.6 59.6 87.9 58.9 88.2 58.2 88.5 57.5 88.8 56.8 89.1 56.1 89.4 55.4 89.7 54.7 90 54 90.3 53.3 90.6 52.6 90.9 51.9 91.2 51.2 91.5 50.5 91.8 49.8 92.1 49.1 92.4 48.4 92.7 47.7 93 47 93.3 46.3 93.6 45.6 93.9 44.9 94.2 44.2 94.5 43.5 94.8 42.8 95.1 42.1 95.4 41.4 95.7 40.7 96 40 96.3 39.3 96.6 38.6 96.9 37.9 97.2 37.2 97.5 36.5 97.8 35.8 97.8 35.8 98.1 64.9 98.4 57.5 98.5 105.2 98.7 61.4 99 104 99 105.8 99.3 101.8 99.6 65.7 99.8 97.8 99.9 62.7 100.2 98.3 100.5 63.2 100.8 95.9 101.1 61.8 101.4 93 101.7 62.4 101.8 91.8 102 62.9 102.3 93.5 102.6 60.2 102.9 89.8 103.2 59.9 103.5 89.3 103.8 59.6 103.8 87.5 104.1 58.2 104.4 84.9 104.7 57.8 105 84.1 105.3 55.9 105.6 80.5 105.8 55.2 105.9 79.2 106.2 55.1 106.5 79.4 106.8 55.9 107.1 76.5 107.4 53.3 107.7 73.7 107.8 53.2 108 74.6 108.3 52.8 108.6 72.5 108.9 52.5 109.2 69.5 109.5 51.3 109.8 67.6 109.8 50.9 110.1 68.2 110.4 49.6 110.7 65.2 111 49.3 111.3 64.4 111.6 48.1 111.8 62.8 111.9 47.6 112.2 60.9 112.5 46.1 112.8 59.4 113.1 45.8 113.4 57.1 113.7 44.5 113.8 55.9 114 44.1 114.3 54 114.6 43.8 114.9 52.8 115.2 42.4 115.5 50.7 115.8 41.7 115.8 50.3 116.1 41.3 116.4 48.5 116.7 40.3 117 46.6 117.3 39.9 117.6 44.8 117.8 39.4 117.9 44 118.2 38.3 118.5 42.5 118.8 37.8 119.1 40.7 119.4 36.8 119.7 38.9 120 35.9 120 35.8 120.3 45 120.6 93.3 120.7 58.9 120.9 103.4 121.2 67.1 121.2 105.1 121.5 65.8 121.8 102.3 122 63.7 122.1 101.4 122.4 66.1 122.7 100.5 123 63 123.3 98.9 123.6 63.5 123.9 97.5 124 64.9 124.2 93.5 124.5 64.4 124.8 92.8 125.1 63 125.4 91 125.7 61.3 126 89 126 61 126.3 88.6 126.6 60.1 126.9 86.6 127.2 60.6 127.5 87.8 127.8 59.3 128 86.1 128.1 58.6 128.4 84.5 128.7 59.3 129 82.8 129.3 59 129.6 81.8 129.9 55.9 130 80.9 130.2 57.9 130.5 78.2 130.8 56.6 131.1 76.1 131.4 55.2 131.7 76.2 132 55.2 132 75.5 132.3 53.8 132.6 72.4 132.9 53.3 133.2 72.4 133.5 53.8 133.8 70.2 134 52.4 134.1 69.5 134.4 52.9 134.7 68 135 51.3 135.3 66.7 135.6 50.4 135.9 64.4 136 50.1 136.2 64.5 136.5 49.3 136.8 61.9 137.1 49.9 137.4 61.1 137.7 48.9 138 59.5 138 47.7 138.3 58.5 138.6 47.9 138.9 57.2 139.2 46.7 139.5 55.3 139.8 46.4 140 54.2 140.1 45.8 140.4 53.9 140.7 45.4 141 52.1 141.3 44.6 141.6 50.5 141.9 44.1 142 49.7 142.2 43.7 142.5 48.4 142.8 42.8 143.1 47.2 143.4 42.4 143.7 45.6 144 41.6 144.3 44.2 144.6 41.1 144.9 42.8 145 40.5 145.2 60.5 145.5 58 145.7 102.4 145.8 62.9 146.1 103.8 146.2 105.4 146.4 102.5 146.7 63.9 147 100.5 147 64.4 147.3 98.7 147.6 63.9 147.9 99.9 148.2 63.1 148.5 98.1 148.8 64.4 149 94.7 149.1 63.6 149.4 96.2 149.7 64.3 150 93 150.3 62.6 150.6 93.1 150.9 60.9 151 90.1 151.2 62.9 151.5 91 151.8 60.9 152.1 89.3 152.4 59.3 152.7 88.4 153 59.3 153 87.1 153.3 60.3 153.6 85.2 153.9 60.3 154.2 84 154.5 58.2 154.8 82.4 155 58.5 155.1 80.8 155.4 58.2 155.7 78.5 156 56.6 156.3 78.2 156.6 57.1 156.9 76.7 157 56 157.2 75.6 157.5 55.3 157.8 75.3 158.1 55.7 158.4 72.2 158.7 54.4 159 72.4 159 55.2 159.3 71.1 159.6 53.4 159.9 70 160.2 54.1 160.5 67.2 160.8 52.1 161 66.1 161.1 53.1 161.4 65.8 161.7 52.1 162 64.6 162.3 51.8 162.6 63.4 162.9 51.2 163 62.3 163.2 51.1 163.5 60.7 163.8 50.5 164.1 59.2 164.4 49.6 164.7 58.2 165 48.9 165 56.9 165.3 48.1 165.6 56.3 165.9 47.6 166.2 54.5 166.5 47.5 166.8 53.1 167 47.2 167.1 52.3 167.4 46.5 167.7 51.1 168 46.1 168.3 50.1 168.6 45.4 168.9 48.5 169.2 44.8 169.5 47.2 169.8 44.2 170 43.9 170.1 47.4 170.4 80 170.7 67.2 170.7 104.4 171 65.2 171.2 106.9 171.3 67.1 171.6 101.4 171.9 66.8 172 103.1 172.2 63.3 172.5 99 172.8 62.8 173.1 97.5 173.4 64.1 173.7 97.3 174 62.2 174 94.9 174.3 64.1 174.6 95.5 174.9 64.4 175.2 92.8 175.5 62.5 175.8 93.6 176 61.1 176.1 92.7 176.4 60.7 176.7 90.8 177 59.9 177.3 89.3 177.6 59.7 177.9 86.7 178 61.1 178.2 87.3 178.5 60.6 178.8 86.3 179.1 58.8 179.4 83.2 179.7 57.3 180 81.2 180 58.1 180.3 80.4 180.6 56.4 180.9 80.2 181.2 56.3 181.5 78 181.8 55.7 182 77.8 182.1 55.8 182.4 77.4 182.7 55.7 183 74.8 183.3 54.5 183.6 74.2 183.9 54.7 184 72.9 184.2 54.7 184.5 71.5 184.8 53 185.1 69.2 185.4 52.5 185.7 67.7 186 51.5 186 67.8 186.3 52.2 186.6 66.8 186.9 51.4 187.2 65.4 187.5 51.5 187.8 63.8 188 50.3 188.1 63.6 188.4 50.6 188.7 61.6 189 49.2 189.3 60.3 189.6 49.3 189.9 59 190 48.7 190.2 57.9 190.5 47.5 190.8 56.6 191.1 47.3 191.4 55.8 191.7 46.5 192 54.3 192 46.2 192.3 53.6 192.6 45.7 192.9 52.5 193.2 45.1 193.5 51.1 193.8 44.7 194 50 194.1 44.4 194.4 49.2 194.7 43.8 195 47.8 195.3 43.1 195.6 46.5 195.9 42.7 196.2 45.2 196.5 42.1 196.8 43.9 196.8 41.6 197.1 69.7 197.4 61 197.5 102.4 197.7 65.9 198 106.1 198 106.7 198.3 103.5 198.6 64.6 198.8 101.9 198.9 64.6 199.2 99.9 199.5 65.7 199.8 98.1 200.1 64.8 200.4 97.2 200.7 61.6 200.8 96 201 63.4 201.3 94.9 201.6 62.3 201.9 95.5 202.2 60.7 202.5 92.1 202.8 62.3 202.8 93.1 203.1 61.2 203.4 90.9 203.7 62 204 90 204.3 60.6 204.6 87.4 204.8 60.4 204.9 86.4 205.2 58.1 205.5 86.2 205.8 58.5 206.1 84.5 206.4 57.9 206.7 82 206.8 57.3 207 80.8 207.3 57.4 207.6 80.7 207.9 55.5 208.2 77.5 208.5 55 208.8 78 208.8 55.4 209.1 75.4 209.4 54.2 209.7 74.4 210 53.7 210.3 73.3 210.6 53.1 210.8 71.9 210.9 53.1 211.2 71.5 211.5 52.2 211.8 69.4 212.1 50.9 212.4 68.2 212.7 51.5 212.8 67.2 213 51.6 213.3 66.3 213.6 49.7 213.9 65.4 214.2 50.1 214.5 63 214.8 49.2 214.8 63.3 215.1 48.6 215.4 62.1 215.7 47.7 216 60.3 216.3 47 216.6 59.1 216.8 47 216.9 57.7 217.2 46.5 217.5 56.7 217.8 46.2 218.1 55.3 218.4 45 218.7 53.6 218.8 45 219 53 219.3 44.4 219.6 52.4 219.9 43.9 220.2 50.4 220.5 43.2 220.8 49.3 220.8 42.9 221.1 48.7 221.4 42.2 221.7 47.3 222 41.1 222.3 46 222.6 40.6 222.8 45 222.9 40.4 223.2 44.3 223.5 39.9 223.8 43 224.1 39 224.4 41.5 224.7 38.6 224.9 38.1 225 41.5 225.3 76.8 225.6 63 225.6 104.9 225.9 62.5 226.1 105.1 226.2 66.4 226.5 99.9 226.8 63.6 226.9 102.2 227.1 62.7 227.4 99.7 227.7 63.4 228 98.3 228.3 63.2 228.6 97.8 228.9 62.5 228.9 94.7 229.2 62.5 229.5 92 229.8 61.1 230.1 92.7 230.4 61.5 230.7 91.6 230.9 59.9 231 89.1 231.3 61.6 231.6 86.9 231.9 60.5 232.2 85.8 232.5 59 232.8 86 232.9 59.1 233.1 85.1 233.4 57.3 233.7 83.3 234 57.4 234.3 79.3 234.6 55.7 234.9 78.4 234.9 57 235.2 79 235.5 54.9 235.8 75.9 236.1 55.2 236.4 76 236.7 54.5 236.9 74 237 54.4 237.3 73.2 237.6 53.7 237.9 70.9 238.2 53.1 238.5 69.4 238.8 50.8 238.9 67.4 239.1 51.5 239.4 67.4 239.7 50.2 240 65 240.3 49.4 240.6 63.7 240.9 48.4 240.9 62.6 241.2 48.2 241.5 61.6 241.8 47.5 242.1 59.6 242.4 46.9 242.7 58.5 242.9 46.7 243 56.9 243.3 45.5 243.6 56.2 243.9 45.7 244.2 54.7 244.5 44.9 244.8 52.9 244.9 43.8 245.1 52.1 245.4 43.8 245.7 50.5 246 43.2 246.3 49 246.6 42.3 246.9 47.5 246.9 42.1 247.2 47 247.5 41.3 247.8 45.7 248.1 40.2 248.4 43.9 248.7 39.6 249 42.6 249.3 39.1 249.6 41 249.9 38.2 249.9 38.1 250.2 47.7 250.5 94 250.6 61.4 250.8 106.8 251.1 64.3 251.1 107.5 251.4 65.3 251.7 101.1 251.9 63.6 252 98.4 252.3 65.2 252.6 99.7 252.9 63.8 253.2 96.7 253.5 61.3 253.8 94.7 253.9 64.3 254.1 94.1 254.4 63.3 254.7 91.4 255 61.1 255.3 92.7 255.6 60.4 255.9 90 255.9 60.9 256.2 88.9 256.5 58.8 256.8 87.3 257.1 58 257.4 85.5 257.7 59.1 257.9 84.2 258 57.9 258.3 81.9 258.6 56.8 258.9 82 259.2 57.3 259.5 79.6 259.8 55 259.9 78.1 260.1 55.8 260.4 76.6 260.7 54.4 261 75.7 261.3 53.6 261.6 72.7 261.9 52.3 261.9 73.7 262.2 53.5 262.5 70.6 262.8 52.6 263.1 70.2 263.4 50.4 263.7 67 263.9 50.8 264 66.4 264.3 50.1 264.6 66.1 264.9 50 265.2 63.2 265.5 48.6 265.8 62.1 265.9 47.7 266.1 61.2 266.4 47.9 266.7 59.5 267 46 267.3 58.4 267.6 46.4 267.9 56.9 267.9 45.8 268.2 56.1 268.5 45.3 268.8 54.6 269.1 44.4 269.4 52.6 269.7 43.1 269.9 51.3 270 43.2 270.3 50 270.6 42.4 270.9 48.5 271.2 41.6 271.5 47.1 271.8 40.7 271.9 46.2 272.1 40.3 272.4 44.9 272.7 39.8 273 43.4 273.3 38.7 273.6 41.9 273.9 38.1 274.2 40.5 274.5 37.4 274.7 37 274.8 40.1 275.1 75.1 275.4 59.5 275.4 101.8 275.7 65.3 275.9 105.3 276 65.3 276.3 103.7 276.6 66.5 276.7 101.5 276.9 64.9 277.2 98 277.5 62.5 277.8 98.6 278.1 65.1 278.4 97.9 278.7 64.7 278.7 94.2 279 63.5 279.3 95.6 279.6 64 279.9 93.9 280.2 61.4 280.5 89.5 280.7 61 280.8 90 281.1 60.6 281.4 89.3 281.7 59.7 282 88.4 282.3 60.6 282.6 86.3 282.7 59.4 282.9 85.4 283.2 57.5 283.5 84.3 283.8 58.6 284.1 81.2 284.4 56.2 284.7 80.9 284.7 57.3 285 80.1 285.3 56.6 285.6 77.1 285.9 55.1 286.2 75.8 286.5 55.2 286.7 74.3 286.8 54.9 287.1 72.7 287.4 55 287.7 72.4 288 53.3 288.3 70.7 288.6 52.2 288.7 68.8 288.9 52.9 289.2 67.6 289.5 52.1 289.8 66.9 290.1 51.3 290.4 64.7 290.7 50.3 290.7 63.7 291 50.7 291.3 62.9 291.6 49.1 291.9 60.9 292.2 48.6 292.5 59.1 292.7 48.4 292.8 59 293.1 48.1 293.4 57.3 293.7 47.1 294 56.1 294.3 46.9 294.6 54.7 294.7 46.5 294.9 54.2 295.2 45.8 295.5 52.2 295.8 45.1 296.1 51.3 296.4 44.4 296.7 49.6 296.7 43.6 297 49.1 297.3 43.5 297.6 47.4 297.9 42.5 298.2 46 298.5 42 298.8 44.4 299.1 41.4 299.4 42.9 299.4 40.8 299.7 68 300 62.1 300.1 102.4 300.3 66.7 300.6 101.3 300.6 105.3 300.9 102.3 301.2 67 301.4 102.3 301.5 67.7 301.8 99.7 302.1 63.7 302.4 100.9 302.7 64.7 303 96.7 303.3 65.5 303.4 95.6 303.6 65.7 303.9 94.5 304.2 65.7 304.5 95.3 304.8 65.4 305.1 92.4 305.4 62.4 305.4 92.4 305.7 64 306 90.3 306.3 62.2 306.6 90.8 306.9 62.6 307.2 89.2 307.4 63.5 307.5 87.5 307.8 61.9 308.1 88.1 308.4 60.8 308.7 85.9 309 61.3 309.3 83 309.4 60 309.6 82.4 309.9 61.6 310.2 82.7 310.5 59.5 310.8 81.5 311.1 60 311.4 78.8 311.4 60.7 311.7 79.6 312 58.2 312.3 77 312.6 58.1 312.9 76.1 313.2 58.8 313.4 75.2 313.5 59.1 313.8 74.2 314.1 58.3 314.4 73.4 314.7 57.4 315 72.3 315.3 56.3 315.4 70.6 315.6 57.1 315.9 70.5 316.2 56.3 316.5 68 316.8 56.5 317.1 67.9 317.4 55.4 317.4 66.1 317.7 55.5 317.7 60.7" fill="none" stroke="#f00" stroke-width="1.55" stroke-linejoin="round"/>
<path d="M76.5 198.2L76.8 197.8 77.1 197.5 77.4 197.1 77.7 196.8 78 196.4 78.3 196 78.6 195.7 78.9 195.3 79.2 194.9 79.5 194.6 79.8 194.2 80.1 193.9 80.4 193.5 80.7 193.1 81 192.8 81.3 192.4 81.6 192 81.9 191.7 82.2 191.3 82.5 191 82.8 190.6 83.1 190.2 83.4 189.9 83.7 189.5 84 189.2 84.3 188.8 84.6 188.4 84.9 188.1 85.2 187.7 85.5 187.3 85.8 187 86.1 186.6 86.4 186.3 86.7 185.9 87 185.5 87.3 185.2 87.6 184.8 87.9 184.4 88.2 184.1 88.5 183.7 88.8 183.4 89.1 183 89.4 182.6 89.7 182.3 90 181.9 90.3 181.6 90.6 181.2 90.9 180.8 91.2 180.5 91.5 180.1 91.8 179.7 92.1 179.4 92.4 179 92.7 178.7 93 178.3 93.3 177.9 93.6 177.6 93.9 177.2 94.2 176.8 94.5 176.5 94.8 176.1 95.1 175.8 95.4 175.4 95.7 175 96 174.7 96.3 174.3 96.6 174 96.9 173.6 97.2 173.2 97.5 172.9 97.8 172.5 98.1 172.1 98.4 171.8 98.7 171.4 99 171.1 99.3 170.7 99.6 170.3 99.9 170 100.2 169.6 100.5 169.2 100.8 168.9 101.1 168.5 101.4 168.2 101.7 167.8 102 167.4 102.3 167.1 102.6 166.7 102.9 166.4 103.2 166 103.5 165.6 103.8 165.3 104.1 164.9 104.4 164.5 104.7 164.2 105 163.8 105.3 163.5 105.6 163.1 105.9 162.7 106.2 162.4 106.5 162 106.8 161.6 107.1 161.3 107.4 160.9 107.7 160.6 108 160.2 108.3 159.8 108.6 159.5 108.9 159.1 109.2 158.8 109.5 158.4 109.8 158 110.1 157.7 110.4 157.3 110.7 156.9 111 156.6 111.3 156.2 111.6 155.9 111.9 155.5 112.2 155.1 112.5 154.8 112.8 154.4 113.1 154 113.4 153.7 113.5 153.6 113.7 173.3 114 169.8 114.1 211 114.3 173.3 114.6 213 114.6 213.5 114.9 201.2 115.1 169.6 115.2 200.4 115.5 174.2 115.7 195.2 115.8 173.8 116.1 193.3 116.4 172.2 116.5 190.3 116.7 171.4 117 189.6 117.3 168.7 117.5 189.2 117.6 170.4 117.9 186.9 118.2 171 118.5 184.9 118.8 167.2 119 182.9 119.1 167.3 119.4 183.9 119.7 168.6 120 183.2 120.3 168.2 120.5 182.6 120.6 168.5 120.9 179.6 121.2 166.1 121.5 179.5 121.8 167.3 122.1 178.6 122.4 166.4 122.5 178 122.7 165 123 177.9 123.3 166.2 123.6 176.2 123.9 163.6 124.2 174.9 124.5 163.6 124.5 173.6 124.8 163.2 125.1 173.7 125.4 162.8 125.7 173.1 126 162.4 126.3 170.7 126.5 162.3 126.6 170.5 126.9 162.8 127.2 169.8 127.5 161.8 127.8 169.4 128.1 160.8 128.4 167.5 128.5 161.6 128.7 167.5 129 160.3 129.3 166.9 129.6 160.3 129.9 166.2 130.2 159.7 130.5 164.8 130.5 160.1 130.8 164.5 131.1 158.8 131.4 163.8 131.7 159.1 132 162.8 132.3 158.4 132.5 162.2 132.6 158 132.9 161.9 133.2 157.7 133.5 160.7 133.8 157.1 134.1 160.2 134.4 156.6 134.5 159.4 134.7 156.3 135 158.7 135.3 155.8 135.6 157.9 135.9 155.7 136.2 157.4 136.5 155.2 136.8 156.6 137 154.6 137.1 165 137.4 168.7 137.6 210.9 137.7 176 138 212.3 138.1 212.6 138.3 204.3 138.6 174.8 138.6 203.2 138.9 172.3 139.2 193.6 139.2 171.7 139.5 192.7 139.8 171.5 140 191.8 140.1 169 140.4 191.1 140.7 171.6 141 187.9 141 170 141.3 189.1 141.6 171 141.9 186.1 142.2 167.5 142.5 184.4 142.5 169.5 142.8 184.4 143.1 168.9 143.4 184.5 143.7 169.1 144 181.2 144 168.9 144.3 182.2 144.6 167.7 144.9 181.7 145.2 165.6 145.5 180.8 145.8 166.9 146 177.4 146.1 166.3 146.4 179.3 146.7 164.9 147 176 147.3 164.6 147.6 177.2 147.9 163.6 148 176 148.2 163.6 148.5 175.5 148.8 164.3 149.1 172.9 149.4 163.1 149.7 172.1 150 163.3 150 173.4 150.3 162.8 150.6 171.5 150.9 161.6 151.2 170.2 151.5 161.1 151.8 170.3 152 161.8 152.1 168.9 152.4 161.9 152.7 168.9 153 161.3 153.3 166.7 153.6 159.9 153.9 166.7 154 159.9 154.2 166.4 154.5 160.3 154.8 164.8 155.1 159.3 155.4 163.9 155.7 158.9 156 163.8 156 158.5 156.3 163.3 156.6 158.7 156.9 162.1 157.2 157.5 157.5 161.2 157.8 157.3 158 160.5 158.1 156.8 158.4 160.1 158.7 156.8 159 159.6 159.3 156.2 159.6 159.1 159.9 155.7 160 158.3 160.2 155.9 160.5 157.8 160.8 155 161.1 156.8 161.4 154.7 161.7 156.2 162 154.4 162.2 154.1 162.3 157 162.6 193.6 162.8 170.5 162.9 207.9 163.2 172 163.3 212.6 163.5 174.1 163.8 200.1 163.8 172.7 164.1 197 164.4 173.1 164.4 193.8 164.7 171.8 165 191.4 165.2 169.5 165.3 192.4 165.6 171.2 165.9 189.5 166.2 168.5 166.2 187.5 166.5 169.6 166.8 186.6 167.1 168.8 167.4 187.1 167.7 170.1 167.7 186.5 168 168.1 168.3 184.8 168.6 167.8 168.9 184 169.2 168.3 169.2 182.9 169.5 168.3 169.8 181.3 170.1 166.6 170.4 179.5 170.7 167.9 171 180.1 171.2 165.5 171.3 179.3 171.6 166.5 171.9 178.3 172.2 166.7 172.5 177.3 172.8 165 173.1 176.3 173.2 165.1 173.4 174.9 173.7 164.1 174 174.5 174.3 163.6 174.6 173.4 174.9 164.5 175.2 172.8 175.2 163.3 175.5 173.1 175.8 162.4 176.1 170.6 176.4 162.2 176.7 170.1 177 161.9 177.2 169.6 177.3 162.3 177.6 169.2 177.9 161.5 178.2 168.6 178.5 161 178.8 167.7 179.1 160.9 179.2 167.1 179.4 160.7 179.7 166.3 180 160.2 180.3 165.4 180.6 160.2 180.9 164.5 181.2 159.6 181.2 164 181.5 159.5 181.8 163.5 182.1 158.3 182.4 162.4 182.7 158.6 183 161.8 183.2 158.2 183.3 161.6 183.6 157.9 183.9 160.5 184.2 157.2 184.5 159.7 184.8 156.9 185.1 159 185.2 156.4 185.4 159 185.7 156.3 186 158.2 186.3 155.9 186.6 157.4 186.9 155.4 187.2 156.6 187.3 155 187.5 175.1 187.8 172.3 187.9 208.4 188.1 170.9 188.4 214 188.4 214 188.7 207.1 188.9 169.8 189 201.5 189.3 171.3 189.5 194.2 189.6 172.3 189.9 194 190.2 169.2 190.3 190.5 190.5 171.2 190.8 187.8 191.1 169.5 191.3 187.9 191.4 168.9 191.7 186.3 192 169 192.3 186.6 192.6 169.2 192.8 183.9 192.9 169.2 193.2 185.1 193.5 169.4 193.8 181.9 194.1 168.1 194.3 181.5 194.4 166.9 194.7 182.7 195 166 195.3 181.7 195.6 166.5 195.9 178.9 196.2 165.6 196.3 179.7 196.5 165.6 196.8 178.8 197.1 165 197.4 176.9 197.7 165 198 176.5 198.3 165.4 198.3 175.6 198.6 165.6 198.9 175 199.2 164.6 199.5 174 199.8 163.2 200.1 173.6 200.3 163.2 200.4 173.7 200.7 163.8 201 171.9 201.3 163.6 201.6 170.8 201.9 161.7 202.2 169.4 202.3 161.7 202.5 170.2 202.8 161.8 203.1 169.2 203.4 161.5 203.7 167.7 204 161 204.3 166.7 204.3 161 204.6 166.4 204.9 159.7 205.2 165.6 205.5 160.3 205.8 165.5 206.1 159.9 206.3 164.8 206.4 159 206.7 163.9 207 159 207.3 162.7 207.6 158.8 207.9 161.9 208.2 158.2 208.3 161.6 208.5 157.6 208.8 161.1 209.1 157.1 209.4 160.5 209.7 157.3 210 159.6 210.3 156.8 210.3 159 210.6 156.2 210.9 158.5 211.2 156.2 211.5 157.7 211.8 155.6 212.1 157.1 212.4 155.4 212.6 155 212.7 158.4 213 193.7 213.2 172.9 213.3 210.3 213.6 174.2 213.7 214 213.9 170.1 214.2 202.9 214.2 175.3 214.5 198.4 214.8 173.3 214.8 193.8 215.1 173.1 215.4 191.5 215.6 169.1 215.7 192.4 216 169.3 216.3 190.3 216.6 171 216.6 188.1 216.9 170.3 217.2 186.6 217.5 169.9 217.8 187.1 218.1 170.7 218.1 184.8 218.4 169.1 218.7 185.2 219 168.1 219.3 184.3 219.6 169.4 219.6 182.1 219.9 168.6 220.2 181.5 220.5 166.8 220.8 182.7 221.1 166.6 221.4 179 221.6 167.4 221.7 180.8 222 165.4 222.3 179.3 222.6 166.6 222.9 177.8 223.2 165.4 223.5 178.2 223.6 165.9 223.8 176.1 224.1 166.4 224.4 175.1 224.7 164 225 175.4 225.3 163.3 225.6 173.3 225.6 164.5 225.9 174.4 226.2 163.5 226.5 172.1 226.8 163.6 227.1 172.4 227.4 162.7 227.6 171.3 227.7 163.4 228 171.7 228.3 162.5 228.6 170.4 228.9 162 229.2 168.6 229.5 162 229.6 168 229.8 161.9 230.1 167.6 230.4 161.2 230.7 167 231 160.8 231.3 166.8 231.6 160.8 231.6 165.5 231.9 159.7 232.2 165.3 232.5 159.7 232.8 164.3 233.1 159.2 233.4 163.5 233.6 158.6 233.7 163.7 234 158.9 234.3 162.2 234.6 158 234.9 161.8 235.2 157.8 235.5 161.5 235.6 157.5 235.8 161.1 236.1 157.4 236.4 160.4 236.7 157 237 159.4 237.3 156.6 237.6 158.8 237.9 156.1 238.2 158.4 238.5 156 238.8 157.4 239.1 155.5 239.4 156.9 239.7 155 239.7 155 240 162.1 240.3 211.4 240.3 171.4 240.6 207.9 240.8 213.5 240.9 204.4 241.2 170.8 241.3 199.6 241.5 174.7 241.8 195.4 241.9 172.7 242.1 195.5 242.4 173.5 242.7 190 242.7 169.2 243 191.7 243.3 169.9 243.6 188.5 243.7 171.1 243.9 189 244.2 168.7 244.5 186.3 244.8 170.4 245.1 184 245.2 169.3 245.4 183.9 245.7 169.9 246 183.1 246.3 168.2 246.6 181.7 246.7 168.1 246.9 181.3 247.2 167.7 247.5 181.2 247.8 167 248.1 179 248.4 165.7 248.7 178.9 248.7 166.4 249 178.9 249.3 165.2 249.6 178.3 249.9 164.7 250.2 176.8 250.5 164.5 250.7 174.8 250.8 164.3 251.1 174.5 251.4 164.9 251.7 173.3 252 164.1 252.3 172.2 252.6 163.2 252.7 173 252.9 162.7 253.2 171.1 253.5 162.6 253.8 171.4 254.1 163.2 254.4 169.4 254.7 162.3 254.7 169.4 255 162.3 255.3 168.7 255.6 161.5 255.9 168 256.2 160.8 256.5 167.1 256.7 160.9 256.8 166.7 257.1 160 257.4 165.9 257.7 160.3 258 165.3 258.3 159.3 258.6 163.7 258.7 159.2 258.9 163.5 259.2 158.8 259.5 162.5 259.8 158.6 260.1 161.8 260.4 157.7 260.7 161.1 260.7 158.1 261 160.7 261.3 157.5 261.6 159.7 261.9 156.6 262.2 159.2 262.5 156.5 262.7 158.6 262.8 156.5 263.1 158.4 263.4 155.7 263.7 157.4 264 155.5 264.3 156.7 264.5 155 264.6 165.5 264.9 165.4 265.1 210.9 265.2 171.7 265.5 205.4 265.6 212.8 265.8 205.9 266.1 171.5 266.1 200.2 266.4 172.5 266.7 197.2 266.7 174.2 267 192.8 267.3 172.1 267.5 193.3 267.6 172.1 267.9 188.1 268.2 170.7 268.5 188.5 268.5 171.5 268.8 188.6 269.1 170.8 269.4 186.8 269.7 170.4 270 186 270 170 270.3 185 270.6 167.5 270.9 182.4 271.2 169.4 271.5 182.4 271.5 168 271.8 181.5 272.1 166.7 272.4 180.5 272.7 167.1 273 179.6 273.3 166.8 273.5 178.6 273.6 167.4 273.9 177.6 274.2 166.7 274.5 176.6 274.8 165 275.1 175.4 275.4 165.9 275.5 175.7 275.7 165.4 276 174.3 276.3 164.9 276.6 173.9 276.9 163.9 277.2 173.9 277.5 163.1 277.5 172.4 277.8 163.7 278.1 171.5 278.4 163.6 278.7 171.5 279 163.5 279.3 169.4 279.5 162.2 279.6 169.5 279.9 162.5 280.2 169.1 280.5 161.9 280.8 167.8 281.1 161.9 281.4 167.3 281.5 161.5 281.7 166.3 282 160.3 282.3 166 282.6 159.9 282.9 165.1 283.2 160.2 283.5 163.5 283.5 159.8 283.8 163.2 284.1 159 284.4 162.4 284.7 159.1 285 161.8 285.3 158.9 285.5 161.4 285.6 158.6 285.9 161.1 286.2 157.8 286.5 160.1 286.8 157.4 287.1 159.6 287.4 157.2 287.7 158.9 288 156.6 288.3 158.1 288.4 156.4 288.6 176.2 288.9 168.3 289 208.3 289.2 177.2 289.5 212.2 289.5 213.2 289.8 202.6 290 172.2 290.1 199 290.4 169.8 290.6 194.9 290.7 173.2 291 191.4 291.3 171.7 291.4 193.5 291.6 171.9 291.9 189.7 292.2 168.3 292.4 186.4 292.5 170.7 292.8 188.6 293.1 170.9 293.4 187.7 293.7 167.8 293.9 183.9 294 168.4 294.3 184.6 294.6 167.6 294.9 182.8 295.2 168.2 295.4 181.8 295.5 168.3 295.8 180.9 296.1 165.9 296.4 182.1 296.7 167.1 297 180.6 297.3 166.3 297.4 178.8 297.6 166.5 297.9 179.9 298.2 166 298.5 177.9 298.8 164.1 299.1 176.2 299.4 164 299.4 175.3 299.7 164 300 176.1 300.3 163.3 300.6 175.5 300.9 163.2 301.2 174.6 301.4 163.7 301.5 173.1 301.8 163.6 302.1 171.4 302.4 162.7 302.7 171.7 303 161.6 303.3 169.6 303.4 161 303.6 169.5 303.9 161.8 304.2 169.7 304.5 160.4 304.8 168.6 305.1 160.9 305.4 167.3 305.4 159.9 305.7 166.8 306 159.5 306.3 166.5 306.6 159.6 306.9 165.8 307.2 159.2 307.4 164.9 307.5 158.7 307.8 163.9 308.1 158.4 308.4 163.4 308.7 158 309 162.1 309.3 157.1 309.4 162.4 309.6 157.8 309.9 161.7 310.2 156.9 310.5 160.2 310.8 156.3 311.1 159.7 311.4 155.9 311.4 159.6 311.7 155.9 312 158.4 312.3 155.3 312.6 158.1 312.9 154.8 313.2 157.2 313.5 154.5 313.8 156.7 314.1 154.3 314.4 155.8 314.7 153.8 315 155 315.3 153.4 315.3 153.2 315.6 153.8 315.9 158.2 315.9 153.7 316.2 182 316.5 178.2 316.5 204.8 316.8 187.6 317.1 212.7 317.2 204.2 317.4 214.1 317.6 210.8" fill="none" stroke="#f00" stroke-width="1.55" stroke-linejoin="round"/>
<path d="M431 69.9L431.4 68.2 431.9 66.6 432.3 64.9 432.8 63.2 433.2 61.5 433.5 60.6 433.7 60.1 434.1 58.9 434.6 57.7 435 56.6 435.5 55.4 435.9 54.2 436 54.1 436.4 53.4 436.8 52.5 437.3 51.7 437.7 50.9 438.2 50 438.6 49.2 439 48.5 439.1 48.4 439.5 47.8 440 47.2 440.4 46.6 440.9 46 441.3 45.4 441.8 44.8 441.8 44.8 442.2 53.2 442.7 49.5 443.1 75 443.2 56.5 443.6 83 443.7 91.3 444 83.7 444.2 65.3 444.5 79.4 444.6 64.6 444.9 75.3 445.4 61.5 445.8 77.3 446.3 58.1 446.7 78.6 447.2 61.7 447.6 77.2 447.9 57.9 448.1 74.4 448.5 57.3 449 78.7 449.4 60.3 449.9 79.1 450.3 63.7 450.8 73.9 451.2 59.7 451.2 76.4 451.7 71.2 451.7 89.9 452.1 85.9 452.3 101.3 452.6 84.7 453 94.6 453.1 85 453.5 98.2 453.9 79.1 454.4 97.7 454.8 80.1 455.3 93.2 455.7 78.8 455.9 91 456.2 77.4 456.6 89.1 457.1 77.4 457.5 87.3 458 75.6 458.4 85.1 458.4 70.2 458.9 84.8 459.3 66.3 459.8 83.4 460.2 66.3 460.7 80.6 460.9 65.7 461.1 78.5 461.6 65 462 74.2 462.5 59.1 462.9 71.9 463.4 59.4 463.5 71.3 463.8 59.3 464.3 68.9 464.7 58.5 465.2 63.4 465.6 55.6 466 61.3 466.1 51.3 466.5 58.7 467 51.9 467.4 58.3 467.9 48.3 468.3 56.3 468.5 48.1 468.8 52.6 469.2 44.7 469.7 48.6 470.1 44.3 470.6 45.1 471 40.6 471 45.3 471.5 42.3 471.9 60.7 472.4 46.8 472.5 71.9 472.8 61.8 473 89.4 473.3 67.1 473.5 73.9 473.7 57.9 474.2 75.7 474.6 57.7 475.1 69.9 475.5 57 476 70.1 476.4 56.9 476.8 69.6 476.9 58.4 477.3 69 477.8 56.1 478.2 65.8 478.7 56.2 479.1 62.9 479.5 53.6 479.6 59.5 480 53.3 480.5 58.7 480.9 50.9 481.4 57.3 481.8 49.4 482.2 52.5 482.3 45.6 482.7 51.7 483.2 45.2 483.6 48.2 484.1 43.8 484.5 45.3 485 40.9 485 40.6 485.4 41.5 485.9 59.2 486.3 45.2 486.8 67.5 486.9 50.4 487.2 78.8 487.4 90.3 487.7 83.6 487.9 64.5 488.1 78.9 488.3 61.7 488.6 73.3 489 64.9 489.5 77.8 489.9 59.5 490.4 74.3 490.8 56.8 491.3 73 491.4 59.5 491.7 72.4 492.2 58.6 492.6 72.6 493.1 62.9 493.5 78.1 494 61.3 494.4 77.7 494.4 60.9 494.9 88.8 494.9 73.9 495.3 95.4 495.5 98.9 495.8 94.3 496.2 81.8 496.3 91.9 496.7 83.3 497.1 95 497.6 78.1 498 92.7 498.5 79.5 498.9 91.1 499.4 77.6 499.4 93.5 499.8 73.5 500.3 87.2 500.7 71.8 501.2 91.3 501.6 73.8 502.1 86.9 502.1 69.6 502.5 85.2 503 71.2 503.4 82.6 503.9 65.7 504.3 77.1 504.8 66.2 504.9 75.3 505.2 63.2 505.7 77.4 506.1 65.8 506.6 74.8 507 60.5 507.5 69.3 507.6 60.2 507.9 71 508.4 59.6 508.8 67.7 509.3 54.9 509.7 66 510.2 55.3 510.4 61.9 510.6 56 511.1 63.4 511.5 51.7 512 61 512.4 50.6 512.9 57.7 513.1 49.5 513.3 56.8 513.8 48.6 514.2 52.5 514.7 46.2 515.1 49.3 515.6 44.6 515.9 43 516 45.4 516.5 58.1 516.9 45.8 517 74.2 517.4 65.2 517.5 91.3 517.8 68.1 518 77.9 518.3 59.3 518.7 76 519.2 60.1 519.6 72.5 520.1 62 520.5 71.3 521 59.1 521 68.4 521.4 59.2 521.9 67.5 522.3 56.8 522.8 64.2 523.2 54.8 523.6 62.5 523.7 53.3 524.1 59.8 524.6 49.2 525 58.1 525.5 48 525.9 54.1 526.2 46.2 526.4 52.7 526.8 44.4 527.3 50.3 527.7 43.2 528.2 46.3 528.6 41.3 528.7 40.6 529.1 43.8 529.5 54.8 530 44.7 530.4 60.1 530.9 52.1 531.3 72.5 531.3 51.1 531.8 83.5 531.8 89.4 532.2 76.6 532.3 59.5 532.6 78.5 532.7 62.8 533.1 75.5 533.6 64.4 534 73 534.5 59.3 534.9 77.6 535.4 55.9 535.5 74.1 535.8 55.9 536.3 74 536.7 56.8 537.2 79.1 537.6 63.5 538.1 79 538.4 60.1 538.5 81.3 539 68.9 539 89.7 539.4 83.1 539.6 100.6 539.9 83.3 540.3 98.6 540.4 85 540.8 97.4 541.2 82.9 541.7 92.7 542.1 82 542.6 94.5 543 80 543.3 91.5 543.5 80.5 543.9 90.1 544.4 73.5 544.8 85.3 545.3 73.3 545.7 86.6 545.9 74.8 546.2 83.3 546.6 67.5 547.1 85.1 547.5 65.9 548 77.4 548.4 64.5 548.5 77.8 548.9 66.9 549.3 75.4 549.8 60.7 550.2 75 550.7 61.6 551 68.6 551.1 58 551.6 71.6 552 58 552.5 65.4 552.9 56 553.4 65.1 553.6 54.8 553.8 62.3 554.3 54.3 554.7 59.7 555.2 53.1 555.6 57.1 556.1 47.9 556.2 54.8 556.5 47.7 557 54 557.4 46.5 557.9 49.6 558.3 44.6 558.8 45.8 558.8 42.5 559.2 51.9 559.7 46.7 560.1 65.6 560.6 47.1 561 73.8 561 52.1 561.5 86.4 561.5 91.7 561.9 80.8 562 61 562.4 76.3 562.8 59.6 563.3 73 563.7 61.5 564.2 71 564.6 62.4 565.1 72.3 565.5 61.7 565.5 69.2 566 60.1 566.4 68.9 566.9 58.5 567.3 64.1 567.8 53.1 568.2 63.1 568.6 52.1 568.7 63.1 569.1 53.7 569.6 59.4 570 49 570.5 57.3 570.9 47.3 571.4 52.6 571.7 47.9 571.8 53.5 572.3 44.8 572.7 48.8 573.2 44.2 573.6 46.2 574.1 41.8 574.5 43.2 574.7 39.2 575 51.5 575.4 48.1 575.8 71.3 575.9 56.2 576.3 92.7 576.3 69.6 576.8 76.7 576.8 56.9 577.2 79.3 577.7 61.7 578.1 77.8 578.6 60.8 579 75.5 579.5 60.8 579.9 72.7 580.2 61.4 580.4 70.1 580.8 59 581.3 66.3 581.7 55.7 582.2 62.4 582.6 55.7 583.1 60.5 583.1 52.5 583.5 59.9 584 51.9 584.4 58.2 584.9 51.2 585.3 58.1 585.8 48.6 586.1 55.3 586.2 47.1 586.7 53.5 587.1 46.5 587.6 48.6 588 44.1 588.5 45.9 588.9 42.9 589 41.6 589.4 43.5 589.8 58.3 590.3 51.3 590.7 75.8 590.7 51.8 591.2 86.6 591.2 93.1 591.6 84.4 591.7 59.6 592 79 592.1 62.5 592.5 75.1 593 60.6 593.4 73.6 593.9 59.8 594.3 72.4 594.8 63.3 595.2 76.9 595.4 60.2 595.7 76.8 596.1 57.4 596.6 78.2 597 59.4 597.5 78.6 597.9 59.8 598.4 79.5 598.8 58.8 598.8 74 599.3 70.4 599.5 86.6 599.7 78.6 600.1 98.2 600.2 82.1 600.6 91.4 600.9 82.5 601.1 95.2 601.5 81.4 602 91.2 602.4 75.3 602.9 94 603.3 77.6 603.8 88.9 604.1 77.9 604.2 94.2 604.7 72.7 605.1 85.1 605.6 71.2 606 84.4 606.5 69 606.9 81.2 607 71.6 607.4 78.2 607.8 68.5 608.3 80.7 608.7 62.9 609.2 76.9 609.6 61.8 609.9 72.3 610.1 62.9 610.5 74 611 57.6 611.4 69.1 611.9 56.8 612.3 68.8 612.7 54 612.8 64.6 613.2 54.5 613.7 62.5 614.1 53.3 614.6 60.2 615 52.1 615.5 56.1 615.6 49 615.9 56.8 616.4 47.1 616.8 51.5 617.3 46.6 617.7 48.9 618.2 43.2 618.5 42.5 618.6 44.2 619.1 53.6 619.5 44.7 620 67.5 620.4 47.2 620.7 72.7 620.9 62.7 621.2 92.7 621.3 68.5 621.7 82.3 621.8 64.5 622 75.3 622.2 64.3 622.7 79 623.1 58.4 623.6 75 624 57.4 624.5 74.5 624.9 59.4 625 75.7 625.4 61.5 625.8 73.8 626.3 61.9 626.7 74.2 627.2 60.8 627.6 73.5 628 59.6 628.1 76.7 628.5 72 628.6 93.8 629 87 629.2 104.3 629.4 89 629.9 100.3 630 84.1 630.3 101 630.8 87.2 631.2 100.1 631.7 82.3 632.1 97.7 632.6 83.1 632.9 95.1 633 78 633.5 95.3 633.9 74.9 634.4 88.3 634.8 72.4 635.3 87.7 635.4 72 635.7 88.1 636.2 71.7 636.6 85.5 637.1 66.5 637.5 81.9 638 67.3 638 78.8 638.4 67.3 638.9 77.2 639.3 61.1 639.8 71.2 640.2 59.7 640.5 71.7 640.7 62.2 641.1 70.9 641.6 57.8 642 65 642.5 57.6 642.9 64.6 643.1 54.8 643.4 62 643.8 53.5 644.3 59.7 644.7 50.5 645.2 57.7 645.6 47.4 645.6 56 646.1 47.5 646.5 50 647 43.5 647.4 47.9 647.9 41.8 648.2 40.6 648.3 41.5 648.8 56 649.2 47.2 649.7 71.2 649.7 48.9 650.1 85.8 650.2 94.1 650.6 82.4 650.7 66.6 651 76.1 651 64.2 651.5 77.4 651.9 59.5 652.4 76.9 652.8 59.4 653.3 76.5 653.7 61.4 654.2 74.2 654.2 56.3 654.6 78.8 655.1 62.1 655.5 72.1 656 57 656.4 78.8 656.9 60.4 657.3 78.8 657.4 60.9 657.8 86.2 658 73.2 658.2 89.6 658.6 97.3 658.7 92.9 659.1 79.6 659.4 91.2 659.6 78 660 93.3 660.5 78.5 660.9 92.4 661.4 76 661.8 89.1 662.3 78.1 662.7 84 662.7 73.7 663.2 86.7 663.6 72 664.1 83.8 664.5 72.6 665 80.9 665.4 66.6 665.6 77.9 665.9 67.6 666.3 76.1 666.8 66.3 667.2 73.4 667.7 62.4 668.1 70.3 668.5 62.1 668.6 67 669 61 669.5 65.9 669.9 58.4 670.4 60.1 670.8 55.9 671.3 57.2 671.5 53.2" fill="none" stroke="#f00" stroke-width="1.3" stroke-linejoin="round"/>
<path d="M431 182.2L431.4 181.6 431.8 180.9 432.3 180.3 432.7 179.6 433.1 179 433.5 178.4 433.9 177.7 434.4 177.1 434.8 176.4 435.2 175.8 435.6 175.2 436 174.5 436.5 173.9 436.9 173.3 437.3 172.6 437.7 172 438.1 171.3 438.6 170.7 439 170.1 439.4 169.4 439.8 168.8 440.2 168.1 440.7 167.5 441.1 166.9 441.5 166.2 441.9 165.6 442.3 164.9 442.8 164.3 443.2 163.7 443.6 163 444 162.4 444.4 161.7 444.9 161.1 445.3 160.5 445.7 159.8 446.1 159.2 446.5 158.5 447 157.9 447.4 157.3 447.8 156.6 448.2 156 448.6 155.4 449.1 154.7 449.2 154.5 449.5 158.5 449.7 157.1 449.9 168.3 450.3 176 450.4 186.9 450.7 175.8 451.2 184.5 451.2 170 451.6 181.4 452 166.3 452 179.7 452.4 173.6 452.8 190.5 452.8 172.1 453.3 200.4 453.5 207.8 453.7 202.6 454.1 187.6 454.4 203 454.5 179.8 454.9 198.4 455.4 175.2 455.8 194.2 456.2 174.9 456.6 193.6 456.7 179.9 457 191.7 457.5 177.5 457.9 191.9 458.3 174.7 458.7 188 459.1 179.2 459.6 187.2 460 175.5 460.2 189.5 460.4 175.9 460.8 187.6 461.2 174.5 461.7 183.4 462.1 175.7 462.5 186.3 462.9 174.7 463.2 184.8 463.3 173.7 463.8 181 464.2 174.4 464.6 179.5 465 172 465.4 178.8 465.9 170.4 466.2 177.9 466.3 169.8 466.7 175.1 467.1 169.1 467.5 176.1 468 168.4 468.2 173.9 468.4 166.5 468.8 172.6 469.2 165.6 469.6 169.9 470.1 164 470.5 169.4 470.7 163.4 470.9 166.7 471.3 163.1 471.7 166.5 472.2 161.4 472.6 163.5 473 159.8 473.2 163.2 473.4 159.3 473.8 161.3 474.3 158.5 474.7 160.2 475.1 157.9 475.5 159.5 475.7 156.8 475.9 158.2 476.4 155.9 476.8 157.9 477.2 155.3 477.6 156.4 478 154.5 478 156.6 478.5 155.6 478.5 163.5 478.9 167.1 479.2 188.9 479.3 178.8 479.7 184.4 480 172.4 480.1 181.4 480.6 170.4 480.8 176 481 171.1 481.4 188.7 481.6 176.3 481.8 201.5 482.2 201.6 482.3 214.8 482.7 192 483.1 207.4 483.2 177.7 483.5 206 483.9 178 484.3 201.7 484.8 177 485.2 195.1 485.5 181.1 485.6 199.4 486 180.7 486.4 195.3 486.9 179.3 487.3 192.3 487.7 174.8 488.1 191.4 488.5 176.6 489 187 489 174.3 489.4 188.2 489.8 175.6 490.2 187.7 490.6 173.9 491.1 186.7 491.5 173.5 491.9 184.8 492 173.6 492.3 183.3 492.7 171.5 493.2 179.4 493.6 171.8 494 179.9 494.4 172.1 494.8 179 495 169.1 495.3 178.6 495.7 169.2 496.1 175.2 496.5 166.2 496.9 173.2 497 165.8 497.4 172.3 497.8 166 498.2 170.2 498.6 165 499 168.8 499.5 163.8 499.5 168.7 499.9 161.6 500.3 165.6 500.7 162.2 501.1 163.8 501.6 159.6 502 162.2 502 159.4 502.4 161.9 502.8 159.1 503.2 160.5 503.7 157.6 504.1 159 504.5 156.5 504.5 158.8 504.9 156.7 505.3 157.8 505.8 155.8 506.2 157.4 506.6 155.5 507 156.5 507.4 154.8 507.9 156.2 508.3 154.2 508.5 153.8 508.7 154.3 509 162 509.1 159.4 509.5 182.2 509.7 179.3 510 186.7 510.4 175.8 510.5 182 510.8 172.1 511.2 180.7 511.3 171.7 511.6 186.9 512.1 178 512.1 188.6 512.5 186.6 512.8 204.3 512.9 194.9 513.3 201.7 513.7 185.8 513.7 195.8 514.2 187 514.6 194.3 515 182.7 515.4 194.6 515.8 183.4 516 189.4 516.3 180.5 516.7 190.2 517.1 180.5 517.5 190.7 517.9 177.8 518.4 190.1 518.8 177.6 519.2 185.3 519.5 179.3 519.6 186.9 520 175.9 520.5 183.9 520.9 176.8 521.3 183.9 521.7 176.5 522.1 182.3 522.5 176.2 522.6 181.6 523 176.1 523.4 181.3 523.8 174 524.2 180.4 524.7 172.3 525.1 179.7 525.5 172 525.5 178.8 525.9 171.2 526.3 176.5 526.8 168.9 527.2 174.2 527.5 168.5 527.6 173.9 528 168.5 528.4 172 528.9 167.2 529.3 169.8 529.7 164.8 530 169.8 530.1 163.4 530.5 167.5 531 163.7 531.4 166.4 531.8 162 532.2 164.6 532.5 160.5 532.6 164.3 533.1 160.1 533.5 162.8 533.9 158.9 534.3 161.5 534.7 157.4 535 160.7 535.2 156.9 535.6 159.8 536 157.1 536.4 158.2 536.8 155.7 537.3 156.9 537.6 155 537.7 157.2 538.1 157.2 538.1 162.7 538.5 171.5 538.8 187.2 538.9 179.5 539.4 185.5 539.6 175.6 539.8 182.3 540.2 173.9 540.4 182.3 540.6 178 541 188.2 541.2 180 541.5 194.6 541.9 197.5 541.9 204.7 542.3 193.4 542.7 198.5 542.8 188.3 543.1 198.5 543.6 188.5 544 194.1 544.4 185.2 544.8 193.6 545.1 184.3 545.2 190.5 545.7 183.1 546.1 190.5 546.5 180 546.9 187.1 547.3 178.9 547.8 188.1 548.2 180.2 548.6 187.6 548.6 179.4 549 186.6 549.4 179.3 549.9 184.5 550.3 177.3 550.7 184.6 551.1 175.7 551.5 182.5 551.6 177.4 552 181.6 552.4 175.5 552.8 181.8 553.2 173.6 553.6 179 554.1 173.3 554.5 178.6 554.6 173.2 554.9 178 555.3 170.7 555.7 175.5 556.2 169.3 556.6 173.8 556.6 169.8 557 173.1 557.4 168.7 557.8 170.9 558.3 166.5 558.7 170.7 559.1 165.6 559.1 169.3 559.5 163.6 559.9 168.3 560.4 162.6 560.8 166.5 561.2 161.8 561.6 164.9 561.6 161.2 562 164 562.5 160.3 562.9 162.4 563.3 159.6 563.7 161.2 564.1 157.6 564.1 160.8 564.6 157.8 565 159.5 565.4 156.9 565.8 158.1 566.2 155.4 566.5 155 566.7 155.7 567 163.9 567.1 160.4 567.5 178.9 567.7 179.2 567.9 185.6 568.3 177.1 568.5 183.2 568.8 177.7 569.2 184.7 569.3 176.4 569.6 184.9 570 180.8 570.1 191 570.4 189 570.8 203.3 570.9 195.8 571.3 199.2 571.7 188.8 571.7 198.4 572.1 190.3 572.5 195.2 573 187.3 573.4 194 573.8 184.4 574 189.4 574.2 183 574.6 189.8 575.1 181.7 575.5 187.3 575.9 180.6 576.3 188.5 576.7 181.8 577.2 186.2 577.5 180.6 577.6 185.7 578 180.2 578.4 185.6 578.8 179.1 579.3 184 579.7 177.2 580.1 182.2 580.5 177.5 580.5 183 580.9 177.3 581.4 180.4 581.8 175.6 582.2 179.9 582.6 174.4 583 177.7 583.5 172.9 583.5 178.3 583.9 171.9 584.3 176.4 584.7 171.4 585.1 173.9 585.5 169.6 585.6 174.3 586 169 586.4 173.4 586.8 168.1 587.2 171.6 587.7 165.8 588 170.4 588.1 164.8 588.5 168.4 588.9 163.6 589.3 167.2 589.8 162.7 590.2 166.5 590.5 161.7 590.6 165.2 591 161.7 591.4 163.9 591.9 160.2 592.3 162.3 592.7 158.8 593 161.9 593.1 157.9 593.5 160.6 594 157.4 594.4 158.7 594.8 155.7 595.2 157.1 595.6 154.8 596.1 155.9 596.1 154.3 596.5 160.7 596.6 155.8 596.9 173 597.3 179.5 597.3 188.1 597.7 178.3 598.1 182.1 598.2 176.4 598.6 182.1 598.9 177 599 184.4 599.4 179.4 599.7 190.1 599.8 186.1 600.3 202.4 600.4 205.2 600.7 203.7 601.1 192.4 601.3 198.3 601.5 191.1 601.9 198.4 602.4 187.9 602.8 194.7 603.2 183.7 603.6 191.5 603.6 183.8 604 191.3 604.5 183.1 604.9 187.7 605.3 182.5 605.7 188.1 606.1 179.5 606.6 186.8 607 180.3 607.1 187.1 607.4 179.6 607.8 184.2 608.2 178.4 608.7 183.5 609.1 178.7 609.5 183.3 609.9 176.6 610.1 183.2 610.3 177.3 610.8 182.1 611.2 174.8 611.6 179.5 612 174.4 612.4 179.1 612.9 173.7 613.1 177 613.3 172 613.7 176.1 614.1 171.3 614.5 175.1 615 169.1 615.1 174.3 615.4 169.4 615.8 173.8 616.2 168.2 616.6 171.8 617.1 167 617.5 170.3 617.6 165.2 617.9 169.7 618.3 164.6 618.7 167.2 619.2 163.1 619.6 166.8 620 162.3 620.1 164.6 620.4 161.8 620.8 164.7 621.3 160.8 621.7 162.1 622.1 159.5 622.5 162 622.6 158.3 622.9 161 623.4 157.1 623.8 159.2 624.2 156.1 624.6 157.7 625 155.3 625.5 156.2 625.7 154.3 625.9 158.3 626.2 156.3 626.3 165.2 626.7 171.9 626.9 187 627.1 179.8 627.6 184.3 627.7 176.5 628 182.1 628.4 177.8 628.5 184.1 628.8 180.4 629.2 193 629.3 181.8 629.7 198.2 630 205.2 630.1 202.9 630.5 196.4 630.9 201.5 630.9 192.2 631.3 197.3 631.8 189.2 632.2 195.6 632.6 186.2 633 190.3 633.2 185.7 633.4 190.2 633.9 184.8 634.3 188.1 634.7 182.1 635.1 187.8 635.5 182.4 636 187.7 636.4 180.6 636.7 186.5 636.8 179.5 637.2 185.3 637.6 179.1 638.1 184.4 638.5 178.8 638.9 182.5 639.3 176.6 639.7 181.4 639.7 177.2 640.2 181.9 640.6 176.3 641 180 641.4 174 641.8 178.5 642.3 174.3 642.7 178.7 642.7 173.6 643.1 176.8 643.5 171.1 643.9 175.3 644.4 169.5 644.7 174.9 644.8 169.1 645.2 172.9 645.6 168.9 646 172.3 646.5 166.5 646.9 169.9 647.2 166.3 647.3 169.2 647.7 165.6 648.1 168 648.6 163.7 649 166.9 649.4 163.1 649.7 165 649.8 162.4 650.2 164.3 650.7 161 651.1 163.9 651.5 159.5 651.9 161.4 652.2 158.1 652.3 161.9 652.8 157.4 653.2 160.1 653.6 157 654 158.5 654.4 156.2 654.9 157.4 655.3 155 655.4 154.7 655.7 155 655.9 163.1 656.1 162.8 656.5 184.6 656.6 180.2 657 184.7 657.4 175.5 657.4 184 657.8 176 658.2 184.7 658.2 176.9 658.6 188 659 181.9 659.1 191.7 659.5 194 659.7 205.2 659.9 197 660.3 202.5 660.6 193.5 660.7 200.4 661.2 189.4 661.6 194.7 662 187.3 662.4 192.5 662.8 184.3 662.9 191.9 663.3 183.3 663.7 188.9 664.1 182.7 664.5 188.6 664.9 183 665.4 186.2 665.8 181 666.2 185.1 666.4 180.5 666.6 185.8 667 178.1 667.5 184.2 667.9 178.1 668.3 183.9 668.7 177.3 669.1 182.7 669.4 178.1 669.6 182.4 670 177 670.4 179.1 670.8 175.4 671.2 177.7 671.7 174.3 672 175.6" fill="none" stroke="#f00" stroke-width="1.4" stroke-linejoin="round"/>
<path d="M76.5 85.4L97.8 35.8" fill="none" stroke="#f00" stroke-width="1.9" stroke-linejoin="round"/>
<path d="M76.5 198.2L113.5 153.6" fill="none" stroke="#f00" stroke-width="1.9" stroke-linejoin="round"/>
<path d="M431 69.9L433.5 60.6L436 54.1L439 48.5L441.8 44.8" fill="none" stroke="#f00" stroke-width="1.9" stroke-linejoin="round"/>
<path d="M431 182.2L449.2 154.5" fill="none" stroke="#f00" stroke-width="1.9" stroke-linejoin="round"/>
<path d="M76.8 69H317.8" stroke="#00f" stroke-width="2" stroke-dasharray="5.6 1.7" fill="none"/><path d="M76.8 85.6H317.8" stroke="#000" stroke-width="1.2" stroke-dasharray="3.2 1.4" fill="none"/>
<path d="M76.8 177.6H317.8" stroke="#00f" stroke-width="2" stroke-dasharray="5.6 1.7" fill="none"/><path d="M76.8 198.4H317.8" stroke="#000" stroke-width="1.2" stroke-dasharray="3.2 1.4" fill="none"/>
<path d="M431.2 66.2H672" stroke="#00f" stroke-width="2" stroke-dasharray="5.6 1.7" fill="none"/><path d="M431.2 69.9H672" stroke="#000" stroke-width="1.2" stroke-dasharray="3.2 1.4" fill="none"/>
<path d="M431.2 176.6H672" stroke="#00f" stroke-width="2" stroke-dasharray="5.6 1.7" fill="none"/><path d="M431.2 182.3H672" stroke="#000" stroke-width="1.2" stroke-dasharray="3.2 1.4" fill="none"/>
<text x="1.2" y="14.6" font-size="20" text-anchor="start">(a)</text>
<text x="352" y="14.5" font-size="20" text-anchor="start">(b)</text>
<text x="4.6" y="299" font-size="20" text-anchor="start">(c)</text>
<text x="396.5" y="299" font-size="20" text-anchor="start">(d)</text>
<text x="55.2" y="32.4" font-size="14" text-anchor="end">16</text><text x="55.2" y="63.7" font-size="14" text-anchor="end">8</text><text x="55.2" y="93.5" font-size="14" text-anchor="end">0</text><text x="55.2" y="123.6" font-size="14" text-anchor="end">-8</text>
<text x="55.2" y="143.7" font-size="14" text-anchor="end">36</text><text x="55.2" y="173.7" font-size="14" text-anchor="end">18</text><text x="55.2" y="204.5" font-size="14" text-anchor="end">0</text><text x="55.2" y="233.7" font-size="14" text-anchor="end">-18</text>
<text x="411.4" y="30" font-size="14" text-anchor="end">10</text><text x="411.4" y="76.5" font-size="14" text-anchor="end">0</text><text x="411.4" y="122.4" font-size="14" text-anchor="end">-10</text>
<text x="411.4" y="142.7" font-size="14" text-anchor="end">20</text><text x="411.4" y="187.4" font-size="14" text-anchor="end">0</text><text x="411.4" y="233.4" font-size="14" text-anchor="end">-20</text>
<text x="76.2" y="245.2" font-size="14" text-anchor="middle">0.0</text>
<text x="135.1" y="245.2" font-size="14" text-anchor="middle">0.1</text>
<text x="194" y="245.2" font-size="14" text-anchor="middle">0.2</text>
<text x="252.9" y="245.2" font-size="14" text-anchor="middle">0.3</text>
<text x="311.8" y="245.2" font-size="14" text-anchor="middle">0.4</text>
<text x="430.5" y="244.6" font-size="14" text-anchor="middle">0.0</text>
<text x="489.2" y="244.6" font-size="14" text-anchor="middle">0.1</text>
<text x="548" y="244.6" font-size="14" text-anchor="middle">0.2</text>
<text x="606.8" y="244.6" font-size="14" text-anchor="middle">0.3</text>
<text x="665.6" y="244.6" font-size="14" text-anchor="middle">0.4</text>
<text x="199.3" y="259.6" font-size="14.3" text-anchor="middle">T(ns)</text>
<text x="542" y="260.5" font-size="14.3" text-anchor="middle">T(ns)</text>
<text transform="translate(30.9 129) rotate(-90)" font-size="14.5" text-anchor="middle">F(nN)</text>
<text transform="translate(384.3 126) rotate(-90)" font-size="14.5" text-anchor="middle">F(nN)</text>
<text x="328.4" y="37.4" font-size="17.65" text-anchor="end">14nm<tspan font-size="10.8" dy="-6">2</tspan><tspan dy="6">, Path II</tspan></text>
<text x="328.4" y="151.4" font-size="17.65" text-anchor="end">28nm<tspan font-size="10.8" dy="-6">2</tspan><tspan dy="6">, Path II</tspan></text>
<text x="682.1" y="38.6" font-size="17.55" text-anchor="end">14nm<tspan font-size="10.8" dy="-6">2</tspan><tspan dy="6">, Path I</tspan></text>
<text x="682.1" y="151.8" font-size="17.55" text-anchor="end">28nm<tspan font-size="10.8" dy="-6">2</tspan><tspan dy="6">, Path I</tspan></text>
<g clip-path="url(#clipc)"><use href="#cf" transform="translate(-53.50 304.70) scale(0.6200 0.6840)"/><use href="#cf" transform="translate(-53.50 373.10) scale(0.6200 0.6840)"/><use href="#cf" transform="translate(-53.50 441.50) scale(0.6200 0.6840)"/><use href="#cf" transform="translate(-53.50 509.90) scale(0.6200 0.6840)"/><use href="#cf" transform="translate(70.50 304.70) scale(0.6200 0.6840)"/><use href="#cf" transform="translate(70.50 373.10) scale(0.6200 0.6840)"/><use href="#cf" transform="translate(70.50 441.50) scale(0.6200 0.6840)"/><use href="#cf" transform="translate(70.50 509.90) scale(0.6200 0.6840)"/><use href="#cf" transform="translate(194.50 304.70) scale(0.6200 0.6840)"/><use href="#cf" transform="translate(194.50 373.10) scale(0.6200 0.6840)"/><use href="#cf" transform="translate(194.50 441.50) scale(0.6200 0.6840)"/><use href="#cf" transform="translate(194.50 509.90) scale(0.6200 0.6840)"/><use href="#cf" transform="translate(318.50 304.70) scale(0.6200 0.6840)"/><use href="#cf" transform="translate(318.50 373.10) scale(0.6200 0.6840)"/><use href="#cf" transform="translate(318.50 441.50) scale(0.6200 0.6840)"/><use href="#cf" transform="translate(318.50 509.90) scale(0.6200 0.6840)"/><use href="#cl" transform="translate(-53.50 304.70) scale(0.6200 0.6840)"/><use href="#cl" transform="translate(-53.50 373.10) scale(0.6200 0.6840)"/><use href="#cl" transform="translate(-53.50 441.50) scale(0.6200 0.6840)"/><use href="#cl" transform="translate(-53.50 509.90) scale(0.6200 0.6840)"/><use href="#cl" transform="translate(70.50 304.70) scale(0.6200 0.6840)"/><use href="#cl" transform="translate(70.50 373.10) scale(0.6200 0.6840)"/><use href="#cl" transform="translate(70.50 441.50) scale(0.6200 0.6840)"/><use href="#cl" transform="translate(70.50 509.90) scale(0.6200 0.6840)"/><use href="#cl" transform="translate(194.50 304.70) scale(0.6200 0.6840)"/><use href="#cl" transform="translate(194.50 373.10) scale(0.6200 0.6840)"/><use href="#cl" transform="translate(194.50 441.50) scale(0.6200 0.6840)"/><use href="#cl" transform="translate(194.50 509.90) scale(0.6200 0.6840)"/><use href="#cl" transform="translate(318.50 304.70) scale(0.6200 0.6840)"/><use href="#cl" transform="translate(318.50 373.10) scale(0.6200 0.6840)"/><use href="#cl" transform="translate(318.50 441.50) scale(0.6200 0.6840)"/><use href="#cl" transform="translate(318.50 509.90) scale(0.6200 0.6840)"/></g>
<g clip-path="url(#clipd)"><use href="#cf" transform="translate(349.95 236.40) scale(0.7050 0.6820)"/><use href="#cf" transform="translate(349.95 304.60) scale(0.7050 0.6820)"/><use href="#cf" transform="translate(349.95 372.80) scale(0.7050 0.6820)"/><use href="#cf" transform="translate(349.95 441.00) scale(0.7050 0.6820)"/><use href="#cf" transform="translate(349.95 509.20) scale(0.7050 0.6820)"/><use href="#cf" transform="translate(490.95 236.40) scale(0.7050 0.6820)"/><use href="#cf" transform="translate(490.95 304.60) scale(0.7050 0.6820)"/><use href="#cf" transform="translate(490.95 372.80) scale(0.7050 0.6820)"/><use href="#cf" transform="translate(490.95 441.00) scale(0.7050 0.6820)"/><use href="#cf" transform="translate(490.95 509.20) scale(0.7050 0.6820)"/><use href="#cl" transform="translate(349.95 236.40) scale(0.7050 0.6820)"/><use href="#cl" transform="translate(349.95 304.60) scale(0.7050 0.6820)"/><use href="#cl" transform="translate(349.95 372.80) scale(0.7050 0.6820)"/><use href="#cl" transform="translate(349.95 441.00) scale(0.7050 0.6820)"/><use href="#cl" transform="translate(349.95 509.20) scale(0.7050 0.6820)"/><use href="#cl" transform="translate(490.95 236.40) scale(0.7050 0.6820)"/><use href="#cl" transform="translate(490.95 304.60) scale(0.7050 0.6820)"/><use href="#cl" transform="translate(490.95 372.80) scale(0.7050 0.6820)"/><use href="#cl" transform="translate(490.95 441.00) scale(0.7050 0.6820)"/><use href="#cl" transform="translate(490.95 509.20) scale(0.7050 0.6820)"/></g>
<g clip-path="url(#clipc)" stroke="#e8088c" fill="none" stroke-linejoin="round" stroke-linecap="round"><path d="M30.2 372.4L30.9 372.4 31.7 372.4 32.4 372.4 33.1 372.4 33.8 372.4 34.6 372.4 35.3 372.4 36 372.4 36.7 372.4 37.5 372.5 38.2 372.5 38.9 372.6 39.6 372.6 40.3 372.5 40.9 372.4 41.5 372.2 42 371.9 42.4 371.5 42.8 371.1 43.2 370.6 43.5 370 43.8 369.4 44.1 368.7 44.5 368 44.9 367.2 45.2 366.3 45.6 365.3 45.9 364.3 46.3 363.2 46.7 362.1 47.1 361.1 47.5 360 47.9 358.9 48.4 357.9 48.8 356.8 49.3 355.7 49.8 354.6 50.3 353.5 50.8 352.4 51.4 351.3 52 350.2 52.6 349.1 53.2 348 53.8 346.8 54.4 345.7 55.1 344.6 55.8 343.5 56.5 342.5 57.2 341.5 58 340.4 58.9 339.4 59.7 338.4 60.5 337.4 61.4 336.5 62.2 335.6 63 334.8 63.8 334 64.5 333.3 65.3 332.7 66.1 332.1 66.8 331.5 67.5 331 68.3 330.5 69 330 69.7 329.5 70.4 329.1 71.1 328.8 71.7 328.4 72.4 328.1 73.1 327.8 73.8 327.5 74.5 327.3 75.3 327.1 76 326.9 76.8 326.8 77.7 326.6 78.5 326.5 79.3 326.5 80.2 326.5 81 326.5 81.9 326.6 82.7 326.7 83.6 326.9 84.5 327.1 85.4 327.3 86.2 327.6 87.1 327.8 88 328" stroke-width="2"/><path d="M103.8 339.8L104.1 340.2 104.4 340.5 104.8 340.8 105.1 341.1 105.4 341.5 105.7 341.8 106 342.3 106.3 342.8 106.5 343.4 106.7 344 106.9 344.7 107 345.5 107.2 346.3 107.3 347.1 107.5 347.9 107.8 348.8 108.1 349.7 108.4 350.6 108.6 351.5 109 352.5 109.3 353.5 109.7 354.5 110.2 355.6 110.8 356.8 111.5 358 112.2 359.4 113.1 360.8 114 362.3 114.9 363.7 115.9 365.2 116.8 366.5 117.8 367.8 118.7 369 119.7 370.2 120.7 371.3 121.7 372.4 122.7 373.4 123.7 374.4 124.8 375.4 125.8 376.3 126.9 377.3 128.1 378.3 129.4 379.3 130.7 380.3 131.9 381.1 132.9 381.8 133.8 382.3 134.3 382.4 134.5 382.2 134.4 381.7 134 381 133.5 380.1 132.9 379.1 132.4 378.1 132 377 131.8 376 131.8 375 131.8 373.9 131.9 372.7 132.1 371.6 132.3 370.4 132.6 369.2 132.9 368.1 133.3 367 133.8 366 134.3 364.9 134.9 363.9 135.6 362.9 136.3 361.9 137.1 361 137.9 360.2 138.8 359.5 139.8 358.9 140.8 358.3 142 357.8 143.1 357.4 144.3 357.1 145.5 356.8 146.7 356.6 147.8 356.5 148.9 356.4 149.9 356.5 151 356.6 152.1 356.8 153.1 357 154 357.3 155 357.6 155.8 358 156.6 358.4 157.4 359 158.2 359.5 158.9 360.2 159.6 360.8 160.1 361.5 160.5 362.3 160.8 363 160.9 363.8 160.8 364.6 160.6 365.5 160.2 366.4 159.9 367.3 159.5 368.2 159.1 369.1 158.8 370" stroke-width="2"/><path d="M134.3 382.5L135.1 382.6 135.9 382.8 136.7 383 137.5 383.2 138.3 383.4 139.1 383.5 139.9 383.5 140.8 383.5 141.7 383.4 142.7 383.2 143.8 382.9 144.8 382.6 145.9 382.3 146.9 381.9 147.9 381.5 148.8 381 149.6 380.5 150.4 379.9 151.2 379.3 151.9 378.7 152.6 378 153.3 377.3 154.1 376.6 154.8 376" stroke-width="2"/><path d="M165.8 374L166.1 374.4 166.4 374.7 166.8 375 167.1 375.3 167.4 375.7 167.7 376 168 376.5 168.3 377 168.5 377.6 168.7 378.2 168.9 378.9 169 379.7 169.2 380.5 169.3 381.3 169.5 382.1 169.8 383 170.1 383.9 170.4 384.8 170.6 385.7 171 386.7 171.3 387.7 171.7 388.7 172.2 389.8 172.8 391 173.5 392.2 174.2 393.6 175.1 395 176 396.5 176.9 397.9 177.9 399.4 178.8 400.7 179.8 402 180.7 403.2 181.7 404.4 182.7 405.5 183.7 406.6 184.7 407.6 185.7 408.6 186.8 409.6 187.8 410.5 188.9 411.5 190.1 412.5 191.4 413.5 192.7 414.5 193.9 415.3 194.9 416 195.8 416.5 196.3 416.6 196.5 416.4 196.4 415.9 196 415.2 195.5 414.3 194.9 413.3 194.4 412.3 194 411.2 193.8 410.2 193.8 409.2 193.8 408.1 193.9 406.9 194.1 405.8 194.3 404.6 194.6 403.4 194.9 402.3 195.3 401.2 195.8 400.2 196.3 399.1 196.9 398.1 197.6 397.1 198.3 396.1 199.1 395.2 199.9 394.4 200.8 393.7 201.8 393.1 202.8 392.5 204 392 205.1 391.6 206.3 391.3 207.5 391 208.7 390.8 209.8 390.7 210.9 390.6 211.9 390.7 213 390.8 214.1 391 215.1 391.2 216 391.5 217 391.8 217.8 392.2 218.6 392.6 219.4 393.2 220.2 393.7 220.9 394.4 221.6 395 222.1 395.7 222.5 396.5 222.8 397.2 222.9 398 222.8 398.8 222.6 399.7 222.2 400.6 221.9 401.5 221.5 402.4 221.1 403.3 220.8 404.2" stroke-width="2"/><path d="M196.3 416.7L197.1 416.8 197.9 417 198.7 417.2 199.5 417.4 200.3 417.6 201.1 417.7 201.9 417.7 202.8 417.7 203.7 417.6 204.7 417.4 205.8 417.1 206.8 416.8 207.9 416.5 208.9 416.1 209.9 415.7 210.8 415.2 211.6 414.7 212.4 414.1 213.2 413.5 213.9 412.9 214.6 412.2 215.3 411.5 216.1 410.8 216.8 410.2" stroke-width="2"/><path d="M227.8 408.2L228.1 408.6 228.4 408.9 228.8 409.2 229.1 409.5 229.4 409.9 229.7 410.2 230 410.7 230.3 411.2 230.5 411.8 230.7 412.4 230.9 413.1 231 413.9 231.2 414.7 231.3 415.5 231.5 416.3 231.8 417.2 232.1 418.1 232.4 419 232.6 419.9 233 420.9 233.3 421.9 233.7 422.9 234.2 424 234.8 425.2 235.5 426.4 236.2 427.8 237.1 429.2 238 430.7 238.9 432.1 239.9 433.6 240.8 434.9 241.8 436.2 242.7 437.4 243.7 438.6 244.7 439.7 245.7 440.8 246.7 441.8 247.7 442.8 248.8 443.8 249.8 444.7 250.9 445.7 252.1 446.7 253.4 447.7 254.7 448.7 255.8 449.6 256.9 450.2 257.7 450.7 258.3 450.8 258.5 450.6 258.5 450 258.2 449.2 257.7 448.3 257.3 447.2 256.9 446 256.6 444.9 256.5 443.9 256.6 442.9 256.8 441.8 257.2 440.7 257.5 439.5 258 438.4 258.4 437.3 259 436.3 259.5 435.4 260.1 434.6 260.7 433.9 261.4 433.2 262.1 432.6 262.8 432 263.6 431.5 264.4 431 265.3 430.6 266.3 430.2 267.3 429.8 268.4 429.5 269.5 429.2 270.7 428.9 271.8 428.8 272.8 428.6 273.8 428.6 274.7 428.6 275.5 428.8 276.4 428.9 277.1 429.2 277.9 429.5 278.6 429.8 279.2 430.1 279.8 430.4 280.3 430.7 280.8 431.1 281.1 431.4 281.5 431.8 281.8 432.2 282.1 432.6 282.4 433 282.8 433.4" stroke-width="2"/><path d="M290.3 437.4L290.6 438 290.8 438.6 291.1 439.1 291.3 439.7 291.6 440.2 291.8 440.9 292.1 441.6 292.3 442.4 292.5 443.3 292.7 444.4 292.8 445.5 293 446.7 293.1 447.9 293.3 449.1 293.5 450.3 293.8 451.4 294.1 452.4 294.4 453.4 294.6 454.3 295 455.3 295.3 456.2 295.7 457.2 296.2 458.3 296.8 459.4 297.5 460.6 298.2 462 299.1 463.4 300 464.9 300.9 466.3 301.9 467.8 302.8 469.1 303.8 470.4 304.7 471.6 305.7 472.8 306.7 473.9 307.7 475 308.7 476 309.7 477 310.8 478 311.8 478.9 312.9 479.9 314.1 480.9 315.4 481.9 316.7 482.9 317.8 483.8 318.9 484.4 319.7 484.9 320.3 485 320.5 484.8 320.5 484.2 320.2 483.4 319.7 482.5 319.3 481.4 318.9 480.2 318.6 479.1 318.5 478.1 318.6 477.1 318.8 476 319.2 474.9 319.5 473.7 320 472.6 320.4 471.5 321 470.5 321.5 469.6 322.1 468.8 322.7 468.1 323.4 467.4 324.1 466.8 324.8 466.2 325.6 465.7 326.4 465.2 327.3 464.8 328.3 464.4 329.3 464 330.4 463.7 331.5 463.4 332.7 463.1 333.8 463 334.8 462.8 335.8 462.8 336.7 462.8 337.5 463 338.4 463.1 339.1 463.4 339.9 463.7 340.6 464 341.2 464.3 341.8 464.6 342.3 464.9 342.8 465.3 343.1 465.6 343.5 466 343.8 466.4 344.1 466.8 344.4 467.2 344.8 467.6" stroke-width="2"/><path d="M351.8 471.6L352.2 471.7 352.6 471.7 352.9 471.8 353.3 471.9 353.7 472 354.1 472 354.4 472.1 354.8 472.1 355.2 472.1 355.6 472 355.9 472 356.3 471.9 356.7 471.8 357.1 471.7 357.4 471.7 357.8 471.6" stroke-width="2"/><path d="M95.7 336.8L95.2 337.3 94.5 337.8 93.5 338 92.5 337.6 91.6 337.7 89.9 338.6 87.3 339.1 84.9 338.4 84.4 336.7 85.9 335.3 88 335 89.4 335.2 90.4 335 91.8 334.3 94 333.5 96.5 333.4 98.7 334 100.2 335.3 100.8 337.1 100 339.3 98 341.2 95.8 342.7 93.6 343.9 91.3 344.6 88.9 344.6 87.1 343.2 86.5 341.1 86.5 339.1 86.4 337.3 86.3 335.6 86.7 333.9 88 332.6 89.9 332.5 91.3 333.3 92 334.3 92.1 335.2 92.6 335.7 93.6 336.3 94.4 337.5 94.6 338.9 94.3 340.4 93.6 341.6 92.7 343.2 91.1 344.9 88.7 345.8 86.1 345.4 84.5 343.6 84.3 341.5 84.9 339.5 85.6 337.7 86.8 336.1 88.3 334.9 90.1 334.5 91.7 335.1 92.7 335.6 93.8 335.9 94.8 336.3 95.5 337.1 95.7 338.1 95.3 339.1 94.5 339.8 93.8 340.2 93.2 340.8 92.4 341.4 91.2 341.4 90.2 340.6 89.8 339.3 89.7 337.8 89.2 336.1 88.8 334.2 89.4 332.5 90.8 331.6 92.2 331 93.8 330.8 95.2 331.2 96.1 332.3 96.7 333.5 97.4 334.6 98.5 336 99.2 338 98.4 340.1 96.2 340.9 94 340.5 92.7 339.6 91.9 339 91.2 338.5 90.5 337.9 90.1 337.1 89.9 336.1 90 335.2 90.8 334.3 92.2 334.1 93.6 334.4 94.7 334.4 96.3 333.9 98.4 333.8 100 334.9 100 336.8 99 338.4 97.8 339.7 96.6 340.9 95.1 341.9 93.6 342.5 91.9 342.9 89.8 343.1 87 343.1 83.9 342 81.9 339.4 82.6 336.3 85.6 333.9 88.7 333 90.9 332.9 92 332.9 93 332.5 94.1 332.4 94.9 333.2 94.9 334.6 94.1 336.1 93 337.2 92.8 338.4 93.1 340.2 92.4 342.3 90.5 343.5 88.4 343.6 86.5 342.9 84.9 342 83.7 340.7 83.7 338.9 85.4 337.3 87.7 336.6 89.2 336.2 90.5 335.3 92.2 334.2 94.2 333.8 95.8 334.5 96.5 335.7 96.3 337 96.3 338.1 96.6 339.7 96.2 341.8 94.6 343.7 92.2 344.1 90.5 342.8 90 341.5 89.6 341 88.5 340.7 87.4 339.7 87 338 87.9 336.1 89.4 335 90.7 334.7 91.4 334.7 91.8 334.7 92.3 334.7 92.9 334.8 93.6 335.1 94.5 335.5 95.5 336.3 96.2 337.5 96.4 339.2 96 341 94.7 342.6 92.7 343.4 90.8 343 89.5 341.7 88.8 340.3 87.7 339.1 86.3 337.5 85.7 335.2 86.3 332.7 88 330.6 90.7 329.8 93.3 330.2 95.4 331.3 97 332.6 98.6 333.8 100.2 335.2 101 337.3 100.2 339.4" stroke-width="2.3"/><path d="M98.5 341.6L97.4 343.6 95.6 345.4 93.2 346.8 91.3 347.8 88.5 348.7 85.6 349.6 83.7 349.4 81.3 349 78.6 349.1 76.7 347.2 73.8 346.2 73.3 344.9 71.9 343.4 71 341.5 71.1 339.5 71.2 337.3 71.9 335.3 73.1 334.1 74.1 331.2 76 330.2 78.5 329.1 80.4 327.6 83.4 326.9 85.9 326.7 88.4 327 90.8 327.4 92.7 328 95 329 97 330.2" stroke-width="1.7"/><path d="M98.3 341.1L97.3 343.1 95.7 344.6 94.2 345.4 91.9 346.5 90.3 346.8 88.2 348 85.8 347.9 84.2 347.9 81.3 347.1 79.6 346.2 77.5 345.4 76.6 344 75.7 342.8 75.1 340.7 75 339.6 75 337.9 75.7 335.7 76.9 334 78.1 332.6 79.5 331.1 81 330.5 83.3 329.4 85.3 328.9 87.3 328.2 89.8 328.3 91.7 328.8 93.9 329.4 96.1 330.6 97.5 331.4" stroke-width="1.7"/><path d="M83 338.5L83.3 336.9 83.6 335.3 83.9 333.7 84.3 332.2 85 331 85.9 330 87.1 329.3 88.4 328.7 89.7 328.3 91 328 92.3 327.9 93.7 328 95.1 328.3 96.4 328.7 97.5 329.2 98.4 329.9 99.2 330.7 99.9 331.7 100.4 332.6 101 333.5 101.5 334.3 101.9 335.2 102.3 336 102.6 336.8 103 337.5 103.5 338.2 104.1 338.8 104.6 339.4 105 340 105 340.5 104.6 341 103.8 341.4 102.9 341.7 101.9 342.1 101 342.5 100.2 342.9 99.5 343.3 98.8 343.7 98 344.1 97 344.5 95.8 344.9 94.3 345.4 92.8 345.9 91.4 346.2 90 346.3 88.7 346.2 87.5 345.8 86.3 345.3 85.3 344.7 84.5 344 83.9 343.1 83.6 342 83.4 340.9 83.2 339.7 83 338.5z" stroke-width="0.8" fill="#e8088c"/><path d="M155.7 367.4L157.2 368.1 158.9 368.5 161 368.9 162.7 370 163 371.8 161.4 373.6 158.6 374.7 155.8 375.4 153.2 376 150.6 376.7 147.8 377.1 145.1 376.9 143 375.6 142.5 373.3 143.7 370.8 145.9 368.7 148.4 367 151.2 365.7 153.9 365.2 156.1 365.6 157.4 366.5 158.2 367.3 159 368.3 159.4 369.7 159 371.3 157.9 372.7 156.8 374.1 155.5 375.6 153.6 376.7 151.5 376.9 149.5 376.3 147.9 375.1 146.7 373.7 146.5 372 147.4 370.6 149.1 369.6 150.7 368.8 152.2 367.7 154 366.5 156.2 365.8 158 366.2 158.8 367.5 158.9 369.1 158.5 370.8 157.9 372.6 156.9 374.2 155.8 375.4 154.6 376.2 153.4 376.6 152.1 376.3 150.9 375.1 150.4 373.1 150.4 371 150.3 369.2 150.2 367.5 150.8 366 152.2 365 154 364.9 155.7 365.7 157.1 366.8 158.3 368.2 159.1 369.7 159.5 371.3 159.4 372.9 158.7 374.1 157.7 375 156.7 375.7 155.3 376.4 153.6 377.1 151.7 377.2 150.2 376.3 149.5 374.8 149.5 373.1 149.7 371.4 149.9 369.7 150.2 367.8 151 366.3 152 365.5 153.2 365.2 154.5 365.5 155.7 366.2 157.2 367.2 158.3 368.7 158.6 370.6 157.9 372.4 156.6 373.6 155.2 374.5 154 375.2 152.8 376 151.5 376.6 149.9 376.7 148.4 375.9 147.5 374 147.8 371.5 149.4 369.2 151.7 367.7 154 367.2 155.7 367.1 157.2 366.9 159.1 366.8 161.2 367.2 162.9 368.5 163.3 370.4 162.4 372.1 160.6 373.2 158.7 373.7 156.9 373.9 155.2 374.5 153 375.2 150.6 375.1 148.8 374.1 148.1 372.6 148.3 371.2 148.5 370.2 148.7 368.9 149.6 367.4 151.4 366 154 365.5 156.6 366.1 158.6 367 160.4 367.9 161.9 369 162.8 370.5 162.8 372.1 161.9 373.6 160.5 374.8 158.6 375.8 156.3 376.4 153.9 376.4 151.8 375.8 150.4 374.3 150.2 372.4 151 370.9 151.7 370 151.6 369.2 151.4 367.9 152.1 366.4 154 365.4 156.4 365.2 158.6 365.9 160.3 367.1 161.5 368.5 162.1 370.3 162 372.5 161 374.8 159.3 376.8 157 378.1 154.7 378.4 152.9 377.7 151.8 376.4 151.1 375 150.4 373.7 149.7 372.2 149.2 370.7 148.9 369.2 149 367.5 149.8 365.7 151.6 364.2 154.2 363.6 157 364.1 159.2 365.8 160.3 368 160.4 370.2 159.6 372.2 158.3 373.6 156.7 374.5 155.1 374.6 153.6 374 152.4 373.6 150.9 373.5 149.3 373.2 148.2 372.4 148.3 371.3 149.5 370.6 150.9 370.4 151.9 370.3 152.7 369.6 154 368.6 155.8 367.8" stroke-width="2.3"/><path d="M160.7 376.4L158.9 378 157.6 379.7 155.6 381.2 153.2 382.1 150.7 382.9 148.3 383.1 145.6 384 143.2 383.4 140.8 382.6 138.3 381.8 136.6 380.9 134.8 379.5 133.5 377.3 133.2 375.9 132.8 373.1 133.2 371.6 133.5 369.4 134.7 367.7 136.5 365.6 138.7 364.4 140.1 363.2 142.6 362.6 145.3 361.2 147.5 360.9 150.1 361.2 152.5 361.8 154.9 362.1 157.2 362.7 158.5 364.7" stroke-width="1.7"/><path d="M160.5 375.5L159.5 376.9 157.9 378.2 155.7 380 154 380.5 152.5 381.7 149.8 381.7 147.7 381.7 145.7 381.8 143.6 381.5 141.9 381 140.4 379 139 377.9 137.4 376.9 137 375.1 137.2 373.3 136.9 371.8 137.9 370.2 138.2 368.3 139.8 367.4 141.6 365.8 143.5 364.4 145.4 363.7 147.2 363 149.8 362.4 152 362.9 154.2 362.8 155.9 364 157.9 364.3 159.2 366" stroke-width="1.7"/><path d="M145 372.7L145.3 371.1 145.6 369.5 145.9 367.9 146.3 366.4 147 365.2 147.9 364.2 149.1 363.5 150.4 362.9 151.7 362.5 153 362.2 154.3 362.1 155.7 362.2 157.1 362.5 158.4 362.9 159.5 363.4 160.4 364.1 161.2 364.9 161.9 365.9 162.4 366.8 163 367.7 163.5 368.5 163.9 369.4 164.3 370.2 164.6 371 165 371.7 165.5 372.4 166.1 373 166.6 373.6 167 374.2 167 374.7 166.6 375.2 165.8 375.6 164.9 375.9 163.9 376.3 163 376.7 162.2 377.1 161.5 377.5 160.8 377.9 160 378.3 159 378.7 157.8 379.1 156.3 379.6 154.8 380.1 153.4 380.4 152 380.5 150.7 380.4 149.5 380 148.3 379.5 147.3 378.9 146.5 378.2 145.9 377.3 145.6 376.2 145.4 375.1 145.2 373.9 145 372.7z" stroke-width="0.8" fill="#e8088c"/><path d="M221.9 397L224.1 398.9 224.4 401.9 223.2 404.7 222.1 407 221.4 409.1 220.1 411.1 218.3 412.2 216.5 412.5 215 412.4 213.3 412.4 211.4 411.8 210.2 410.3 210 408.1 210.4 405.6 211.5 403 213.5 400.9 216.1 399.6 218.6 399.4 220.5 400.1 222 401 223.3 402 224.5 403.2 225.1 404.9 224.4 406.8 222.5 408.3 219.9 408.8 217.6 408.7 215.7 408.6 213.8 408.3 212 407.5 211.1 406.1 211.4 404.6 212 403.4 212.2 402.4 212.5 401.1 213.4 399.8 214.9 398.9 216.6 398.6 218.5 398.6 220.3 399.4 221.8 401 222.5 403.1 222.5 405.4 222.4 407.3 221.9 408.9 220.7 410 219.1 410.5 217.1 410.7 215.1 410.4 213.1 409.7 211.7 408.6 211.1 407.2 210.8 405.9 210.6 404.4 210.9 402.3 212.4 400 215.2 398.5 218.1 398.5 220.4 399.5 221.8 400.7 223.1 401.8 224.5 403 225.6 404.7 225.8 406.8 225 409.3 222.8 411.5 219.5 413 215.7 413.5 212.2 412.4 209.8 410.5 208.7 408.2 208.7 405.9 209.5 403.9 210.7 402.4 211.9 401.3 213.1 400.4 214.5 399.9 216.1 400.3 217.5 401.3 218.5 402.8 218.7 404.6 218.3 406.2 218 407.2 218 408.1 218 409.3 217.3 410.8 215.5 412.2 213.1 412.3 211.1 411.1 209.9 409.3 209.1 407.6 208.4 405.9 208.1 404 208.9 401.9 210.8 400.2 213 399 215.1 398.3 217.1 398.1 218.7 399 219.5 400.6 220.1 402.3 221.1 404 222.1 406.4 221.9 409.2 220.1 411.6 217.6 412.8 214.9 412.9 212.4 412.1 210.1 411 207.9 409.7 206.1 408 205.5 405.7 206.6 403.3 209.2 401.6 212.1 400.9 214.6 400.9 216.6 401 218.3 401.4 219.4 402.1 220.6 402.2 222.3 402.2 224.5 402.7 226.1 404.3 226 406.4 224.5 408.3 222.2 409.8 219.5 410.7 216.9 410.4 215.1 409.2 214.4 407.6 214.1 406.5 213.6 405.7 213.2 404.7 213.2 403.6 213.5 402.3 214.5 400.8 216.4 399.6 218.8 399.5 220.5 400.7 221 402.5 221.2 403.7 222 404.8 223 406.5 222.7 408.6 220.9 410.3 218.4 410.9 216 410.3 214.2 409 213.3 407.3 213 406 212.5 405.3 210.9 405 209.2 403.9 209.2 402.5 210.9 401.5 213.4 401.1 216.3 400.9 219.3 400.6 222.5 400.4 225.6 400.9 227.7 402.3 228.6 404.4 227.8 406.5 225.9 408.2 223.3 409.7 220.4 411.3 216.8 412.9 213 413.5 209.6 412.6 207.6 410.6 207.1 408.2 207.6 405.9 208.4 403.7 209.7 401.4 211.9 399.6 214.6 398.5 217.2 398.3 219.6 398.7 221.6 399.7" stroke-width="2.3"/><path d="M222 410.2L221.3 412.6 219.5 413.6 217.1 415 214.8 416.3 212.9 417.3 209.9 417.5 207.2 418.1 204.5 417.7 202.3 416.8 200.1 416.4 198.6 415.6 196.8 413.1 196 411.8 195.1 409.3 195.3 408 195.2 405.6 195.9 403.7 196.8 401.8 198.6 400 200 398.8 202.3 397.2 204.5 396.4 206.9 395.6 210.1 395.3 212 394.9 214.6 395.3 216.5 396.1 218.7 397.6 220.3 399.1" stroke-width="1.7"/><path d="M222.3 409.7L221.5 411.3 220.1 412.4 217.6 413.8 215.8 414.7 214.3 415.5 211.8 415.7 209.6 416.1 207.1 416 205.2 415.5 203.5 414.9 202.2 413.6 200.7 412.5 200.1 411.2 199.2 409.4 199.3 407.2 199.2 405.7 200 404.1 200.5 402.3 201.8 401.3 203.8 399.5 205.1 399.6 207.5 397.8 209.5 396.5 212 396.9 213.4 397.2 215.8 397 218 397.9 219.5 398.7 220.8 399.5" stroke-width="1.7"/><path d="M207 406.9L207.3 405.3 207.6 403.7 207.9 402.1 208.3 400.6 209 399.4 209.9 398.4 211.1 397.7 212.4 397.1 213.7 396.7 215 396.4 216.3 396.3 217.7 396.4 219.1 396.7 220.4 397.1 221.5 397.6 222.4 398.3 223.2 399.1 223.9 400.1 224.4 401 225 401.9 225.5 402.7 225.9 403.6 226.3 404.4 226.6 405.2 227 405.9 227.5 406.6 228.1 407.2 228.6 407.8 229 408.4 229 408.9 228.6 409.4 227.8 409.8 226.9 410.1 225.9 410.5 225 410.9 224.2 411.3 223.5 411.7 222.8 412.1 222 412.5 221 412.9 219.8 413.3 218.3 413.8 216.8 414.3 215.4 414.6 214 414.7 212.7 414.6 211.5 414.2 210.3 413.7 209.3 413.1 208.5 412.4 207.9 411.5 207.6 410.4 207.4 409.3 207.2 408.1 207 406.9z" stroke-width="0.8" fill="#e8088c"/><path d="M258.3 450.7L259.4 449.1 260.4 447.5 261.5 446 262.6 444.4 263.8 442.9 265.1 441.4 266.5 439.9 267.9 438.4 269.4 437.1 270.8 435.9 272.3 435 273.8 434.2 275.3 433.6 276.6 433 277.8 432.4 278.7 431.7 279.5 431.1 280.2 430.5 280.8 430 281.3 429.9 281.8 430.2 282.1 430.8 282.4 431.5 282.8 432.3 283.3 432.9 284.1 433.3 285 433.6 286 433.9 286.9 434.1 287.8 434.4 288.6 434.7 289.5 434.9 290.3 435.1 290.9 435.4 291.3 435.9 291.4 436.6 291.2 437.4 290.8 438.3 290.3 439.1 289.8 439.9 289.2 440.6 288.4 441.1 287.6 441.7 286.7 442.3 285.8 442.9 284.9 443.6 284 444.3 283 445 281.9 445.7 280.8 446.4 279.5 447 278.2 447.6 276.8 448.2 275.3 448.7 273.8 449.2 272.3 449.7 270.6 450.2 269 450.6 267.4 451 265.8 451.2 264.3 451.3 262.8 451.2 261.3 451 259.8 450.8 258.3 450.7z" stroke-width="1" fill="#e8088c"/><path d="M282.5 440.2L281.8 441.6 280.3 442.4 278.9 442.6 277.6 442.7 276.3 442.8 275 442.6 274.1 441.8 274 440.8 274.3 439.8 274.8 439 275.8 438.3 277.1 438 278.4 438.2 279.4 438.7 280.1 439.3 280.7 439.8 281 440.4 280.9 441.2 280.4 441.9 279.3 442.4 277.9 442.7 276.4 443 274.7 443.2 273.2 443.2 271.9 442.8 271.4 441.9 272.1 440.8 273.5 439.7 275.5 438.8 277.5 438.1 279.6 437.7 281.1 438 281.8 438.7 281.7 439.4 281.5 439.9 281.3 440.4 280.9 441.3 279.8 442.5 278 443.5 275.9 444 274.1 444 272.9 443.4 272.3 442.5 272.4 441.3 273.3 440 274.7 439 276.1 438.5 277.2 438.1 278.1 437.7 279.2 437.3 280.4 437.3 281.8 437.9 282.7 439.2 282.7 441 281.5 442.7 279.4 443.8 277.3 444.1 275.6 443.9 274.1 443.4 273.2 442.3 273.1 440.9 273.8 439.5 274.9 438.3 276.2 437.3 277.6 436.3 279.4 435.5 281.3 435.1 283.1 435.6 284 436.8 283.9 438.4 283.1 439.8" stroke-width="1.6"/><path d="M320.3 484.9L321.4 483.3 322.4 481.7 323.5 480.2 324.6 478.6 325.8 477.1 327.1 475.6 328.5 474.1 329.9 472.6 331.4 471.3 332.8 470.1 334.3 469.2 335.8 468.4 337.3 467.8 338.6 467.2 339.8 466.6 340.7 465.9 341.5 465.3 342.2 464.7 342.8 464.2 343.3 464.1 343.8 464.4 344.1 465 344.4 465.7 344.8 466.5 345.3 467.1 346.1 467.5 347 467.8 348 468.1 348.9 468.3 349.8 468.6 350.6 468.9 351.5 469.1 352.3 469.3 352.9 469.6 353.3 470.1 353.4 470.8 353.2 471.6 352.8 472.5 352.3 473.3 351.8 474.1 351.2 474.8 350.4 475.3 349.6 475.9 348.7 476.5 347.8 477.1 346.9 477.8 346 478.5 345 479.2 343.9 479.9 342.8 480.6 341.5 481.2 340.2 481.8 338.8 482.4 337.3 482.9 335.8 483.4 334.3 483.9 332.6 484.4 331 484.8 329.4 485.2 327.8 485.4 326.3 485.5 324.8 485.4 323.3 485.2 321.8 485 320.3 484.9z" stroke-width="1" fill="#e8088c"/><path d="M344.2 476.1L343.1 477.2 341.8 477.8 340.3 477.8 338.9 477.4 337.6 476.7 336.2 475.8 335.1 474.7 334.7 473.3 335.4 472 337 471.7 338.5 472.2 339.4 472.8 340.4 472.9 341.8 473 343.1 473.4 344.2 474.2 344.7 475.5 344.5 477 343.3 478.7 341.2 479.8 338.9 479.9 336.8 479.3 335.2 478.3 334.1 476.9 333.8 475.2 334.4 473.6 335.5 472.3 336.6 471.2 338 470.2 339.9 469.8 341.6 470.2 342.6 471.4 342.6 472.8 342.6 473.9 342.7 475 342.7 476.5 342 478.3 340.4 479.8 338.2 480.3 336.2 479.6 334.7 478.2 333.8 476.3 333.8 474.2 334.6 472.3 336 470.7 337.7 469.6 339.6 469.1 341.4 469.4 342.8 470.3 343.6 471.6 344.1 473 344.2 474.4 343.6 475.9 342.3 477.1 340.8 477.9 339.3 478.4 337.6 478.5 336.1 478 335.3 476.7 335.5 475.4 336.1 474.4 336.6 473.8 336.9 473.1 337.4 472.1 338.7 471.2 340.3 470.8 341.8 471.2 342.9 471.9 343.5 472.9 343.7 474.1 343.4 475.4" stroke-width="1.6"/></g><g clip-path="url(#clipd)" stroke="#e8088c" fill="none" stroke-linejoin="round" stroke-linecap="round"><path d="M539.6 304.8L539.2 305.3 538.7 305.9 538.3 306.4 537.9 306.9 537.4 307.4 537 308 536.5 308.5 536 309 535.5 309.5 534.9 310 534.4 310.5 533.8 311 533.2 311.5 532.6 312 532.1 312.5 531.5 313 531 313.5 530.4 314.1 529.9 314.6 529.4 315.2 528.9 315.8 528.3 316.4 527.8 317 527.3 317.6 526.8 318.2 526.2 318.9 525.7 319.6 525.2 320.2 524.6 320.9 524.1 321.6 523.5 322.3 523 323 522.4 323.7 521.9 324.4 521.3 325.1 520.7 325.9 520.1 326.6 519.6 327.3 519 328 518.5 328.6 518 329.2 517.6 329.8 517.1 330.3 516.7 330.9 516.3 331.4 515.9 331.9 515.4 332.5 515 333" stroke-width="2"/><path d="M533 306.5L533.5 306.9 534 307.3 534.5 307.8 535 308.2 535.5 308.7 536 309 536.5 309.3 537 309.5 537.5 309.6 538.1 309.6 538.7 309.5 539.2 309.4 539.8 309.2 540.4 309 540.9 308.7 541.5 308.5 542.1 308.2 542.6 307.9 543.2 307.5 543.8 307.1 544.3 306.7 544.9 306.3 545.4 305.9 546 305.5" stroke-width="1.4"/><path d="M503 335.2L504.5 334.5 506 333.9 507.5 333.2 509 332.5 510.6 331.7 512.2 330.9 513.7 330.2 515 329.5 516.1 328.8 517.1 328.2 517.9 327.8 518.5 328 518.9 328.9 519.1 330.5 519.2 332.3 519.5 334 520 335.7 520.6 337.5 521.2 339.3 522 341 522.9 342.5 523.8 344 524.8 345.4 526 347 527.3 348.8 528.8 350.8 530.3 352.8 531.7 354.5 532.9 355.9 534.1 357 535.2 358.1 536 359.4 536.6 361.2 537.1 363.3 537.3 365.2 537.4 366 537.3 365.5 536.9 364.1 536.4 362.2 535.5 360.5 534.2 358.9 532.6 357.3 530.8 355.6 529 354 527.1 352.4 525.1 350.7 523 349.1 521 347.5 519 346 516.9 344.6 514.9 343.2 513 342 511.2 341 509.5 340.1 507.9 339.3 506.5 338.5 505.4 337.7 504.6 336.8 503.8 336 503 335.2z" stroke-width="1" fill="#e8088c"/><path d="M537.2 366L537.7 365.5 538.1 365.1 538.5 364.6 539 364.1 539.4 363.7 539.9 363.2 540.4 362.8 541 362.5 541.6 362.2 542.4 361.9 543.1 361.6 543.9 361.3 544.7 361.1 545.5 361 546.3 360.9 547 361 547.8 361.2 548.7 361.6 549.7 362.1 550.6 362.7 551.4 363.3 552.1 363.8 552.5 364.4 552.6 364.8 552.4 365.2 551.8 365.5 551 365.8 550 366 549 366.3 547.9 366.5 546.9 366.7 546 367 545.2 367.3 544.4 367.5 543.6 367.7 542.9 368 542.1 368.2 541.4 368.5 540.7 368.7 540 369 539.3 369.3 538.5 369.7 537.8 370 537 370.4 536.4 370.8 535.9 371.1 535.6 371.3 535.5 371.5 535.7 371.6 536.1 371.6 536.8 371.6 537.6 371.5 538.4 371.4 539.3 371.3 540.2 371.1 541 371 541.8 370.9 542.6 370.7 543.5 370.6 544.4 370.4 545.2 370.3 546.1 370 546.8 369.8 547.5 369.5 548.1 369.1 548.8 368.7 549.4 368.3 550 367.8 550.5 367.3 550.9 366.8 551 366.4 551 366 550.7 365.6 550.2 365.3 549.5 364.9 548.7 364.6 547.7 364.4 546.8 364.1 545.9 364 545 364 544.1 364.1 543.2 364.2 542.3 364.3 541.3 364.6 540.4 364.9 539.5 365.4 538.7 365.9 538 366.5 537.4 367.3 537 368.2 536.6 369.2 536.2 370.3 535.9 371.5 535.7 372.7 535.3 373.8 535 374.9" stroke-width="1.7"/><path d="M538 367L539.2 366.5 540.4 365.9 541.6 365.3 542.8 364.8 544 364.5 545.4 364.4 547 364.3 548.5 364.4 549.6 364.7 550 365 549.6 365.5 548.5 366.3 547 367.1 545.4 367.8 544 368.5 542.7 369.1 541.3 369.7 540 370.2 538.8 370.5 538 370.5 537.6 370.2 537.6 369.5 537.7 368.7 537.9 367.8 538 367z" stroke-width="0.8" fill="#e8088c"/><path d="M535 374.9L534.6 375.5 534.1 376.2 533.7 376.8 533.3 377.4 532.9 378 532.4 378.7 532 379.3 531.5 380 531 380.7 530.5 381.4 530 382.2 529.4 383 528.9 383.7 528.3 384.5 527.8 385.2 527.3 385.9 526.8 386.5 526.3 387.2 525.9 387.7 525.4 388.3 524.9 388.9 524.4 389.4 524 390 523.5 390.5 523 391 522.5 391.6 522 392.1 521.5 392.6 521 393.1 520.6 393.7 520.1 394.2 519.6 394.7 519.1 395.2 518.6 395.8 518.2 396.3 517.7 396.8 517.2 397.3 516.8 397.9 516.4 398.4 516 399 515.7 399.6 515.4 400.2 515.1 400.8 514.9 401.5 514.7 402.1 514.5 402.7 514.2 403.4 514 404" stroke-width="2"/><path d="M516.3 407.3L517 408 517.9 408.8 518.2 410 517.2 411.1 515.5 411.9 513.8 412.6 511.9 413.1 509.7 413.3 507.5 412.9 505.6 411.9 504.7 410.3 504.9 408.7 506 407.3 507.8 406.5 509.6 406.4 510.9 406.8 511.8 407.1 513.1 407.3 515.4 407.4 518.9 407.9 522.2 409.3 523.5 411.2 522.6 412.9 520.1 413.8 517.4 413.9 515 413.8 512.6 413.8 509.7 413.3 507.2 412.2 505.6 410.4 505.7 408.7 506.7 407.4 507.3 406.4 508.1 405.5 509.6 404.8 511.8 404.5 514.3 404.6 516.6 405.2 518.6 406.1 519.8 407.3 520.2 408.6 520.3 409.9 520.3 411.3 519.6 413 517.4 414.3 514 414.6 510.7 414 508 413.1 505.8 411.9 504.5 410.5 504.6 408.9 506.2 407.5 508.1 406.4 509.5 405.3 511.2 404 513.6 402.8 516.6 402.5 519 403.2 520.2 404.6 520.6 406.1 520.7 407.8 520.2 409.5 519.1 411.1 517.5 412.3 515.4 412.9 513.2 412.9 511.2 412.4 509.6 411.5 507.9 410.6 505.6 409.7 503.5 408.4 502.7 406.8 503.6 405.2 506.1 404 509.5 403.3 513.1 402.9 516.8 402.4 520.9 402.4 524.4 403.3 526.2 405 525.3 407 522.9 408.7 519.8 409.8 517 410.6 514.7 411.2 512.5 411.8 510.1 412.2 507.6 412.2 505.7 411.4 505.6 410.1 506.9 408.9 508 408.2 508.6 407.3 509.2 406.2 510.7 405.3 512.9 404.9 514.8 405.1 516.1 405.4 517.6 405.6 518.7 406.2 518.5 407.2 517.1 408.2 515.4 408.9 514.2 409.3 513.4 409.9 512.3 410.7 510.6 411 508.7 410.8 506.8 410.2 505.6 409.1 505.3 407.8 505.8 406.6 507 405.5 508.8 404.4 511.2 403.4 514.3 403.2 517.1 404.1 518.4 406 518.3 408.1 517.7 409.8 517.5 411.3 517.5 412.8 516.9 414.2 515.3 415.2 512.9 415.5 510.3 415.1 507.9 413.9 505.8 412.5 504.1 410.9 502.7 409.2 502 407.5 501.9 405.7 502.7 403.9 505.2 402.5 508.7 402 512.2 402.6 514.9 403.8 517.1 405 519.7 406.2 522.8 407.8 524.7 410 524.2 412.3 521.7 413.7 518.8 414 516.6 413.8 514.6 413.6 512.1 413.3 509.7 412.2 508.3 410.6 507.8 409 507.5 407.7 507.5 406.5 508.1 405.4 509.2 404.4 511.1 403.8 513.3 404 515 404.8 516 405.8 517 406.7" stroke-width="1.9"/><path d="M522 412L522.3 412.5 522.6 412.9 523 413.3 523.3 413.8 523.6 414.2 523.9 414.7 524.2 415.3 524.5 416 524.8 416.8 525 417.8 525.3 418.9 525.5 420 525.8 421.1 526 422.2 526.3 423.1 526.6 424 526.9 424.7 527.3 425.4 527.6 426 528 426.5 528.3 427 528.7 427.5 529.1 428 529.5 428.5 529.9 429 530.3 429.4 530.8 429.9 531.2 430.3 531.7 430.7 532.1 431.1 532.6 431.6 533 432" stroke-width="2"/><path d="M533 432L533.6 431.6 534.2 431.2 534.7 430.8 535.3 430.3 535.9 429.9 536.5 429.6 537.2 429.3 538 429 538.9 428.8 539.8 428.6 540.8 428.5 541.9 428.4 542.9 428.3 544 428.3 545 428.4 546 428.5 547 428.7 548.1 429 549.2 429.4 550.3 429.9 551.3 430.3 552.1 430.8 552.7 431.3 553 431.8 553 432.3 552.6 432.8 552.1 433.3 551.4 433.9 550.5 434.4 549.7 434.9 548.8 435.5 548 436 547.2 436.5 546.4 437 545.5 437.5 544.6 438 543.6 438.5 542.7 439 541.8 439.5 541 440 540.1 440.6 539.2 441.2 538.2 441.8 537.2 442.4 536.4 443 535.7 443.6 535.2 444.1 535 444.5 535.1 444.8 535.4 445.1 536 445.3 536.7 445.5 537.5 445.6 538.4 445.6 539.2 445.6 540 445.5 540.8 445.3 541.6 445.1 542.5 444.8 543.5 444.4 544.4 444 545.3 443.5 546.2 443 547 442.5 547.8 441.9 548.6 441.3 549.3 440.6 550.1 439.8 550.8 439.1 551.4 438.4 552 437.7 552.5 437 552.9 436.4 553.4 435.7 553.7 435 554 434.4 554.2 433.8 554.3 433.2 554.2 432.8 554 432.5 553.5 432.3 552.8 432.2 552 432.1 551 432.2 550 432.3 548.9 432.5 547.9 432.7 547 433 546.1 433.4 545.2 433.8 544.3 434.3 543.4 434.8 542.5 435.4 541.6 436.1 540.8 436.8 540 437.5 539.2 438.3 538.5 439.2 537.8 440.1 537.2 441.1 536.5 442.1 535.8 443.1 535.2 444 534.5 445" stroke-width="1.7"/><path d="M536 441L537.2 439.9 538.4 438.7 539.5 437.5 540.7 436.4 542 435.5 543.5 434.6 545.3 433.7 546.9 433 548.3 432.5 549 432.5 549 433.1 548.3 434.1 547.3 435.4 546.2 436.8 545 438 543.7 439.2 542.2 440.6 540.6 441.9 539.1 442.9 538 443.5 537.3 443.5 536.8 443.1 536.6 442.4 536.3 441.6 536 441z" stroke-width="0.8" fill="#e8088c"/><path d="M534.5 445L534.1 445.6 533.7 446.2 533.3 446.8 532.8 447.4 532.4 448.1 532 448.7 531.5 449.3 531 450 530.5 450.7 529.9 451.4 529.3 452.2 528.7 452.9 528 453.7 527.4 454.4 526.7 455.2 526 456 525.3 456.8 524.5 457.6 523.7 458.5 522.9 459.3 522.1 460.2 521.4 461 520.7 461.8 520 462.5 519.4 463.2 518.9 463.8 518.4 464.3 517.9 464.9 517.4 465.4 517 465.9 516.5 466.5 516 467" stroke-width="2"/><path d="M505.5 466.5L506.9 466.7 508.3 466.9 509.7 467.1 511 467 512.3 466.7 513.6 466.1 514.8 465.5 516 465 517.3 464.4 518.5 463.7 519.7 463.3 520.5 463.5 520.9 464.6 520.9 466.3 520.9 468.2 521 470 521.4 471.5 521.9 473 522.4 474.5 522.6 476 522.5 477.7 522.2 479.6 521.6 481.2 521 482.5 520.1 483.3 519.1 483.7 518 483.8 517 483.5 516.2 482.7 515.5 481.5 514.8 480.2 514 479 513.1 478.1 512.1 477.2 511 476.4 510 475.5 508.9 474.6 507.8 473.6 506.8 472.6 506 471.5 505.6 470.3 505.5 469.1 505.5 467.8 505.5 466.5z" stroke-width="1" fill="#e8088c"/><path d="M520 476L518.9 478.3 516.7 479.3 514.7 479.2 513.4 478.4 512.7 477.7 512.2 477.2 511.5 476.3 511.3 474.8 512 473.1 513.2 471.8 514.7 471 515.8 470.6 516.9 470.1 518.2 469.8 520 470 521.6 471.4 522 473.7 520.8 476 518.7 477.7 516.6 478.7 514.6 479.5 512.6 479.7 511.2 478.7 511 476.7 511.6 475 511.9 473.9 511.3 472.6 510.9 470.5 511.7 468.7 513.6 468.5 515.4 469.8 516.5 471.6 517 473.2 517.1 474.5 516.9 475.5 516.4 476.2 515.9 477.1 514.9 478.3 513.2 479.5 511.1 479.7 509.6 478.5 509.3 476.8 509.7 475.4 510.2 474.3 511.1 473.5 512.1 473 512.8 472.5 513.5 471.3 514.9 469.8 517.1 469.3 518.4 471 517.2 473.5 514.8 474.8 513.6 475.1 513.4 475.7 513.2 476.7 512.3 477.6 511 477.7 509.6 477.1 508.5 476 508.2 474.5 509.2 473.1 510.6 472.3 511.7 471.7 512.6 471.1 513.8 470.7 515 471 516.2 471.5 517.5 472.5 518.6 474 518.8 476" stroke-width="1.5"/><path d="M520 482.5L520.7 483 521.5 483.5 522.2 483.9 522.9 484.4 523.7 484.9 524.4 485.4 525.2 485.9 526 486.5 526.9 487.1 527.8 487.8 528.7 488.5 529.7 489.2 530.6 489.9 531.5 490.6 532.3 491.2 533 491.8 533.6 492.3 534.1 492.7 534.5 493.1 534.9 493.5 535.2 493.9 535.5 494.2 535.7 494.6 536 495 536.2 495.4 536.4 495.8 536.5 496.2 536.7 496.7 536.7 497.1 536.8 497.5 536.9 498 537 498.5 537.1 499 537.2 499.6 537.2 500.1 537.3 500.7 537.3 501.3 537.4 501.9 537.4 502.4 537.5 503" stroke-width="2"/><path d="M535 511.5L535.7 509.6 536.3 507.6 537.1 505.7 538 504 539.1 502.5 540.4 501.1 541.8 500 543.5 499 545.7 498.2 548.3 497.5 550.7 497.1 552.3 497.2 552.8 498 552.5 499.4 551.8 501 551 502.5 550 503.8 548.8 505.1 547.4 506.4 546 507.5 544.5 508.6 543 509.5 541.5 510.4 540 511 538.7 511.3 537.4 511.4 536.2 511.4 535 511.5z" stroke-width="1" fill="#e8088c"/><path d="M537.5 507L537.1 507.6 536.6 508.1 536.2 508.7 535.8 509.2 535.4 509.8 534.9 510.3 534.5 510.9 534 511.5 533.5 512.1 532.9 512.7 532.4 513.3 531.8 513.9 531.2 514.5 530.6 515.2 530.1 515.8 529.5 516.5 528.9 517.2 528.4 517.9 527.8 518.6 527.2 519.3 526.7 520 526.1 520.8 525.6 521.6 525 522.4 524.4 523.3 523.9 524.2 523.3 525.2 522.7 526.1 522.1 527.1 521.6 528.1 521 529.1 520.5 530 520 530.9 519.5 531.8 519.1 532.7 518.6 533.6 518.2 534.5 517.8 535.3 517.4 536.2 517 537 516.6 537.8 516.3 538.6 516 539.3 515.7 540.1 515.5 540.8 515.2 541.5 514.9 542.3 514.6 543" stroke-width="2"/></g>
<g stroke="#000" stroke-width="2.4" fill="none"><path d="M37.8 509.5H167.5"/><path d="M159.3 503.3L168.6 509.5L159.3 515.7" stroke-linejoin="miter"/><path d="M445 510V403"/><path d="M438.8 411.2L445 401.8L451.2 411.2"/></g>
<circle cx="37.8" cy="509.5" r="3.9"/><circle cx="445" cy="510.2" r="3.9"/>
<text x="171.2" y="517.5" font-size="23" text-anchor="start">Path II</text>
<text transform="translate(449.7 395.4) rotate(-90)" font-size="22.7">Path I</text>
<text x="69.8" y="446.8" font-size="19" text-anchor="middle">C</text>
<text x="111.4" y="447.6" font-size="19" text-anchor="middle">B</text>
<text x="91.2" y="480.1" font-size="19" text-anchor="middle">A</text>
<text x="560.2" y="481.6" font-size="19" text-anchor="middle">C</text>
<text x="538.8" y="516.4" font-size="19" text-anchor="middle">B</text>
<text x="584.6" y="516.1" font-size="19" text-anchor="middle">A</text>
<rect x="617.2" y="304.9" width="23.3" height="238.5" fill="url(#cb)"/>
<text x="645.3" y="320" font-size="20" text-anchor="start">0.10</text>
<text x="646.8" y="430.4" font-size="20" text-anchor="start">0.05</text>
<text x="645.3" y="541" font-size="20" text-anchor="start">0.00</text>
<text transform="translate(636.4 421.8) rotate(-90)" font-size="19" text-anchor="middle">J/m<tspan font-size="12" dy="-7.5">2</tspan></text>
</svg></body></html>
